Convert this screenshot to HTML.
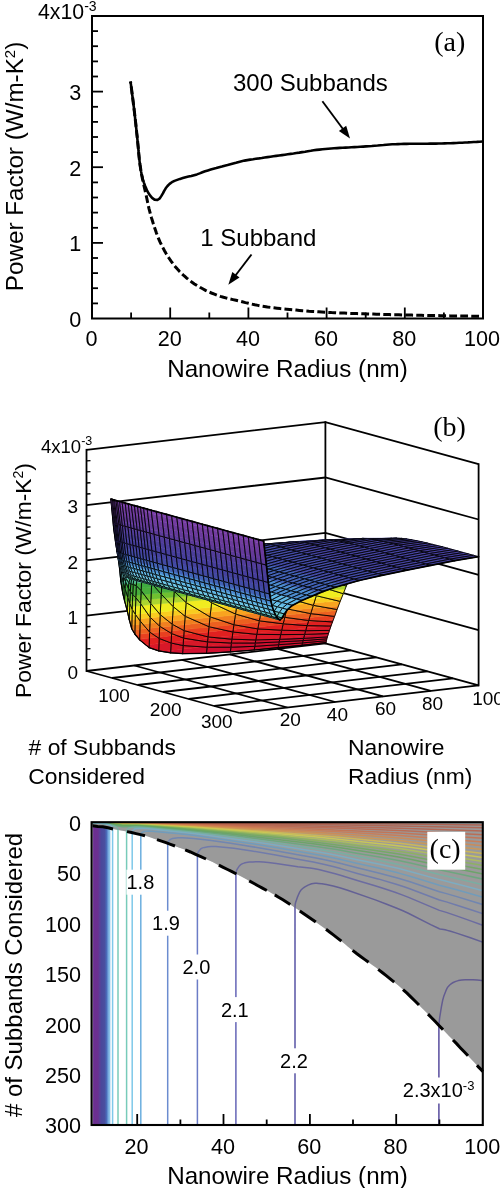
<!DOCTYPE html>
<html lang="en"><head><meta charset="utf-8"><title>Power factor vs nanowire radius</title>
<style>html,body{margin:0;padding:0;background:#fff}svg{display:block}text{fill:#000}</style></head>
<body>
<svg width="500" height="1188" viewBox="0 0 500 1188">
<polyline fill="none" stroke="#000" stroke-width="3" stroke-dasharray="7.8 3.2" stroke-dashoffset="-60" points="130.5,81.5 130.9,84.7 131.4,87.9 131.8,91.1 132.2,94.2 132.6,97.4 133,100.6 133.4,103.8 133.8,107 134.2,110.2 134.6,113.4 134.9,116.6 135.3,119.8 135.7,123 136,126.2 136.4,129.4 136.7,132.6 137.1,135.8 137.4,138.9 137.7,142.1 138,145.3 138.3,148.5 138.6,151.8 138.9,155 139.2,158.2 139.6,161.3 140,164.5 140.5,167.7 141,170.9 141.5,174 142.1,177.2 142.8,180.3 143.5,183.5 144.2,186.6 144.9,189.8 145.6,192.9 146.3,196 147,199.2 147.6,202.3 148.3,205.5 149,208.6 149.8,211.7 150.6,214.8 151.5,217.9 152.5,221 153.4,224.1 154.4,227.1 155.5,230.2 156.5,233.2 157.6,236.2 158.8,239.2 160.1,242.1 161.5,245 163,247.9 164.5,250.7 166.1,253.5 167.8,256.3 169.6,259 171.4,261.6 173.3,264.2 175.3,266.7 177.4,269.1 179.6,271.5 181.9,273.8 184.3,276 186.7,278.1 189.2,280.1 191.7,282 194.4,283.9 197.1,285.6 199.9,287.3 202.7,288.8 205.5,290.3 208.4,291.7 211.4,293 214.4,294.2 217.4,295.4 220.4,296.4 223.5,297.3 226.6,298.1 229.7,298.9 232.9,299.6 236,300.3 239.1,301 242.3,301.8 245.4,302.6 248.5,303.3 251.7,304.1 254.8,304.8 257.9,305.4 261.1,306 264.3,306.5 267.4,307 270.6,307.4 273.8,307.8 277,308.2 280.2,308.6 283.4,308.9 286.6,309.2 289.8,309.5 293,309.8 296.2,310.1 299.4,310.4 302.6,310.7 305.8,310.9 309,311.2 312.2,311.4 315.4,311.6 318.6,311.8 321.8,312 325.1,312.2 328.3,312.4 331.5,312.6 334.7,312.7 337.9,312.9 341.1,313 344.3,313.1 347.5,313.3 350.7,313.4 354,313.5 357.2,313.6 360.4,313.7 363.6,313.8 366.8,313.9 370,314 373.2,314.1 376.4,314.2 379.7,314.3 382.9,314.4 386.1,314.5 389.3,314.6 392.5,314.7 395.7,314.7 398.9,314.8 402.2,314.9 405.4,315 408.6,315.1 411.8,315.1 415,315.2 418.2,315.3 421.4,315.3 424.6,315.4 427.9,315.5 431.1,315.5 434.3,315.6 437.5,315.6 440.7,315.7 443.9,315.8 447.1,315.8 450.4,315.9 453.6,315.9 456.8,316 460,316 463.2,316.1 466.4,316.1 469.6,316.1 472.9,316.2 476.1,316.2 479.3,316.3 482.5,316.3"/>
<polyline fill="none" stroke="#000" stroke-width="2.6" stroke-linejoin="round" points="130.5,81.5 130.9,84.4 131.3,87.3 131.7,90.2 132,93.1 132.4,96 132.8,98.8 133.2,101.7 133.5,104.6 133.9,107.5 134.2,110.4 134.6,113.3 134.9,116.2 135.2,119.1 135.6,122 135.9,124.9 136.2,127.8 136.5,130.7 136.8,133.6 137.1,136.5 137.4,139.4 137.7,142.3 138,145.2 138.3,148.1 138.5,151 138.8,153.9 139.1,156.8 139.4,159.7 139.7,162.6 140.1,165.5 140.5,168.4 141,171.3 141.6,174.1 142.3,177 143,179.8 143.9,182.6 144.9,185.4 146,188.1 147.1,190.7 148.6,193.3 150.2,195.7 152.1,197.9 154.5,199.6 157.4,200 159.8,198.4 161.4,195.9 162.9,193.4 164.2,190.8 165.7,188.3 167.5,186 169.6,183.9 171.9,182.2 174.5,180.9 177.2,179.9 180,178.9 182.8,178.1 185.6,177.3 188.5,176.6 191.3,176 194.1,175.2 196.9,174.4 199.7,173.4 202.4,172.3 205.1,171.3 207.9,170.4 210.7,169.5 213.5,168.7 216.3,168 219.1,167.2 221.9,166.5 224.7,165.7 227.6,165 230.4,164.2 233.2,163.4 236,162.7 238.8,161.9 241.6,161.2 244.5,160.6 247.3,160.1 250.2,159.6 253.1,159.2 256,158.7 258.9,158.4 261.8,158 264.7,157.5 267.5,157.1 270.4,156.7 273.3,156.3 276.2,155.9 279.1,155.5 282,155.1 284.9,154.7 287.8,154.3 290.6,153.9 293.5,153.5 296.4,153 299.3,152.6 302.2,152.1 305.1,151.7 307.9,151.2 310.8,150.8 313.7,150.3 316.6,149.9 319.5,149.6 322.4,149.3 325.3,149 328.2,148.7 331.1,148.5 334,148.3 336.9,148.1 339.8,147.9 342.7,147.8 345.6,147.6 348.5,147.5 351.5,147.3 354.4,147.1 357.3,147 360.2,146.8 363.1,146.6 366,146.4 368.9,146.2 371.8,146 374.7,145.7 377.6,145.5 380.6,145.2 383.5,145 386.4,144.7 389.3,144.5 392.2,144.3 395.1,144.2 398,144.1 400.9,144 403.8,143.9 406.7,143.9 409.7,143.8 412.6,143.8 415.5,143.8 418.4,143.8 421.3,143.7 424.2,143.7 427.2,143.7 430.1,143.6 433,143.6 435.9,143.6 438.8,143.5 441.7,143.5 444.6,143.4 447.6,143.3 450.5,143.2 453.4,143.1 456.3,143 459.2,142.8 462.1,142.7 465,142.5 467.9,142.4 470.9,142.2 473.8,142 476.7,141.9 479.6,141.7 482.5,141.5"/>
<rect x="92" y="16" width="391" height="302.5" fill="none" stroke="#000" stroke-width="2"/>
<line x1="92" y1="31.1" x2="98" y2="31.1" stroke="#000" stroke-width="1.8"/>
<line x1="92" y1="46.2" x2="98" y2="46.2" stroke="#000" stroke-width="1.8"/>
<line x1="92" y1="61.4" x2="98" y2="61.4" stroke="#000" stroke-width="1.8"/>
<line x1="92" y1="76.5" x2="98" y2="76.5" stroke="#000" stroke-width="1.8"/>
<line x1="92" y1="91.6" x2="103" y2="91.6" stroke="#000" stroke-width="1.8"/>
<line x1="92" y1="106.8" x2="98" y2="106.8" stroke="#000" stroke-width="1.8"/>
<line x1="92" y1="121.9" x2="98" y2="121.9" stroke="#000" stroke-width="1.8"/>
<line x1="92" y1="137" x2="98" y2="137" stroke="#000" stroke-width="1.8"/>
<line x1="92" y1="152.1" x2="98" y2="152.1" stroke="#000" stroke-width="1.8"/>
<line x1="92" y1="167.2" x2="103" y2="167.2" stroke="#000" stroke-width="1.8"/>
<line x1="92" y1="182.4" x2="98" y2="182.4" stroke="#000" stroke-width="1.8"/>
<line x1="92" y1="197.5" x2="98" y2="197.5" stroke="#000" stroke-width="1.8"/>
<line x1="92" y1="212.6" x2="98" y2="212.6" stroke="#000" stroke-width="1.8"/>
<line x1="92" y1="227.8" x2="98" y2="227.8" stroke="#000" stroke-width="1.8"/>
<line x1="92" y1="242.9" x2="103" y2="242.9" stroke="#000" stroke-width="1.8"/>
<line x1="92" y1="258" x2="98" y2="258" stroke="#000" stroke-width="1.8"/>
<line x1="92" y1="273.1" x2="98" y2="273.1" stroke="#000" stroke-width="1.8"/>
<line x1="92" y1="288.2" x2="98" y2="288.2" stroke="#000" stroke-width="1.8"/>
<line x1="92" y1="303.4" x2="98" y2="303.4" stroke="#000" stroke-width="1.8"/>
<line x1="131.1" y1="318.5" x2="131.1" y2="312.5" stroke="#000" stroke-width="1.8"/>
<line x1="170.2" y1="318.5" x2="170.2" y2="307.5" stroke="#000" stroke-width="1.8"/>
<line x1="209.3" y1="318.5" x2="209.3" y2="312.5" stroke="#000" stroke-width="1.8"/>
<line x1="248.4" y1="318.5" x2="248.4" y2="307.5" stroke="#000" stroke-width="1.8"/>
<line x1="287.5" y1="318.5" x2="287.5" y2="312.5" stroke="#000" stroke-width="1.8"/>
<line x1="326.6" y1="318.5" x2="326.6" y2="307.5" stroke="#000" stroke-width="1.8"/>
<line x1="365.7" y1="318.5" x2="365.7" y2="312.5" stroke="#000" stroke-width="1.8"/>
<line x1="404.8" y1="318.5" x2="404.8" y2="307.5" stroke="#000" stroke-width="1.8"/>
<line x1="443.9" y1="318.5" x2="443.9" y2="312.5" stroke="#000" stroke-width="1.8"/>
<text x="81.2" y="326.8" font-size="21.6" text-anchor="end" font-family='"Liberation Sans", sans-serif'>0</text>
<text x="81.2" y="251.2" font-size="21.6" text-anchor="end" font-family='"Liberation Sans", sans-serif'>1</text>
<text x="81.2" y="175.6" font-size="21.6" text-anchor="end" font-family='"Liberation Sans", sans-serif'>2</text>
<text x="81.2" y="99.9" font-size="21.6" text-anchor="end" font-family='"Liberation Sans", sans-serif'>3</text>
<text x="38" y="19.3" font-size="21.3" text-anchor="start" font-family='"Liberation Sans", sans-serif'>4x10<tspan dy="-8.5" font-size="14">-3</tspan></text>
<text x="91.5" y="346.4" font-size="21.6" text-anchor="middle" font-family='"Liberation Sans", sans-serif'>0</text>
<text x="169.7" y="346.4" font-size="21.6" text-anchor="middle" font-family='"Liberation Sans", sans-serif'>20</text>
<text x="247.9" y="346.4" font-size="21.6" text-anchor="middle" font-family='"Liberation Sans", sans-serif'>40</text>
<text x="326.1" y="346.4" font-size="21.6" text-anchor="middle" font-family='"Liberation Sans", sans-serif'>60</text>
<text x="404.3" y="346.4" font-size="21.6" text-anchor="middle" font-family='"Liberation Sans", sans-serif'>80</text>
<text x="482" y="346.4" font-size="21.6" text-anchor="middle" font-family='"Liberation Sans", sans-serif'>100</text>
<text x="287.5" y="377.4" font-size="24.2" text-anchor="middle" font-family='"Liberation Sans", sans-serif'>Nanowire Radius (nm)</text>
<text transform="translate(22.7 166.5) rotate(-90)" font-size="24.25" text-anchor="middle" font-family='"Liberation Sans", sans-serif'>Power Factor (W/m-K<tspan dy="-8" font-size="15">2</tspan><tspan dy="8">)</tspan></text>
<text x="233" y="91" font-size="24" text-anchor="start" font-family='"Liberation Sans", sans-serif'>300 Subbands</text>
<text x="200.3" y="246.4" font-size="24" text-anchor="start" font-family='"Liberation Sans", sans-serif'>1 Subband</text>
<text x="434.3" y="50.6" font-size="28" text-anchor="start" font-family='"Liberation Serif", serif'>(a)</text>
<line x1="322.4" y1="101.2" x2="343.7" y2="130" stroke="#000" stroke-width="1.9"/>
<polygon points="350,138.4 338.9,131 346.2,125.7" fill="#000"/>
<line x1="251.5" y1="254.5" x2="234.7" y2="276.5" stroke="#000" stroke-width="1.9"/>
<polygon points="228.3,284.8 232.3,272.1 239.5,277.6" fill="#000"/>
<line x1="86.5" y1="671" x2="325.4" y2="643.4" stroke="#000" stroke-width="1.8"/>
<line x1="112" y1="678" x2="350.9" y2="650.4" stroke="#000" stroke-width="1.8"/>
<line x1="137.6" y1="685" x2="376.5" y2="657.4" stroke="#000" stroke-width="1.8"/>
<line x1="163.1" y1="692" x2="402" y2="664.4" stroke="#000" stroke-width="1.8"/>
<line x1="188.6" y1="699" x2="427.5" y2="671.4" stroke="#000" stroke-width="1.8"/>
<line x1="214.2" y1="706" x2="453.1" y2="678.4" stroke="#000" stroke-width="1.8"/>
<line x1="239.7" y1="713" x2="478.6" y2="685.4" stroke="#000" stroke-width="1.8"/>
<line x1="239.7" y1="713" x2="86.5" y2="671" stroke="#000" stroke-width="1.8"/>
<line x1="287.5" y1="707.5" x2="134.3" y2="665.5" stroke="#000" stroke-width="1.8"/>
<line x1="335.3" y1="702" x2="182.1" y2="660" stroke="#000" stroke-width="1.8"/>
<line x1="383" y1="696.4" x2="229.8" y2="654.4" stroke="#000" stroke-width="1.8"/>
<line x1="430.8" y1="690.9" x2="277.6" y2="648.9" stroke="#000" stroke-width="1.8"/>
<line x1="478.6" y1="685.4" x2="325.4" y2="643.4" stroke="#000" stroke-width="1.8"/>
<polyline fill="none" stroke="#000" stroke-width="1.8" stroke-linejoin="miter" points="86.5,615.7 325.4,588.1 478.6,630.1"/>
<polyline fill="none" stroke="#000" stroke-width="1.8" stroke-linejoin="miter" points="86.5,560.4 325.4,532.8 478.6,574.8"/>
<polyline fill="none" stroke="#000" stroke-width="1.8" stroke-linejoin="miter" points="86.5,505.1 325.4,477.5 478.6,519.5"/>
<polyline fill="none" stroke="#000" stroke-width="1.8" stroke-linejoin="miter" points="86.5,449.8 325.4,422.2 478.6,464.2"/>
<line x1="86.5" y1="671.9" x2="86.5" y2="448.9" stroke="#000" stroke-width="1.8"/>
<line x1="325.4" y1="644.3" x2="325.4" y2="421.3" stroke="#000" stroke-width="1.8"/>
<line x1="478.6" y1="686.3" x2="478.6" y2="463.3" stroke="#000" stroke-width="1.8"/>
<line x1="86.5" y1="659.9" x2="90.5" y2="659.6" stroke="#000" stroke-width="1.4"/>
<line x1="86.5" y1="648.9" x2="90.5" y2="648.6" stroke="#000" stroke-width="1.4"/>
<line x1="86.5" y1="637.8" x2="90.5" y2="637.5" stroke="#000" stroke-width="1.4"/>
<line x1="86.5" y1="626.8" x2="90.5" y2="626.5" stroke="#000" stroke-width="1.4"/>
<line x1="86.5" y1="604.6" x2="90.5" y2="604.3" stroke="#000" stroke-width="1.4"/>
<line x1="86.5" y1="593.6" x2="90.5" y2="593.3" stroke="#000" stroke-width="1.4"/>
<line x1="86.5" y1="582.5" x2="90.5" y2="582.2" stroke="#000" stroke-width="1.4"/>
<line x1="86.5" y1="571.5" x2="90.5" y2="571.2" stroke="#000" stroke-width="1.4"/>
<line x1="86.5" y1="549.3" x2="90.5" y2="549" stroke="#000" stroke-width="1.4"/>
<line x1="86.5" y1="538.3" x2="90.5" y2="538" stroke="#000" stroke-width="1.4"/>
<line x1="86.5" y1="527.2" x2="90.5" y2="526.9" stroke="#000" stroke-width="1.4"/>
<line x1="86.5" y1="516.2" x2="90.5" y2="515.9" stroke="#000" stroke-width="1.4"/>
<line x1="86.5" y1="494" x2="90.5" y2="493.7" stroke="#000" stroke-width="1.4"/>
<line x1="86.5" y1="483" x2="90.5" y2="482.7" stroke="#000" stroke-width="1.4"/>
<line x1="86.5" y1="471.9" x2="90.5" y2="471.6" stroke="#000" stroke-width="1.4"/>
<line x1="86.5" y1="460.9" x2="90.5" y2="460.6" stroke="#000" stroke-width="1.4"/>
<style>.k0{fill:#d01030;stroke:#d01030}.k1{fill:#d81828;stroke:#d81828}.k2{fill:#e02020;stroke:#e02020}.k3{fill:#e84020;stroke:#e84020}.k4{fill:#ec6020;stroke:#ec6020}.k5{fill:#f08020;stroke:#f08020}.k6{fill:#f8a420;stroke:#f8a420}.k7{fill:#f8cc20;stroke:#f8cc20}.k8{fill:#f0ec20;stroke:#f0ec20}.k9{fill:#acd430;stroke:#acd430}.k10{fill:#6fc030;stroke:#6fc030}.k11{fill:#48ae3c;stroke:#48ae3c}.k12{fill:#3faa3f;stroke:#3faa3f}.k13{fill:#4cb88c;stroke:#4cb88c}.k14{fill:#68c8c8;stroke:#68c8c8}.k15{fill:#70c8e8;stroke:#70c8e8}.k16{fill:#62b8e6;stroke:#62b8e6}.k17{fill:#4c8cd0;stroke:#4c8cd0}.k18{fill:#4262b6;stroke:#4262b6}.k19{fill:#424aa4;stroke:#424aa4}.k20{fill:#44429e;stroke:#44429e}.k21{fill:#463e9c;stroke:#463e9c}.k22{fill:#4a3e9a;stroke:#4a3e9a}.k23{fill:#513d9a;stroke:#513d9a}.k24{fill:#5c3b9a;stroke:#5c3b9a}.k25{fill:#643a9a;stroke:#643a9a}.k26{fill:#6b3a9c;stroke:#6b3a9c}.k27{fill:#733ca0;stroke:#733ca0}.k28{fill:#7a3fa8;stroke:#7a3fa8}.k0{}[class^=k]{stroke-width:.5}.m{fill:none;stroke:#000;stroke-width:.9;stroke-linejoin:round}.f{fill:none;stroke:#000;stroke-width:1.2;stroke-linecap:round}.e{fill:none;stroke:#000;stroke-width:1.7;stroke-linecap:round}</style>
<g><path class="k0" d="M302,645.3 325.9,642.7 326.4,640.7 302.5,642.9z"/>
<path class="m" d="M302,645.3 325.9,642.7 326.4,640.7 302.5,642.9z"/>
<path class="f" d="M302,645.3 325.9,642.7"/>
<path class="k0" d="M278.1,647.7 302,645.3 302.5,642.9 278.6,644.7z"/>
<path class="m" d="M278.1,647.7 302,645.3 302.5,642.9 278.6,644.7z"/>
<path class="f" d="M278.1,647.7 302,645.3"/>
<path class="k0" d="M254.2,650 278.1,647.7 278.6,644.7 254.8,646.3z"/>
<path class="m" d="M254.2,650 278.1,647.7 278.6,644.7 254.8,646.3z"/>
<path class="f" d="M254.2,650 278.1,647.7"/>
<path class="k0" d="M230.4,651.9 254.2,650 254.8,646.3 230.9,647.2z"/>
<path class="m" d="M230.4,651.9 254.2,650 254.8,646.3 230.9,647.2z"/>
<path class="f" d="M230.4,651.9 254.2,650"/>
<path class="k0" d="M206.5,653.3 230.4,651.9 230.9,647.2 207,647.2z"/>
<path class="m" d="M206.5,653.3 230.4,651.9 230.9,647.2 207,647.2z"/>
<path class="f" d="M206.5,653.3 230.4,651.9"/>
<path class="k0" d="M182.6,653.6 206.5,653.3 207,647.2zM182.6,653.6 207,647.2 202.7,646.9 182.9,649.1z"/>
<path class="k1" d="M202.7,646.9 183.1,645.5 182.9,649.1z"/>
<path class="m" d="M182.6,653.6 206.5,653.3 207,647.2 183.1,645.5z"/>
<path class="f" d="M182.6,653.6 206.5,653.3"/>
<path class="k0" d="M170.6,652.8 182.6,653.6 182.9,649.1 175.6,649.9zM170.6,652.8 175.6,649.9 170.7,650.5z"/>
<path class="k1" d="M182.9,649.1 183.1,645.5 175.6,649.9zM175.6,649.9 183.1,645.5 171.1,643 170.7,650.5z"/>
<path class="m" d="M170.6,652.8 182.6,653.6 183.1,645.5 171.1,643z"/>
<path class="f" d="M170.6,652.8 182.6,653.6"/>
<path class="k0" d="M161.8,651.4 170.6,652.8 170.7,650.5z"/>
<path class="k1" d="M158.7,650.9 161.8,651.4 170.7,650.5 171.1,643zM158.7,650.9 171.1,643 169.6,642.4 159,643.6z"/>
<path class="k2" d="M169.6,642.4 159.2,638.4 159,643.6z"/>
<path class="m" d="M158.7,650.9 170.6,652.8 171.1,643 159.2,638.4z"/>
<path class="f" d="M158.7,650.9 170.6,652.8"/>
<path class="k1" d="M149.1,647.6 158.7,650.9 159,643.6 152.8,644.3zM149.1,647.6 152.8,644.3 149.2,644.6z"/>
<path class="k2" d="M159,643.6 159.2,638.4 152.8,644.3zM152.8,644.3 159.2,638.4 157.4,637.2 149.4,638.1 149.2,644.6z"/>
<path class="k3" d="M157.4,637.2 151.1,633 149.6,633.1 149.4,638.1z"/>
<path class="k4" d="M151.1,633 149.6,632 149.6,633.1z"/>
<path class="m" d="M149.1,647.6 158.7,650.9 159.2,638.4 149.6,632z"/>
<path class="f" d="M149.1,647.6 158.7,650.9"/>
<path class="k1" d="M145.8,645 149.1,647.6 149.2,644.6z"/>
<path class="k2" d="M139.6,639.9 145.8,645 149.2,644.6 149.4,638.1 140.8,639zM139.6,639.9 140.8,639 139.6,639.1z"/>
<path class="k3" d="M149.4,638.1 149.6,633.1 148,633.3 140.8,639zM140.8,639 148,633.3 139.7,634.1 139.6,639.1z"/>
<path class="k4" d="M149.6,633.1 149.6,632 148,633.3zM148,633.3 149.6,632 146.6,628.5 139.9,629.2 139.7,634.1z"/>
<path class="k5" d="M146.6,628.5 142.7,624 140,624.3 139.9,629.2z"/>
<path class="k6" d="M142.7,624 140.1,620.9 140,624.3z"/>
<path class="m" d="M139.6,639.9 149.1,647.6 149.6,632 140.1,620.9z"/>
<path class="f" d="M139.6,639.9 149.1,647.6"/>
<path class="k2" d="M138.9,639.2 139.6,639.9 139.6,639.1z"/>
<path class="k3" d="M135.3,634.6 138.9,639.2 139.6,639.1 139.7,634.1z"/>
<path class="k4" d="M134.8,634 135.3,634.6 139.7,634.1 139.9,629.2 136.6,629.5zM134.8,634 136.6,629.5 134.9,629.7z"/>
<path class="k5" d="M139.9,629.2 140,624.3 138.7,624.4 136.6,629.5zM136.6,629.5 138.7,624.4 135,624.8 134.9,629.7z"/>
<path class="k6" d="M140,624.3 140.1,620.9 138.7,624.4zM138.7,624.4 140.1,620.9 138.7,618.9 135.2,619.3 135,624.8z"/>
<path class="k7" d="M138.7,618.9 135.4,614.3 135.3,614.3 135.2,619.3z"/>
<path class="k8" d="M135.4,614.3 135.3,614.2 135.3,614.3z"/>
<path class="m" d="M134.8,634 139.6,639.9 140.1,620.9 135.3,614.2z"/>
<path class="f" d="M134.8,634 139.6,639.9"/>
<path class="k4" d="M132.4,629.9 134.8,634 134.9,629.7z"/>
<path class="k5" d="M131.7,628.7 132.4,629.9 134.9,629.7 135,624.8 132.6,625zM131.7,628.7 132.6,625 131.8,625.1z"/>
<path class="k6" d="M135,624.8 135.2,619.3 134,619.4 132.6,625zM132.6,625 134,619.4 131.9,619.6 131.8,625.1z"/>
<path class="k7" d="M135.2,619.3 135.3,614.3 135.3,614.3 134,619.4zM134,619.4 135.3,614.3 132.1,614.7 131.9,619.6z"/>
<path class="k8" d="M135.3,614.3 135.3,614.2 135.3,614.3zM135.3,614.3 135.3,614.2 132.2,609.3 132.1,614.7z"/>
<path class="m" d="M131.7,628.7 134.8,634 135.3,614.2 132.2,609.3z"/>
<path class="f" d="M131.7,628.7 134.8,634"/>
<path class="k5" d="M130.7,625.2 131.7,628.7 131.8,625.1z"/>
<path class="k6" d="M129.3,619.8 130.7,625.2 131.8,625.1 131.9,619.6 129.3,619.8zM129.3,619.8 129.3,619.8 129.3,619.8z"/>
<path class="k7" d="M131.9,619.6 132.1,614.7 130.7,614.8 129.3,619.8zM129.3,619.8 130.7,614.8 129.4,614.9 129.3,619.8z"/>
<path class="k8" d="M132.1,614.7 132.2,609.3 130.7,614.8zM130.7,614.8 132.2,609.3 131.1,606.5 129.7,606.6 129.4,614.9z"/>
<path class="k9" d="M131.1,606.5 129.8,603.1 129.7,606.6z"/>
<path class="m" d="M129.3,619.8 131.7,628.7 132.2,609.3 129.8,603.1z"/>
<path class="f" d="M129.3,619.8 131.7,628.7"/>
<path class="k6" d="M129.3,619.8 129.3,619.8 129.3,619.8z"/>
<path class="k7" d="M128.2,615 129.3,619.8 129.3,619.8 129.4,614.9z"/>
<path class="k8" d="M127.3,611.1 128.2,615 129.4,614.9 129.7,606.6 128.7,606.7zM127.3,611.1 128.7,606.7 127.5,606.8z"/>
<path class="k9" d="M129.7,606.6 129.8,603.1 128.7,606.7zM128.7,606.7 129.8,603.1 129.2,601.2 127.7,601.3 127.5,606.8z"/>
<path class="k10" d="M129.2,601.2 127.8,597.1 127.7,601.3z"/>
<path class="m" d="M127.3,611.1 129.3,619.8 129.8,603.1 127.8,597.1z"/>
<path class="f" d="M127.3,611.1 129.3,619.8"/>
<path class="k8" d="M126.2,606.9 127.3,611.1 127.5,606.8z"/>
<path class="k9" d="M124.8,601.5 126.2,606.9 127.5,606.8 127.7,601.3z"/>
<path class="k10" d="M124.5,600.6 124.8,601.5 127.7,601.3 127.8,597.1zM124.5,600.6 127.8,597.1 127.4,595.9 124.7,596.1z"/>
<path class="k11" d="M127.4,595.9 125.3,589.5 125,589.5 124.7,596.1z"/>
<path class="k12" d="M125.3,589.5 125,588.5 125,589.5z"/>
<path class="m" d="M124.5,600.6 127.3,611.1 127.8,597.1 125,588.5z"/>
<path class="f" d="M124.5,600.6 127.3,611.1"/>
<path class="k10" d="M123.5,596.1 124.5,600.6 124.7,596.1z"/>
<path class="k11" d="M122.7,593 123.5,596.1 124.7,596.1 125,589.5 124.5,589.5zM122.7,593 124.5,589.5 122.9,589.6z"/>
<path class="k12" d="M125,589.5 125,588.5 124.5,589.5zM124.5,589.5 125,588.5 123.8,584.1 123.1,584.2 122.9,589.6z"/>
<path class="k13" d="M123.8,584.1 123.2,582 123.1,584.2z"/>
<path class="m" d="M122.7,593 124.5,600.6 125,588.5 123.2,582z"/>
<path class="f" d="M122.7,593 124.5,600.6"/>
<path class="k11" d="M122.2,589.7 122.7,593 122.9,589.6z"/>
<path class="k12" d="M121.3,584.2 122.2,589.7 122.9,589.6 123.1,584.2z"/>
<path class="k13" d="M120.9,581.7 121.3,584.2 123.1,584.2 123.2,582zM120.9,581.7 123.2,582 122.5,578.8 121.1,578.8z"/>
<path class="k14" d="M122.5,578.8 121.4,573.8 121.1,578.8z"/>
<path class="m" d="M120.9,581.7 122.7,593 123.2,582 121.4,573.8z"/>
<path class="f" d="M120.9,581.7 122.7,593"/>
<path class="k13" d="M120.6,578.8 120.9,581.7 121.1,578.8z"/>
<path class="k14" d="M120,573.3 120.6,578.8 121.1,578.8 121.4,573.8 121.3,573.4zM121.3,573.4 121.4,573.8 121.3,573.4z"/>
<path class="k15" d="M119.5,568 120,573.3 121.3,573.4zM119.5,568 121.3,573.4 121.3,573.4 120.4,567.9 119.5,567.9z"/>
<path class="k16" d="M120.4,567.9 120,565.8 119.5,567.9z"/>
<path class="m" d="M119.5,568 120.9,581.7 121.4,573.8 120,565.8z"/>
<path class="f" d="M119.5,568 120.9,581.7"/>
<path class="k15" d="M119.5,567.8 119.5,568 119.5,567.9z"/>
<path class="k16" d="M118.7,562.4 119.5,567.8 119.5,567.9 120,565.8 119.2,562.5zM119.2,562.5 120,565.8 119.4,562.5z"/>
<path class="k17" d="M118.2,558.6 118.7,562.4 119.2,562.5zM118.2,558.6 119.2,562.5 119.4,562.5 118.7,559.1z"/>
<path class="m" d="M118.2,558.6 119.5,568 120,565.8 118.7,559.1z"/>
<path class="f" d="M118.2,558.6 119.5,568"/>
<path class="k17" d="M117.9,557 118.2,558.6 118.7,559.1 118.3,557.1zM118.3,557.1 118.7,559.1 118.4,557.1z"/>
<path class="k18" d="M117,551.5 117.9,557 118.3,557.1 117,551.5zM117,551.5 118.3,557.1 118.4,557.1 117.5,552.1 117.1,551.6z"/>
<path class="k19" d="M117,551.5 117,551.5 117,551.5zM117,551.5 117,551.5 117.1,551.6z"/>
<path class="m" d="M117,551.5 118.2,558.6 118.7,559.1 117.5,552.1z"/>
<path class="f" d="M117,551.5 118.2,558.6"/>
<path class="k18" d="M117.1,551.6 117.5,552.1 117.4,551.7zM117.4,551.7 117.5,552.1 117.5,551.7z"/>
<path class="k19" d="M116.1,546.1 117,551.5 117.1,551.6 117.4,551.7 116.3,546.2zM116.3,546.2 117.4,551.7 117.5,551.7 116.8,546.2z"/>
<path class="k20" d="M115.7,543.2 116.1,546.1 116.3,546.2zM115.7,543.2 116.3,546.2 116.8,546.2 116.2,541.3z"/>
<path class="m" d="M115.7,543.2 117,551.5 117.5,552.1 116.2,541.3z"/>
<path class="f" d="M115.7,543.2 117,551.5"/>
<path class="k20" d="M115.3,540.7 115.7,543.2 116.2,541.3 116.1,540.8zM116.1,540.8 116.2,541.3 116.1,540.8z"/>
<path class="k21" d="M114.6,535.2 115.3,540.7 116.1,540.8 115,535.3zM115,535.3 116.1,540.8 116.1,540.8 115.5,535.3z"/>
<path class="k22" d="M113.9,529.8 114.6,535.2 115,535.3 114,529.8zM114,529.8 115,535.3 115.5,535.3 114.9,529.9z"/>
<path class="k23" d="M113.7,528.6 113.9,529.8 114,529.8zM113.7,528.6 114,529.8 114.9,529.9 114.3,524.4 114.2,524.4z"/>
<path class="k24" d="M114.3,524.4 114.3,524.2 114.2,524.4z"/>
<path class="m" d="M113.7,528.6 115.7,543.2 116.2,541.3 114.3,524.2z"/>
<path class="f" d="M113.7,528.6 115.7,543.2"/>
<path class="k23" d="M113.3,524.3 113.7,528.6 114.2,524.4z"/>
<path class="k24" d="M112.8,518.9 113.3,524.3 114.2,524.4 114.3,524.2 113.6,518.9zM113.6,518.9 114.3,524.2 113.7,519z"/>
<path class="k25" d="M112.3,513.4 112.8,518.9 113.6,518.9 112.8,513.4zM112.8,513.4 113.6,518.9 113.7,519 113,513.5z"/>
<path class="k26" d="M111.7,507.9 112.3,513.4 112.8,513.4 112.1,507.9zM112.1,507.9 112.8,513.4 113,513.5 112.4,508z"/>
<path class="k27" d="M111.2,502.4 111.7,507.9 112.1,507.9 111.3,502.5zM111.3,502.5 112.1,507.9 112.4,508 111.8,502.6z"/>
<path class="k28" d="M110.9,499.2 111.2,502.4 111.3,502.5zM110.9,499.2 111.3,502.5 111.8,502.6 111.4,499.3z"/>
<path class="m" d="M110.9,499.2 113.7,528.6 114.3,524.2 111.4,499.3z"/>
<path class="e" d="M110.9,499.2 111.4,499.3"/>
<path class="f" d="M110.9,499.2 113.7,528.6"/>
<path class="k0" d="M302.5,642.9 326.4,640.7 326.9,638.8 303,640.6z"/>
<path class="m" d="M302.5,642.9 326.4,640.7 326.9,638.8 303,640.6z"/>
<path class="k0" d="M278.6,644.7 302.5,642.9 303,640.6 279.2,641.9z"/>
<path class="m" d="M278.6,644.7 302.5,642.9 303,640.6 279.2,641.9z"/>
<path class="k0" d="M254.8,646.3 278.6,644.7 279.2,641.9 255.3,643z"/>
<path class="m" d="M254.8,646.3 278.6,644.7 279.2,641.9 255.3,643z"/>
<path class="k0" d="M230.9,647.2 254.8,646.3 255.3,643zM230.9,647.2 255.3,643 238.1,643 231.3,643.8z"/>
<path class="k1" d="M238.1,643 231.4,643 231.3,643.8z"/>
<path class="m" d="M230.9,647.2 254.8,646.3 255.3,643 231.4,643z"/>
<path class="k0" d="M207,647.2 230.9,647.2 231.3,643.8 219.4,645.1zM207,647.2 219.4,645.1 207,646.4z"/>
<path class="k1" d="M231.3,643.8 231.4,643 219.4,645.1zM219.4,645.1 231.4,643 207.5,641.9 207,646.4z"/>
<path class="m" d="M207,647.2 230.9,647.2 231.4,643 207.5,641.9z"/>
<path class="k0" d="M202.7,646.9 207,647.2 207,646.4z"/>
<path class="k1" d="M183.1,645.5 202.7,646.9 207,646.4 207.5,641.9zM183.1,645.5 207.5,641.9 194.3,639.8 183.4,641z"/>
<path class="k2" d="M194.3,639.8 183.6,638.1 183.4,641z"/>
<path class="m" d="M183.1,645.5 207,647.2 207.5,641.9 183.6,638.1z"/>
<path class="k1" d="M171.1,643 183.1,645.5 183.4,641 173.8,642zM171.1,643 173.8,642 171.2,642.3z"/>
<path class="k2" d="M183.4,641 183.6,638.1 173.8,642zM173.8,642 183.6,638.1 176.2,635.2 171.5,635.7 171.2,642.3z"/>
<path class="k3" d="M176.2,635.2 171.6,633.5 171.5,635.7z"/>
<path class="m" d="M171.1,643 183.1,645.5 183.6,638.1 171.6,633.5z"/>
<path class="k1" d="M169.6,642.4 171.1,643 171.2,642.3z"/>
<path class="k2" d="M159.2,638.4 169.6,642.4 171.2,642.3 171.5,635.7 164,636.5zM159.2,638.4 164,636.5 159.3,637z"/>
<path class="k3" d="M171.5,635.7 171.6,633.5 164,636.5zM164,636.5 171.6,633.5 167.9,631.2 159.5,632.1 159.3,637z"/>
<path class="k4" d="M167.9,631.2 161.1,627 159.7,627.2 159.5,632.1z"/>
<path class="k5" d="M161.1,627 159.7,626.2 159.7,627.2z"/>
<path class="m" d="M159.2,638.4 171.1,643 171.6,633.5 159.7,626.2z"/>
<path class="k2" d="M157.4,637.2 159.2,638.4 159.3,637z"/>
<path class="k3" d="M151.1,633 157.4,637.2 159.3,637 159.5,632.1z"/>
<path class="k4" d="M149.6,632 151.1,633 159.5,632.1 159.7,627.2 157.6,627.4zM149.6,632 157.6,627.4 149.8,628.2z"/>
<path class="k5" d="M159.7,627.2 159.7,626.2 157.6,627.4zM157.6,627.4 159.7,626.2 155.9,622.7 149.9,623.3 149.8,628.2z"/>
<path class="k6" d="M155.9,622.7 150.7,617.7 150.1,617.8 149.9,623.3z"/>
<path class="k7" d="M150.7,617.7 150.1,617.2 150.1,617.8z"/>
<path class="m" d="M149.6,632 159.2,638.4 159.7,626.2 150.1,617.2z"/>
<path class="k4" d="M146.6,628.5 149.6,632 149.8,628.2z"/>
<path class="k5" d="M142.7,624 146.6,628.5 149.8,628.2 149.9,623.3z"/>
<path class="k6" d="M140.1,620.9 142.7,624 149.9,623.3 150.1,617.8 148,618zM140.1,620.9 148,618 140.1,618.8z"/>
<path class="k7" d="M150.1,617.8 150.1,617.2 148,618zM148,618 150.1,617.2 147.3,613.1 140.3,613.8 140.1,618.8z"/>
<path class="k8" d="M147.3,613.1 142,605.5 140.5,605.6 140.3,613.8z"/>
<path class="k9" d="M142,605.5 140.6,603.5 140.5,605.6z"/>
<path class="m" d="M140.1,620.9 149.6,632 150.1,617.2 140.6,603.5z"/>
<path class="k6" d="M138.7,618.9 140.1,620.9 140.1,618.8z"/>
<path class="k7" d="M135.4,614.3 138.7,618.9 140.1,618.8 140.3,613.8z"/>
<path class="k8" d="M135.3,614.2 135.4,614.3 140.3,613.8 140.5,605.6 139.5,605.7zM135.3,614.2 139.5,605.7 135.5,606.1z"/>
<path class="k9" d="M140.5,605.6 140.6,603.5 139.5,605.7zM139.5,605.7 140.6,603.5 138.1,600.4 135.7,600.6 135.5,606.1z"/>
<path class="k10" d="M138.1,600.4 135.8,597.6 135.7,600.6z"/>
<path class="m" d="M135.3,614.2 140.1,620.9 140.6,603.5 135.8,597.6z"/>
<path class="k8" d="M132.2,609.3 135.3,614.2 135.5,606.1 133.1,606.3zM132.2,609.3 133.1,606.3 132.3,606.4z"/>
<path class="k9" d="M135.5,606.1 135.7,600.6 134.8,600.7 133.1,606.3zM133.1,606.3 134.8,600.7 132.5,600.9 132.3,606.4z"/>
<path class="k10" d="M135.7,600.6 135.8,597.6 134.8,600.7zM134.8,600.7 135.8,597.6 133.6,595.4 132.7,595.5 132.5,600.9z"/>
<path class="k11" d="M133.6,595.4 132.7,594.5 132.7,595.5z"/>
<path class="m" d="M132.2,609.3 135.3,614.2 135.8,597.6 132.7,594.5z"/>
<path class="k8" d="M131.1,606.5 132.2,609.3 132.3,606.4z"/>
<path class="k9" d="M129.8,603.1 131.1,606.5 132.3,606.4 132.5,600.9 130.5,601.1zM129.8,603.1 130.5,601.1 129.9,601.2z"/>
<path class="k10" d="M132.5,600.9 132.7,595.5 132.4,595.5 130.5,601.1zM130.5,601.1 132.4,595.5 130.1,595.7 129.9,601.2z"/>
<path class="k11" d="M132.7,595.5 132.7,594.5 132.4,595.5zM132.4,595.5 132.7,594.5 130.3,591.3 130.1,595.7z"/>
<path class="m" d="M129.8,603.1 132.2,609.3 132.7,594.5 130.3,591.3z"/>
<path class="k9" d="M129.2,601.2 129.8,603.1 129.9,601.2z"/>
<path class="k10" d="M127.8,597.1 129.2,601.2 129.9,601.2 130.1,595.7 128.4,595.8zM127.8,597.1 128.4,595.8 127.9,595.9z"/>
<path class="k11" d="M130.1,595.7 130.3,591.3 128.4,595.8zM128.4,595.8 130.3,591.3 129.1,589.3 128.3,589.3 127.9,595.9z"/>
<path class="k12" d="M129.1,589.3 128.3,587.9 128.3,589.3z"/>
<path class="m" d="M127.8,597.1 129.8,603.1 130.3,591.3 128.3,587.9z"/>
<path class="k10" d="M127.4,595.9 127.8,597.1 127.9,595.9z"/>
<path class="k11" d="M125.3,589.5 127.4,595.9 127.9,595.9 128.3,589.3z"/>
<path class="k12" d="M125,588.5 125.3,589.5 128.3,589.3 128.3,587.9zM125,588.5 128.3,587.9 126.6,584 125.4,584.1z"/>
<path class="k13" d="M126.6,584 125.5,581.5 125.4,584.1z"/>
<path class="m" d="M125,588.5 127.8,597.1 128.3,587.9 125.5,581.5z"/>
<path class="k12" d="M123.8,584.1 125,588.5 125.4,584.1z"/>
<path class="k13" d="M123.2,582 123.8,584.1 125.4,584.1 125.5,581.5zM123.2,582 125.5,581.5 124.6,578.7 123.5,578.8z"/>
<path class="k14" d="M124.6,578.7 123.7,576.4 123.5,578.8z"/>
<path class="m" d="M123.2,582 125,588.5 125.5,581.5 123.7,576.4z"/>
<path class="k13" d="M122.5,578.8 123.2,582 123.5,578.8z"/>
<path class="k14" d="M121.4,573.8 122.5,578.8 123.5,578.8 123.7,576.4zM121.4,573.8 123.7,576.4 122.8,573.4 121.5,573.4z"/>
<path class="k15" d="M122.8,573.4 121.9,570.5 121.5,573.4z"/>
<path class="m" d="M121.4,573.8 123.2,582 123.7,576.4 121.9,570.5z"/>
<path class="k14" d="M121.3,573.4 121.4,573.8 121.5,573.4z"/>
<path class="k15" d="M120.4,567.9 121.3,573.4 121.5,573.4 121.9,570.5 120.9,568zM120.9,568 121.9,570.5 121.3,568z"/>
<path class="k16" d="M120,565.8 120.4,567.9 120.9,568zM120,565.8 120.9,568 121.3,568 120.5,565.1z"/>
<path class="m" d="M120,565.8 121.4,573.8 121.9,570.5 120.5,565.1z"/>
<path class="k16" d="M119.4,562.5 120,565.8 120.5,565.1 119.8,562.6zM119.8,562.6 120.5,565.1 120,562.7z"/>
<path class="k17" d="M118.7,559.1 119.4,562.5 119.8,562.6zM118.7,559.1 119.8,562.6 120,562.7 119.2,559.4z"/>
<path class="m" d="M118.7,559.1 120,565.8 120.5,565.1 119.2,559.4z"/>
<path class="k17" d="M118.4,557.1 118.7,559.1 119.2,559.4 118.7,557.2zM118.7,557.2 119.2,559.4 118.9,557.3z"/>
<path class="k18" d="M117.5,552.1 118.4,557.1 118.7,557.2zM117.5,552.1 118.7,557.2 118.9,557.3 118,552.4z"/>
<path class="m" d="M117.5,552.1 118.7,559.1 119.2,559.4 118,552.4z"/>
<path class="k18" d="M117.5,551.7 117.5,552.1 118,552.4 117.9,551.8zM117.9,551.8 118,552.4 118,551.8z"/>
<path class="k19" d="M116.8,546.2 117.5,551.7 117.9,551.8 117,546.3zM117,546.3 117.9,551.8 118,551.8 117.3,546.4z"/>
<path class="k20" d="M116.2,541.3 116.8,546.2 117,546.3zM116.2,541.3 117,546.3 117.3,546.4 116.7,541z"/>
<path class="m" d="M116.2,541.3 117.5,552.1 118,552.4 116.7,541z"/>
<path class="k20" d="M116.1,540.8 116.2,541.3 116.7,541 116.7,540.9zM116.7,540.9 116.7,541 116.7,540.9z"/>
<path class="k21" d="M115.5,535.3 116.1,540.8 116.7,540.9 115.9,535.4zM115.9,535.4 116.7,540.9 116.7,540.9 116.1,535.5z"/>
<path class="k22" d="M114.9,529.9 115.5,535.3 115.9,535.4 115.1,529.9zM115.1,529.9 115.9,535.4 116.1,535.5 115.5,530z"/>
<path class="k23" d="M114.3,524.4 114.9,529.9 115.1,529.9 114.3,524.4zM114.3,524.4 115.1,529.9 115.5,530 114.9,524.5z"/>
<path class="k24" d="M114.3,524.2 114.3,524.4 114.3,524.4zM114.3,524.2 114.3,524.4 114.9,524.5 114.8,523.6z"/>
<path class="m" d="M114.3,524.2 116.2,541.3 116.7,541 114.8,523.6z"/>
<path class="k24" d="M113.7,519 114.3,524.2 114.8,523.6 114.1,519.1zM114.1,519.1 114.8,523.6 114.2,519.1z"/>
<path class="k25" d="M113,513.5 113.7,519 114.1,519.1 113.4,513.6zM113.4,513.6 114.1,519.1 114.2,519.1 113.6,513.6z"/>
<path class="k26" d="M112.4,508 113,513.5 113.4,513.6 112.6,508.1zM112.6,508.1 113.4,513.6 113.6,513.6 113,508.2z"/>
<path class="k27" d="M111.8,502.6 112.4,508 112.6,508.1 111.9,502.6zM111.9,502.6 112.6,508.1 113,508.2 112.3,502.7z"/>
<path class="k28" d="M111.4,499.3 111.8,502.6 111.9,502.6zM111.4,499.3 111.9,502.6 112.3,502.7 111.9,499.4z"/>
<path class="m" d="M111.4,499.3 114.3,524.2 114.8,523.6 111.9,499.4z"/>
<path class="e" d="M111.4,499.3 111.9,499.4"/>
<path class="k0" d="M303,640.6 326.9,638.8 327.4,636.9 303.6,638.4z"/>
<path class="m" d="M303,640.6 326.9,638.8 327.4,636.9 303.6,638.4z"/>
<path class="k0" d="M279.2,641.9 303,640.6 303.6,638.4 279.7,639.3z"/>
<path class="m" d="M279.2,641.9 303,640.6 303.6,638.4 279.7,639.3z"/>
<path class="k0" d="M255.3,643 279.2,641.9 279.7,639.3zM255.3,643 279.7,639.3 269.8,639.6 255.6,641.1z"/>
<path class="k1" d="M269.8,639.6 255.8,639.9 255.6,641.1z"/>
<path class="m" d="M255.3,643 279.2,641.9 279.7,639.3 255.8,639.9z"/>
<path class="k0" d="M238.1,643 255.3,643 255.6,641.1z"/>
<path class="k1" d="M231.4,643 238.1,643 255.6,641.1 255.8,639.9zM231.4,643 255.8,639.9 231.9,639.2z"/>
<path class="m" d="M231.4,643 255.3,643 255.8,639.9 231.9,639.2z"/>
<path class="k1" d="M207.5,641.9 231.4,643 231.9,639.2zM207.5,641.9 231.9,639.2 215.2,637.6 207.8,638.4z"/>
<path class="k2" d="M215.2,637.6 208,636.9 207.8,638.4z"/>
<path class="m" d="M207.5,641.9 231.4,643 231.9,639.2 208,636.9z"/>
<path class="k1" d="M194.3,639.8 207.5,641.9 207.8,638.4z"/>
<path class="k2" d="M183.6,638.1 194.3,639.8 207.8,638.4 208,636.9zM183.6,638.1 208,636.9 194.5,633.3 183.8,634.5z"/>
<path class="k3" d="M194.5,633.3 184.1,630.6 183.8,634.5z"/>
<path class="m" d="M183.6,638.1 207.5,641.9 208,636.9 184.1,630.6z"/>
<path class="k2" d="M176.2,635.2 183.6,638.1 183.8,634.5z"/>
<path class="k3" d="M171.6,633.5 176.2,635.2 183.8,634.5 184.1,630.6zM171.6,633.5 184.1,630.6 182.5,629.7 171.8,630.8z"/>
<path class="k4" d="M182.5,629.7 174.9,625.6 172.1,625.9 171.8,630.8z"/>
<path class="k5" d="M174.9,625.6 172.2,624.2 172.1,625.9z"/>
<path class="m" d="M171.6,633.5 183.6,638.1 184.1,630.6 172.2,624.2z"/>
<path class="k3" d="M167.9,631.2 171.6,633.5 171.8,630.8z"/>
<path class="k4" d="M161.1,627 167.9,631.2 171.8,630.8 172.1,625.9z"/>
<path class="k5" d="M159.7,626.2 161.1,627 172.1,625.9 172.2,624.2zM159.7,626.2 172.2,624.2 168.7,621.4 159.9,622.3z"/>
<path class="k6" d="M168.7,621.4 162.6,616.5 160.1,616.8 159.9,622.3z"/>
<path class="k7" d="M162.6,616.5 160.2,614.6 160.1,616.8z"/>
<path class="m" d="M159.7,626.2 171.6,633.5 172.2,624.2 160.2,614.6z"/>
<path class="k5" d="M155.9,622.7 159.7,626.2 159.9,622.3z"/>
<path class="k6" d="M150.7,617.7 155.9,622.7 159.9,622.3 160.1,616.8z"/>
<path class="k7" d="M150.1,617.2 150.7,617.7 160.1,616.8 160.2,614.6zM150.1,617.2 160.2,614.6 158.1,612.1 150.3,612.9z"/>
<path class="k8" d="M158.1,612.1 151.7,604.5 150.6,604.6 150.3,612.9z"/>
<path class="k9" d="M151.7,604.5 150.7,603.3 150.6,604.6z"/>
<path class="m" d="M150.1,617.2 159.7,626.2 160.2,614.6 150.7,603.3z"/>
<path class="k7" d="M147.3,613.1 150.1,617.2 150.3,612.9z"/>
<path class="k8" d="M142,605.5 147.3,613.1 150.3,612.9 150.6,604.6z"/>
<path class="k9" d="M140.6,603.5 142,605.5 150.6,604.6 150.7,603.3zM140.6,603.5 150.7,603.3 147.8,599.5 140.7,600.1z"/>
<path class="k10" d="M147.8,599.5 144,594.4 140.9,594.7 140.7,600.1z"/>
<path class="k11" d="M144,594.4 141.1,590.5 140.9,594.7z"/>
<path class="m" d="M140.6,603.5 150.1,617.2 150.7,603.3 141.1,590.5z"/>
<path class="k9" d="M138.1,600.4 140.6,603.5 140.7,600.1z"/>
<path class="k10" d="M135.8,597.6 138.1,600.4 140.7,600.1 140.9,594.7 137.8,595zM135.8,597.6 137.8,595 135.9,595.1z"/>
<path class="k11" d="M140.9,594.7 141.1,590.5 137.8,595zM137.8,595 141.1,590.5 138.9,588.3 136.2,588.6 135.9,595.1z"/>
<path class="k12" d="M138.9,588.3 136.3,585.7 136.2,588.6z"/>
<path class="m" d="M135.8,597.6 140.6,603.5 141.1,590.5 136.3,585.7z"/>
<path class="k10" d="M133.6,595.4 135.8,597.6 135.9,595.1z"/>
<path class="k11" d="M132.7,594.5 133.6,595.4 135.9,595.1 136.2,588.6 135.1,588.7zM132.7,594.5 135.1,588.7 133,588.9z"/>
<path class="k12" d="M136.2,588.6 136.3,585.7 135.1,588.7zM135.1,588.7 136.3,585.7 133.2,584.4 133,588.9z"/>
<path class="m" d="M132.7,594.5 135.8,597.6 136.3,585.7 133.2,584.4z"/>
<path class="k11" d="M130.3,591.3 132.7,594.5 133,588.9 131.2,589.1zM130.3,591.3 131.2,589.1 130.5,589.2z"/>
<path class="k12" d="M133,588.9 133.2,584.4 131.2,589.1zM131.2,589.1 133.2,584.4 130.8,583.9 130.5,589.2z"/>
<path class="m" d="M130.3,591.3 132.7,594.5 133.2,584.4 130.8,583.9z"/>
<path class="k11" d="M129.1,589.3 130.3,591.3 130.5,589.2z"/>
<path class="k12" d="M128.3,587.9 129.1,589.3 130.5,589.2 130.8,583.9zM128.3,587.9 130.8,583.9 130.6,583.7 128.7,583.9z"/>
<path class="k13" d="M130.6,583.7 128.8,582.7 128.7,583.9z"/>
<path class="m" d="M128.3,587.9 130.3,591.3 130.8,583.9 128.8,582.7z"/>
<path class="k12" d="M126.6,584 128.3,587.9 128.7,583.9z"/>
<path class="k13" d="M125.5,581.5 126.6,584 128.7,583.9 128.8,582.7zM125.5,581.5 128.8,582.7 126.3,578.7 126,578.7z"/>
<path class="k14" d="M126.3,578.7 126,578.4 126,578.7z"/>
<path class="m" d="M125.5,581.5 128.3,587.9 128.8,582.7 126,578.4z"/>
<path class="k13" d="M124.6,578.7 125.5,581.5 126,578.7z"/>
<path class="k14" d="M123.7,576.4 124.6,578.7 126,578.7 126,578.4zM123.7,576.4 126,578.4 124.3,574.4z"/>
<path class="m" d="M123.7,576.4 125.5,581.5 126,578.4 124.3,574.4z"/>
<path class="k14" d="M122.8,573.4 123.7,576.4 124.3,574.4 123.7,573.4zM123.7,573.4 124.3,574.4 123.9,573.5z"/>
<path class="k15" d="M121.9,570.5 122.8,573.4 123.7,573.4zM121.9,570.5 123.7,573.4 123.9,573.5 122.4,569.6z"/>
<path class="m" d="M121.9,570.5 123.7,576.4 124.3,574.4 122.4,569.6z"/>
<path class="k15" d="M121.3,568 121.9,570.5 122.4,569.6 121.8,568.1zM121.8,568.1 122.4,569.6 122,568.2z"/>
<path class="k16" d="M120.5,565.1 121.3,568 121.8,568.1zM120.5,565.1 121.8,568.1 122,568.2 121,565z"/>
<path class="m" d="M120.5,565.1 121.9,570.5 122.4,569.6 121,565z"/>
<path class="k16" d="M120,562.7 120.5,565.1 121,565 120.3,562.7zM120.3,562.7 121,565 120.5,562.8z"/>
<path class="k17" d="M119.2,559.4 120,562.7 120.3,562.7zM119.2,559.4 120.3,562.7 120.5,562.8 119.7,559.5z"/>
<path class="m" d="M119.2,559.4 120.5,565.1 121,565 119.7,559.5z"/>
<path class="k17" d="M118.9,557.3 119.2,559.4 119.7,559.5 119.2,557.4zM119.2,557.4 119.7,559.5 119.4,557.4z"/>
<path class="k18" d="M118,552.4 118.9,557.3 119.2,557.4zM118,552.4 119.2,557.4 119.4,557.4 118.5,552.5z"/>
<path class="m" d="M118,552.4 119.2,559.4 119.7,559.5 118.5,552.5z"/>
<path class="k18" d="M118,551.8 118,552.4 118.5,552.5 118.4,552zM118.4,552 118.5,552.5 118.5,552z"/>
<path class="k19" d="M117.3,546.4 118,551.8 118.4,552 117.5,546.4zM117.5,546.4 118.4,552 118.5,552 117.8,546.5z"/>
<path class="k20" d="M116.7,541 117.3,546.4 117.5,546.4zM116.7,541 117.5,546.4 117.8,546.5 117.2,541.1z"/>
<path class="m" d="M116.7,541 118,552.4 118.5,552.5 117.2,541.1z"/>
<path class="k20" d="M116.7,540.9 116.7,541 117.2,541.1 117.2,541.1zM117.2,541.1 117.2,541.1 117.2,541.1z"/>
<path class="k21" d="M116.1,535.5 116.7,540.9 117.2,541.1 116.4,535.6zM116.4,535.6 117.2,541.1 117.2,541.1 116.6,535.6z"/>
<path class="k22" d="M115.5,530 116.1,535.5 116.4,535.6 115.7,530.1zM115.7,530.1 116.4,535.6 116.6,535.6 116,530.1z"/>
<path class="k23" d="M114.9,524.5 115.5,530 115.7,530.1 114.9,524.5zM114.9,524.5 115.7,530.1 116,530.1 115.4,524.7z"/>
<path class="k24" d="M114.8,523.6 114.9,524.5 114.9,524.5zM114.8,523.6 114.9,524.5 115.4,524.7 115.3,523.6z"/>
<path class="m" d="M114.8,523.6 116.7,541 117.2,541.1 115.3,523.6z"/>
<path class="k24" d="M114.2,519.1 114.8,523.6 115.3,523.6 114.7,519.2zM114.7,519.2 115.3,523.6 114.8,519.2z"/>
<path class="k25" d="M113.6,513.6 114.2,519.1 114.7,519.2 113.9,513.7zM113.9,513.7 114.7,519.2 114.8,519.2 114.1,513.8z"/>
<path class="k26" d="M113,508.2 113.6,513.6 113.9,513.7 113.1,508.2zM113.1,508.2 113.9,513.7 114.1,513.8 113.5,508.3z"/>
<path class="k27" d="M112.3,502.7 113,508.2 113.1,508.2 112.4,502.7zM112.4,502.7 113.1,508.2 113.5,508.3 112.8,502.9z"/>
<path class="k28" d="M111.9,499.4 112.3,502.7 112.4,502.7zM111.9,499.4 112.4,502.7 112.8,502.9 112.4,499.6z"/>
<path class="m" d="M111.9,499.4 114.8,523.6 115.3,523.6 112.4,499.6z"/>
<path class="e" d="M111.9,499.4 112.4,499.6"/>
<path class="k0" d="M303.6,638.4 327.4,636.9 328.5,633.5zM303.6,638.4 328.5,633.5 324.5,633.6 304.2,635.8z"/>
<path class="k1" d="M324.5,633.6 304.6,634.4 304.2,635.8z"/>
<path class="m" d="M303.6,638.4 327.4,636.9 328.5,633.5 304.6,634.4z"/>
<path class="k0" d="M279.7,639.3 303.6,638.4 304.2,635.8 288.7,637.5zM279.7,639.3 288.7,637.5 279.8,638.5z"/>
<path class="k1" d="M304.2,635.8 304.6,634.4 288.7,637.5zM288.7,637.5 304.6,634.4 280.7,634.6 279.8,638.5z"/>
<path class="m" d="M279.7,639.3 303.6,638.4 304.6,634.4 280.7,634.6z"/>
<path class="k0" d="M269.8,639.6 279.7,639.3 279.8,638.5z"/>
<path class="k1" d="M255.8,639.9 269.8,639.6 279.8,638.5 280.7,634.6zM255.8,639.9 280.7,634.6 256.8,634.3z"/>
<path class="m" d="M255.8,639.9 279.7,639.3 280.7,634.6 256.8,634.3z"/>
<path class="k1" d="M231.9,639.2 255.8,639.9 256.8,634.3zM231.9,639.2 256.8,634.3 251.5,633.8 232.4,635.8z"/>
<path class="k2" d="M251.5,633.8 232.9,632 232.4,635.8z"/>
<path class="m" d="M231.9,639.2 255.8,639.9 256.8,634.3 232.9,632z"/>
<path class="k1" d="M215.2,637.6 231.9,639.2 232.4,635.8z"/>
<path class="k2" d="M208,636.9 215.2,637.6 232.4,635.8 232.9,632zM208,636.9 232.9,632 224.9,630.2 208.5,631.9z"/>
<path class="k3" d="M224.9,630.2 210.1,626.9 209,627.1 208.5,631.9z"/>
<path class="k4" d="M210.1,626.9 209,626.7 209,627.1z"/>
<path class="m" d="M208,636.9 231.9,639.2 232.9,632 209,626.7z"/>
<path class="k2" d="M194.5,633.3 208,636.9 208.5,631.9z"/>
<path class="k3" d="M184.1,630.6 194.5,633.3 208.5,631.9 209,627.1 202.7,627.7zM184.1,630.6 202.7,627.7 184.2,629.6z"/>
<path class="k4" d="M209,627.1 209,626.7 202.7,627.7zM202.7,627.7 209,626.7 200.7,623.1 184.5,624.7 184.2,629.6z"/>
<path class="k5" d="M200.7,623.1 191.8,619.1 184.9,619.8 184.5,624.7z"/>
<path class="k6" d="M191.8,619.1 185.1,616.2 184.9,619.8z"/>
<path class="m" d="M184.1,630.6 208,636.9 209,626.7 185.1,616.2z"/>
<path class="k3" d="M182.5,629.7 184.1,630.6 184.2,629.6z"/>
<path class="k4" d="M174.9,625.6 182.5,629.7 184.2,629.6 184.5,624.7z"/>
<path class="k5" d="M172.2,624.2 174.9,625.6 184.5,624.7 184.9,619.8 178.2,620.5zM172.2,624.2 178.2,620.5 172.3,621z"/>
<path class="k6" d="M184.9,619.8 185.1,616.2 178.2,620.5zM178.2,620.5 185.1,616.2 183.1,614.6 172.7,615.6 172.3,621z"/>
<path class="k7" d="M183.1,614.6 177.7,610.2 172.9,610.7 172.7,615.6z"/>
<path class="k8" d="M177.7,610.2 173.2,606.6 172.9,610.7z"/>
<path class="m" d="M172.2,624.2 184.1,630.6 185.1,616.2 173.2,606.6z"/>
<path class="k5" d="M168.7,621.4 172.2,624.2 172.3,621z"/>
<path class="k6" d="M162.6,616.5 168.7,621.4 172.3,621 172.7,615.6z"/>
<path class="k7" d="M160.2,614.6 162.6,616.5 172.7,615.6 172.9,610.7 165.4,611.4zM160.2,614.6 165.4,611.4 160.3,611.9z"/>
<path class="k8" d="M172.9,610.7 173.2,606.6 165.4,611.4zM165.4,611.4 173.2,606.6 169.6,602.9 160.8,603.7 160.3,611.9z"/>
<path class="k9" d="M169.6,602.9 164.9,597.9 161,598.2 160.8,603.7z"/>
<path class="k10" d="M164.9,597.9 161.2,594.1 161,598.2z"/>
<path class="m" d="M160.2,614.6 172.2,624.2 173.2,606.6 161.2,594.1z"/>
<path class="k7" d="M158.1,612.1 160.2,614.6 160.3,611.9z"/>
<path class="k8" d="M151.7,604.5 158.1,612.1 160.3,611.9 160.8,603.7z"/>
<path class="k9" d="M150.7,603.3 151.7,604.5 160.8,603.7 161,598.2 155.9,598.7zM150.7,603.3 155.9,598.7 150.9,599.2z"/>
<path class="k10" d="M161,598.2 161.2,594.1 155.9,598.7zM155.9,598.7 161.2,594.1 160.2,592.9 151.1,593.7 150.9,599.2z"/>
<path class="k11" d="M160.2,592.9 154.8,586.9 151.5,587.2 151.1,593.7z"/>
<path class="k12" d="M154.8,586.9 151.7,583.3 151.5,587.2z"/>
<path class="m" d="M150.7,603.3 160.2,614.6 161.2,594.1 151.7,583.3z"/>
<path class="k9" d="M147.8,599.5 150.7,603.3 150.9,599.2z"/>
<path class="k10" d="M144,594.4 147.8,599.5 150.9,599.2 151.1,593.7z"/>
<path class="k11" d="M141.1,590.5 144,594.4 151.1,593.7 151.5,587.2 145.2,587.7zM141.1,590.5 145.2,587.7 141.3,588.1z"/>
<path class="k12" d="M151.5,587.2 151.7,583.3 145.2,587.7zM145.2,587.7 151.7,583.3 150.2,581.9 141.6,582.7 141.3,588.1z"/>
<path class="k13" d="M150.2,581.9 145,577 141.9,577.2 141.6,582.7z"/>
<path class="k14" d="M145,577 142.1,574.2 141.9,577.2z"/>
<path class="m" d="M141.1,590.5 150.7,603.3 151.7,583.3 142.1,574.2z"/>
<path class="k11" d="M138.9,588.3 141.1,590.5 141.3,588.1z"/>
<path class="k12" d="M136.3,585.7 138.9,588.3 141.3,588.1 141.6,582.7 137.7,583zM136.3,585.7 137.7,583 136.5,583.1z"/>
<path class="k13" d="M141.6,582.7 141.9,577.2 140.5,577.4 137.7,583zM137.7,583 140.5,577.4 137,577.7 136.5,583.1z"/>
<path class="k14" d="M141.9,577.2 142.1,574.2 140.5,577.4zM140.5,577.4 142.1,574.2 137.3,573.5 137,577.7z"/>
<path class="m" d="M136.3,585.7 141.1,590.5 142.1,574.2 137.3,573.5z"/>
<path class="k12" d="M133.2,584.4 136.3,585.7 136.5,583.1 133.6,583.4zM133.2,584.4 133.6,583.4 133.3,583.5z"/>
<path class="k13" d="M136.5,583.1 137,577.7 135.7,577.9 133.6,583.4zM133.6,583.4 135.7,577.9 134,578.1 133.3,583.5z"/>
<path class="k14" d="M137,577.7 137.3,573.5 135.7,577.9zM135.7,577.9 137.3,573.5 134.2,575.8 134,578.1z"/>
<path class="m" d="M133.2,584.4 136.3,585.7 137.3,573.5 134.2,575.8z"/>
<path class="k12" d="M130.8,583.9 133.2,584.4 133.3,583.5 130.9,583.7zM130.8,583.9 130.9,583.7 130.9,583.7z"/>
<path class="k13" d="M133.3,583.5 134,578.1 133.2,578.2 130.9,583.7zM130.9,583.7 133.2,578.2 131.8,578.5 130.9,583.7z"/>
<path class="k14" d="M134,578.1 134.2,575.8 133.2,578.2zM133.2,578.2 134.2,575.8 131.8,578.3 131.8,578.5z"/>
<path class="m" d="M130.8,583.9 133.2,584.4 134.2,575.8 131.8,578.3z"/>
<path class="k12" d="M130.6,583.7 130.8,583.9 130.9,583.7z"/>
<path class="k13" d="M128.8,582.7 130.6,583.7 130.9,583.7 131.8,578.5 131.7,578.5zM128.8,582.7 131.7,578.5 131.5,578.5 129.9,579.5z"/>
<path class="k14" d="M131.8,578.5 131.8,578.3 131.7,578.5zM131.7,578.5 131.8,578.3 131.5,578.5z"/>
<path class="m" d="M128.8,582.7 130.8,583.9 131.8,578.3 129.9,579.5z"/>
<path class="k13" d="M126.3,578.7 128.8,582.7 129.9,579.5 127.2,578.7zM127.2,578.7 129.9,579.5 129.1,578.8z"/>
<path class="k14" d="M126,578.4 126.3,578.7 127.2,578.7zM126,578.4 127.2,578.7 129.1,578.8 127.1,577z"/>
<path class="m" d="M126,578.4 128.8,582.7 129.9,579.5 127.1,577z"/>
<path class="k14" d="M124.3,574.4 126,578.4 127.1,577 125.3,573.8z"/>
<path class="m" d="M124.3,574.4 126,578.4 127.1,577 125.3,573.8z"/>
<path class="k14" d="M123.9,573.5 124.3,574.4 125.3,573.8 125.2,573.7zM125.2,573.7 125.3,573.8 125.2,573.7z"/>
<path class="k15" d="M122.4,569.6 123.9,573.5 125.2,573.7zM122.4,569.6 125.2,573.7 125.2,573.7 123.4,569.5z"/>
<path class="m" d="M122.4,569.6 124.3,574.4 125.3,573.8 123.4,569.5z"/>
<path class="k15" d="M122,568.2 122.4,569.6 123.4,569.5 122.8,568.4zM122.8,568.4 123.4,569.5 123.1,568.4z"/>
<path class="k16" d="M121,565 122,568.2 122.8,568.4zM121,565 122.8,568.4 123.1,568.4 122.1,565.2z"/>
<path class="m" d="M121,565 122.4,569.6 123.4,569.5 122.1,565.2z"/>
<path class="k16" d="M120.5,562.8 121,565 122.1,565.2 121.1,563zM121.1,563 122.1,565.2 121.5,563.1z"/>
<path class="k17" d="M119.7,559.5 120.5,562.8 121.1,563zM119.7,559.5 121.1,563 121.5,563.1 120.8,559.8z"/>
<path class="m" d="M119.7,559.5 121,565 122.1,565.2 120.8,559.8z"/>
<path class="k17" d="M119.4,557.4 119.7,559.5 120.8,559.8 120.1,557.6zM120.1,557.6 120.8,559.8 120.4,557.7z"/>
<path class="k18" d="M118.5,552.5 119.4,557.4 120.1,557.6zM118.5,552.5 120.1,557.6 120.4,557.7 119.5,552.8z"/>
<path class="m" d="M118.5,552.5 119.7,559.5 120.8,559.8 119.5,552.8z"/>
<path class="k18" d="M118.5,552 118.5,552.5 119.5,552.8 119.4,552.2zM119.4,552.2 119.5,552.8 119.5,552.3z"/>
<path class="k19" d="M117.8,546.5 118.5,552 119.4,552.2 118.3,546.7zM118.3,546.7 119.4,552.2 119.5,552.3 118.8,546.8z"/>
<path class="k20" d="M117.2,541.1 117.8,546.5 118.3,546.7zM117.2,541.1 118.3,546.7 118.8,546.8 118.2,541.3z"/>
<path class="m" d="M117.2,541.1 118.5,552.5 119.5,552.8 118.2,541.3z"/>
<path class="k20" d="M117.2,541.1 117.2,541.1 118.2,541.3 118.2,541.3zM118.2,541.3 118.2,541.3 118.2,541.3z"/>
<path class="k21" d="M116.6,535.6 117.2,541.1 118.2,541.3 117.3,535.8zM117.3,535.8 118.2,541.3 118.2,541.3 117.6,535.9z"/>
<path class="k22" d="M116,530.1 116.6,535.6 117.3,535.8 116.4,530.2zM116.4,530.2 117.3,535.8 117.6,535.9 117,530.4z"/>
<path class="k23" d="M115.4,524.7 116,530.1 116.4,530.2 115.5,524.7zM115.5,524.7 116.4,530.2 117,530.4 116.4,525z"/>
<path class="k24" d="M115.3,523.6 115.4,524.7 115.5,524.7zM115.3,523.6 115.5,524.7 116.4,525 116.3,523.9z"/>
<path class="m" d="M115.3,523.6 117.2,541.1 118.2,541.3 116.3,523.9z"/>
<path class="k24" d="M114.8,519.2 115.3,523.6 116.3,523.9 115.6,519.5zM115.6,519.5 116.3,523.9 115.8,519.5z"/>
<path class="k25" d="M114.1,513.8 114.8,519.2 115.6,519.5 114.7,513.9zM114.7,513.9 115.6,519.5 115.8,519.5 115.1,514z"/>
<path class="k26" d="M113.5,508.3 114.1,513.8 114.7,513.9 113.8,508.4zM113.8,508.4 114.7,513.9 115.1,514 114.5,508.6z"/>
<path class="k27" d="M112.8,502.9 113.5,508.3 113.8,508.4 113,502.9zM113,502.9 113.8,508.4 114.5,508.6 113.8,503.1z"/>
<path class="k28" d="M112.4,499.6 112.8,502.9 113,502.9zM112.4,499.6 113,502.9 113.8,503.1 113.5,499.9z"/>
<path class="m" d="M112.4,499.6 115.3,523.6 116.3,523.9 113.5,499.9z"/>
<path class="e" d="M112.4,499.6 113.5,499.9"/>
<path class="k0" d="M324.5,633.6 328.5,633.5 328.6,633.2z"/>
<path class="k1" d="M304.6,634.4 324.5,633.6 328.6,633.2 329.5,630.4zM304.6,634.4 329.5,630.4 305.6,630.7z"/>
<path class="m" d="M304.6,634.4 328.5,633.5 329.5,630.4 305.6,630.7z"/>
<path class="k1" d="M280.7,634.6 304.6,634.4 305.6,630.7zM280.7,634.6 305.6,630.7 285.3,630.3 281.6,630.7z"/>
<path class="k2" d="M285.3,630.3 281.7,630.2 281.6,630.7z"/>
<path class="m" d="M280.7,634.6 304.6,634.4 305.6,630.7 281.7,630.2z"/>
<path class="k1" d="M256.8,634.3 280.7,634.6 281.6,630.7 274.1,631.4zM256.8,634.3 274.1,631.4 257,633.2z"/>
<path class="k2" d="M281.6,630.7 281.7,630.2 274.1,631.4zM274.1,631.4 281.7,630.2 257.8,628.9 257,633.2z"/>
<path class="m" d="M256.8,634.3 280.7,634.6 281.7,630.2 257.8,628.9z"/>
<path class="k1" d="M251.5,633.8 256.8,634.3 257,633.2z"/>
<path class="k2" d="M232.9,632 251.5,633.8 257,633.2 257.8,628.9zM232.9,632 257.8,628.9 250.7,627.6 233.3,629.4z"/>
<path class="k3" d="M250.7,627.6 233.9,624.7 233.3,629.4z"/>
<path class="m" d="M232.9,632 256.8,634.3 257.8,628.9 233.9,624.7z"/>
<path class="k2" d="M224.9,630.2 232.9,632 233.3,629.4z"/>
<path class="k3" d="M210.1,626.9 224.9,630.2 233.3,629.4 233.9,624.7 229.3,625.1zM229.3,625.1 233.9,624.7 233.7,624.6z"/>
<path class="k4" d="M209,626.7 210.1,626.9 229.3,625.1zM209,626.7 229.3,625.1 233.7,624.6 222.5,620.9 209.5,622.2z"/>
<path class="k5" d="M222.5,620.9 211.3,617.3 210,617.4 209.5,622.2z"/>
<path class="k6" d="M211.3,617.3 210,616.8 210,617.4z"/>
<path class="m" d="M209,626.7 232.9,632 233.9,624.7 210,616.8z"/>
<path class="k4" d="M200.7,623.1 209,626.7 209.5,622.2z"/>
<path class="k5" d="M191.8,619.1 200.7,623.1 209.5,622.2 210,617.4z"/>
<path class="k6" d="M185.1,616.2 191.8,619.1 210,617.4 210,616.8zM185.1,616.2 210,616.8 203.1,612.7 185.3,614.4z"/>
<path class="k7" d="M203.1,612.7 196.2,608.5 185.6,609.5 185.3,614.4z"/>
<path class="k8" d="M196.2,608.5 186.1,602.5 185.6,609.5z"/>
<path class="m" d="M185.1,616.2 209,626.7 210,616.8 186.1,602.5z"/>
<path class="k6" d="M183.1,614.6 185.1,616.2 185.3,614.4z"/>
<path class="k7" d="M177.7,610.2 183.1,614.6 185.3,614.4 185.6,609.5z"/>
<path class="k8" d="M173.2,606.6 177.7,610.2 185.6,609.5 186.1,602.5zM173.2,606.6 186.1,602.5 185.1,601.5 173.4,602.5z"/>
<path class="k9" d="M185.1,601.5 179.8,596.6 173.8,597.1 173.4,602.5z"/>
<path class="k10" d="M179.8,596.6 174.6,591.6 174.2,591.7 173.8,597.1z"/>
<path class="k11" d="M174.6,591.6 174.2,591.3 174.2,591.7z"/>
<path class="m" d="M173.2,606.6 185.1,616.2 186.1,602.5 174.2,591.3z"/>
<path class="k8" d="M169.6,602.9 173.2,606.6 173.4,602.5z"/>
<path class="k9" d="M164.9,597.9 169.6,602.9 173.4,602.5 173.8,597.1z"/>
<path class="k10" d="M161.2,594.1 164.9,597.9 173.8,597.1 174.2,591.7 171.2,591.9zM161.2,594.1 171.2,591.9 161.3,592.8z"/>
<path class="k11" d="M174.2,591.7 174.2,591.3 171.2,591.9zM171.2,591.9 174.2,591.3 168.6,585.7 161.8,586.3 161.3,592.8z"/>
<path class="k12" d="M168.6,585.7 163.6,580.7 162.2,580.9 161.8,586.3z"/>
<path class="k13" d="M163.6,580.7 162.3,579.4 162.2,580.9z"/>
<path class="m" d="M161.2,594.1 173.2,606.6 174.2,591.3 162.3,579.4z"/>
<path class="k10" d="M160.2,592.9 161.2,594.1 161.3,592.8z"/>
<path class="k11" d="M154.8,586.9 160.2,592.9 161.3,592.8 161.8,586.3z"/>
<path class="k12" d="M151.7,583.3 154.8,586.9 161.8,586.3 162.2,580.9 157.1,581.3zM151.7,583.3 157.1,581.3 151.8,581.7z"/>
<path class="k13" d="M162.2,580.9 162.3,579.4 157.1,581.3zM157.1,581.3 162.3,579.4 158.1,575.8 152.3,576.3 151.8,581.7z"/>
<path class="k14" d="M158.1,575.8 152.7,571.1 152.3,576.3z"/>
<path class="m" d="M151.7,583.3 161.2,594.1 162.3,579.4 152.7,571.1z"/>
<path class="k13" d="M129.9,579.5 131.5,578.5 131,578.7zM129.9,579.5 131,578.7 131.1,579 130.9,579.2z"/>
<path class="k14" d="M131.5,578.5 131.8,578.3 132.9,577.4 131,578.7zM131,578.7 132.9,577.4 131.1,579z"/>
<path class="m" d="M129.9,579.5 131.8,578.3 132.9,577.4 130.9,579.2z"/>
<path class="k13" d="M129.1,578.8 129.9,579.5 130.9,579.2 130.5,579zM130.5,579 130.9,579.2 130.7,579z"/>
<path class="k14" d="M127.1,577 129.1,578.8 130.5,579zM127.1,577 130.5,579 130.7,579 128.1,577.1z"/>
<path class="m" d="M127.1,577 129.9,579.5 130.9,579.2 128.1,577.1z"/>
<path class="k14" d="M125.3,573.8 127.1,577 128.1,577.1 126.3,574z"/>
<path class="m" d="M125.3,573.8 127.1,577 128.1,577.1 126.3,574z"/>
<path class="k14" d="M125.2,573.7 125.3,573.8 126.3,574 126.3,574zM126.3,574 126.3,574 126.3,574z"/>
<path class="k15" d="M123.4,569.5 125.2,573.7 126.3,574zM123.4,569.5 126.3,574 126.3,574 124.5,569.8z"/>
<path class="m" d="M123.4,569.5 125.3,573.8 126.3,574 124.5,569.8z"/>
<path class="k15" d="M123.1,568.4 123.4,569.5 124.5,569.8 123.9,568.6zM123.9,568.6 124.5,569.8 124.1,568.7z"/>
<path class="k16" d="M122.1,565.2 123.1,568.4 123.9,568.6zM122.1,565.2 123.9,568.6 124.1,568.7 123.1,565.5z"/>
<path class="m" d="M122.1,565.2 123.4,569.5 124.5,569.8 123.1,565.5z"/>
<path class="k16" d="M121.5,563.1 122.1,565.2 123.1,565.5 122.2,563.2zM122.2,563.2 123.1,565.5 122.6,563.4z"/>
<path class="k17" d="M120.8,559.8 121.5,563.1 122.2,563.2zM120.8,559.8 122.2,563.2 122.6,563.4 121.8,560.1z"/>
<path class="m" d="M120.8,559.8 122.1,565.2 123.1,565.5 121.8,560.1z"/>
<path class="k17" d="M120.4,557.7 120.8,559.8 121.8,560.1 121.1,557.9zM121.1,557.9 121.8,560.1 121.4,558z"/>
<path class="k18" d="M119.5,552.8 120.4,557.7 121.1,557.9zM119.5,552.8 121.1,557.9 121.4,558 120.6,553.1z"/>
<path class="m" d="M119.5,552.8 120.8,559.8 121.8,560.1 120.6,553.1z"/>
<path class="k18" d="M119.5,552.3 119.5,552.8 120.6,553.1 120.5,552.5zM120.5,552.5 120.6,553.1 120.5,552.5z"/>
<path class="k19" d="M118.8,546.8 119.5,552.3 120.5,552.5 119.3,546.9zM119.3,546.9 120.5,552.5 120.5,552.5 119.9,547.1z"/>
<path class="k20" d="M118.2,541.3 118.8,546.8 119.3,546.9zM118.2,541.3 119.3,546.9 119.9,547.1 119.2,541.6z"/>
<path class="m" d="M118.2,541.3 119.5,552.8 120.6,553.1 119.2,541.6z"/>
<path class="k20" d="M118.2,541.3 118.2,541.3 119.2,541.6 119.2,541.6zM119.2,541.6 119.2,541.6 119.2,541.6z"/>
<path class="k21" d="M117.6,535.9 118.2,541.3 119.2,541.6 118.3,536.1zM118.3,536.1 119.2,541.6 119.2,541.6 118.6,536.2z"/>
<path class="k22" d="M117,530.4 117.6,535.9 118.3,536.1 117.4,530.5zM117.4,530.5 118.3,536.1 118.6,536.2 118,530.7z"/>
<path class="k23" d="M116.4,525 117,530.4 117.4,530.5 116.5,525zM116.5,525 117.4,530.5 118,530.7 117.4,525.2z"/>
<path class="k24" d="M116.3,523.9 116.4,525 116.5,525zM116.3,523.9 116.5,525 117.4,525.2 117.3,524.2z"/>
<path class="m" d="M116.3,523.9 118.2,541.3 119.2,541.6 117.3,524.2z"/>
<path class="k24" d="M115.8,519.5 116.3,523.9 117.3,524.2 116.6,519.7zM116.6,519.7 117.3,524.2 116.8,519.8z"/>
<path class="k25" d="M115.1,514 115.8,519.5 116.6,519.7 115.7,514.2zM115.7,514.2 116.6,519.7 116.8,519.8 116.2,514.3z"/>
<path class="k26" d="M114.5,508.6 115.1,514 115.7,514.2 114.9,508.7zM114.9,508.7 115.7,514.2 116.2,514.3 115.5,508.9z"/>
<path class="k27" d="M113.8,503.1 114.5,508.6 114.9,508.7 114,503.2zM114,503.2 114.9,508.7 115.5,508.9 114.9,503.4z"/>
<path class="k28" d="M113.5,499.9 113.8,503.1 114,503.2zM113.5,499.9 114,503.2 114.9,503.4 114.5,500.1z"/>
<path class="m" d="M113.5,499.9 116.3,523.9 117.3,524.2 114.5,500.1z"/>
<path class="e" d="M113.5,499.9 114.5,500.1"/>
<path class="k1" d="M305.6,630.7 329.5,630.4 331,626zM305.6,630.7 331,626 327.7,626 306.4,628.1z"/>
<path class="k2" d="M327.7,626 307.1,625.6 306.4,628.1z"/>
<path class="m" d="M305.6,630.7 329.5,630.4 331,626 307.1,625.6z"/>
<path class="k1" d="M285.3,630.3 305.6,630.7 306.4,628.1z"/>
<path class="k2" d="M281.7,630.2 285.3,630.3 306.4,628.1 307.1,625.6zM281.7,630.2 307.1,625.6 287,624 283.1,624.4z"/>
<path class="k3" d="M287,624 283.2,623.8 283.1,624.4z"/>
<path class="m" d="M281.7,630.2 305.6,630.7 307.1,625.6 283.2,623.8z"/>
<path class="k2" d="M257.8,628.9 281.7,630.2 283.1,624.4 276.8,625.1zM257.8,628.9 276.8,625.1 258.2,626.9z"/>
<path class="k3" d="M283.1,624.4 283.2,623.8 276.8,625.1zM276.8,625.1 283.2,623.8 265.6,621.5 259.1,622.2 258.2,626.9z"/>
<path class="k4" d="M265.6,621.5 259.3,620.8 259.1,622.2z"/>
<path class="m" d="M257.8,628.9 281.7,630.2 283.2,623.8 259.3,620.8z"/>
<path class="k2" d="M250.7,627.6 257.8,628.9 258.2,626.9z"/>
<path class="k3" d="M233.9,624.7 250.7,627.6 258.2,626.9 259.1,622.2 235.2,624.5zM233.9,624.7 235.2,624.5 233.9,624.6z"/>
<path class="k4" d="M259.1,622.2 259.3,620.8 235.2,624.5zM235.2,624.5 259.3,620.8 250.6,618.3 234.6,619.8 233.9,624.6z"/>
<path class="k5" d="M250.6,618.3 238.2,614.7 235.3,615 234.6,619.8z"/>
<path class="k6" d="M238.2,614.7 235.5,614 235.3,615z"/>
<path class="m" d="M233.9,624.7 257.8,628.9 259.3,620.8 235.5,614z"/>
<path class="k3" d="M233.7,624.6 233.9,624.7 233.9,624.6z"/>
<path class="k4" d="M222.5,620.9 233.7,624.6 233.9,624.6 234.6,619.8z"/>
<path class="k5" d="M211.3,617.3 222.5,620.9 234.6,619.8 235.3,615z"/>
<path class="k6" d="M210,616.8 211.3,617.3 235.3,615 235.5,614zM210,616.8 235.5,614 227.8,610.4 210.6,612z"/>
<path class="k7" d="M227.8,610.4 219.3,606.4 211.1,607.2 210.6,612z"/>
<path class="k8" d="M219.3,606.4 211.6,602.8 211.1,607.2z"/>
<path class="m" d="M210,616.8 233.9,624.7 235.5,614 211.6,602.8z"/>
<path class="k6" d="M203.1,612.7 210,616.8 210.6,612z"/>
<path class="k7" d="M196.2,608.5 203.1,612.7 210.6,612 211.1,607.2z"/>
<path class="k8" d="M186.1,602.5 196.2,608.5 211.1,607.2 211.6,602.8zM186.1,602.5 211.6,602.8 207.1,599.5 186.2,601.4z"/>
<path class="k9" d="M207.1,599.5 200.5,594.8 186.7,596 186.2,601.4z"/>
<path class="k10" d="M200.5,594.8 194,590 187.2,590.6 186.7,596z"/>
<path class="k11" d="M194,590 187.7,585.4 187.2,590.6z"/>
<path class="m" d="M186.1,602.5 210,616.8 211.6,602.8 187.7,585.4z"/>
<path class="k8" d="M185.1,601.5 186.1,602.5 186.2,601.4z"/>
<path class="k9" d="M179.8,596.6 185.1,601.5 186.2,601.4 186.7,596z"/>
<path class="k10" d="M174.6,591.6 179.8,596.6 186.7,596 187.2,590.6z"/>
<path class="k11" d="M174.2,591.3 174.6,591.6 187.2,590.6 187.7,585.4zM174.2,591.3 187.7,585.4 186.4,584.2 174.8,585.2z"/>
<path class="k12" d="M186.4,584.2 181,579.3 175.3,579.8 174.8,585.2z"/>
<path class="k13" d="M181,579.3 175.7,574.6 175.3,579.8z"/>
<path class="m" d="M174.2,591.3 186.1,602.5 187.7,585.4 175.7,574.6z"/>
<path class="k11" d="M168.6,585.7 174.2,591.3 174.8,585.2z"/>
<path class="k12" d="M163.6,580.7 168.6,585.7 174.8,585.2 175.3,579.8z"/>
<path class="k13" d="M162.3,579.4 163.6,580.7 175.3,579.8 175.7,574.6zM162.3,579.4 175.7,574.6 175.5,574.4 162.7,575.5z"/>
<path class="k14" d="M175.5,574.4 168.9,569.7 163.3,570.1 162.7,575.5z"/>
<path class="k15" d="M168.9,569.7 163.8,566 163.3,570.1z"/>
<path class="m" d="M162.3,579.4 174.2,591.3 175.7,574.6 163.8,566z"/>
<path class="k13" d="M130.7,579 130.9,579.2 132.4,579.5 132.2,579.4zM132.2,579.4 132.4,579.5 132.3,579.4z"/>
<path class="k14" d="M128.1,577.1 130.7,579 132.2,579.4zM128.1,577.1 132.2,579.4 132.3,579.4 129.6,577.5z"/>
<path class="m" d="M128.1,577.1 130.9,579.2 132.4,579.5 129.6,577.5z"/>
<path class="k14" d="M126.3,574 128.1,577.1 129.6,577.5 127.8,574.4z"/>
<path class="m" d="M126.3,574 128.1,577.1 129.6,577.5 127.8,574.4z"/>
<path class="k14" d="M126.3,574 126.3,574 127.8,574.4 127.8,574.4zM127.8,574.4 127.8,574.4 127.8,574.4z"/>
<path class="k15" d="M124.5,569.8 126.3,574 127.8,574.4zM124.5,569.8 127.8,574.4 127.8,574.4 126,570.2z"/>
<path class="m" d="M124.5,569.8 126.3,574 127.8,574.4 126,570.2z"/>
<path class="k15" d="M124.1,568.7 124.5,569.8 126,570.2 125.3,569zM125.3,569 126,570.2 125.7,569.1z"/>
<path class="k16" d="M123.1,565.5 124.1,568.7 125.3,569zM123.1,565.5 125.3,569 125.7,569.1 124.6,565.9z"/>
<path class="m" d="M123.1,565.5 124.5,569.8 126,570.2 124.6,565.9z"/>
<path class="k16" d="M122.6,563.4 123.1,565.5 124.6,565.9 123.5,563.6zM123.5,563.6 124.6,565.9 124.1,563.8z"/>
<path class="k17" d="M121.8,560.1 122.6,563.4 123.5,563.6zM121.8,560.1 123.5,563.6 124.1,563.8 123.3,560.5z"/>
<path class="m" d="M121.8,560.1 123.1,565.5 124.6,565.9 123.3,560.5z"/>
<path class="k17" d="M121.4,558 121.8,560.1 123.3,560.5 122.5,558.2zM122.5,558.2 123.3,560.5 122.9,558.4z"/>
<path class="k18" d="M120.6,553.1 121.4,558 122.5,558.2zM120.6,553.1 122.5,558.2 122.9,558.4 122.1,553.5z"/>
<path class="m" d="M120.6,553.1 121.8,560.1 123.3,560.5 122.1,553.5z"/>
<path class="k18" d="M120.5,552.5 120.6,553.1 122.1,553.5 122,552.9zM122,552.9 122.1,553.5 122,553z"/>
<path class="k19" d="M119.9,547.1 120.5,552.5 122,552.9 120.6,547.3zM120.6,547.3 122,552.9 122,553 121.4,547.5z"/>
<path class="k20" d="M119.2,541.6 119.9,547.1 120.6,547.3zM119.2,541.6 120.6,547.3 121.4,547.5 120.8,542z"/>
<path class="m" d="M119.2,541.6 120.6,553.1 122.1,553.5 120.8,542z"/>
<path class="k20" d="M119.2,541.6 119.2,541.6 120.8,542 120.8,542zM120.8,542 120.8,542 120.8,542z"/>
<path class="k21" d="M118.6,536.2 119.2,541.6 120.8,542 119.7,536.4zM119.7,536.4 120.8,542 120.8,542 120.2,536.6z"/>
<path class="k22" d="M118,530.7 118.6,536.2 119.7,536.4 118.6,530.9zM118.6,530.9 119.7,536.4 120.2,536.6 119.6,531.1z"/>
<path class="k23" d="M117.4,525.2 118,530.7 118.6,530.9 117.5,525.3zM117.5,525.3 118.6,530.9 119.6,531.1 119,525.7z"/>
<path class="k24" d="M117.3,524.2 117.4,525.2 117.5,525.3zM117.3,524.2 117.5,525.3 119,525.7 118.9,524.6z"/>
<path class="m" d="M117.3,524.2 119.2,541.6 120.8,542 118.9,524.6z"/>
<path class="k24" d="M116.8,519.8 117.3,524.2 118.9,524.6 118.1,520.1zM118.1,520.1 118.9,524.6 118.3,520.2z"/>
<path class="k25" d="M116.2,514.3 116.8,519.8 118.1,520.1 117.1,514.6zM117.1,514.6 118.1,520.1 118.3,520.2 117.7,514.7z"/>
<path class="k26" d="M115.5,508.9 116.2,514.3 117.1,514.6 116.1,509zM116.1,509 117.1,514.6 117.7,514.7 117,509.3z"/>
<path class="k27" d="M114.9,503.4 115.5,508.9 116.1,509 115.1,503.5zM115.1,503.5 116.1,509 117,509.3 116.4,503.8z"/>
<path class="k28" d="M114.5,500.1 114.9,503.4 115.1,503.5zM114.5,500.1 115.1,503.5 116.4,503.8 116,500.6z"/>
<path class="m" d="M114.5,500.1 117.3,524.2 118.9,524.6 116,500.6z"/>
<path class="e" d="M114.5,500.1 116,500.6"/>
<path class="k1" d="M327.7,626 331,626 331.2,625.6z"/>
<path class="k2" d="M307.1,625.6 327.7,626 331.2,625.6 332.5,621.9zM307.1,625.6 332.5,621.9 318.1,621 308.2,622z"/>
<path class="k3" d="M318.1,621 308.7,620.5 308.2,622z"/>
<path class="m" d="M307.1,625.6 331,626 332.5,621.9 308.7,620.5z"/>
<path class="k2" d="M287,624 307.1,625.6 308.2,622z"/>
<path class="k3" d="M283.2,623.8 287,624 308.2,622 308.7,620.5zM283.2,623.8 308.7,620.5 295.4,618.7 284.2,619.8z"/>
<path class="k4" d="M295.4,618.7 284.8,617.3 284.2,619.8z"/>
<path class="m" d="M283.2,623.8 307.1,625.6 308.7,620.5 284.8,617.3z"/>
<path class="k3" d="M265.6,621.5 283.2,623.8 284.2,619.8z"/>
<path class="k4" d="M259.3,620.8 265.6,621.5 284.2,619.8 284.8,617.3zM259.3,620.8 284.8,617.3 277.1,615.8 260,617.4z"/>
<path class="k5" d="M277.1,615.8 260.9,612.8 260,617.4z"/>
<path class="m" d="M259.3,620.8 283.2,623.8 284.8,617.3 260.9,612.8z"/>
<path class="k4" d="M250.6,618.3 259.3,620.8 260,617.4z"/>
<path class="k5" d="M238.2,614.7 250.6,618.3 260,617.4 260.9,612.8 259.8,612.8zM259.8,612.8 260.9,612.8 260.8,612.7z"/>
<path class="k6" d="M235.5,614 238.2,614.7 259.8,612.8zM235.5,614 259.8,612.8 260.8,612.7 249.5,608.5 236.1,609.7z"/>
<path class="k7" d="M249.5,608.5 239.3,604.7 236.8,604.9 236.1,609.7z"/>
<path class="k8" d="M239.3,604.7 237,603.9 236.8,604.9z"/>
<path class="m" d="M235.5,614 259.3,620.8 260.9,612.8 237,603.9z"/>
<path class="k6" d="M227.8,610.4 235.5,614 236.1,609.7z"/>
<path class="k7" d="M219.3,606.4 227.8,610.4 236.1,609.7 236.8,604.9z"/>
<path class="k8" d="M211.6,602.8 219.3,606.4 236.8,604.9 237,603.9zM211.6,602.8 237,603.9 226.9,597.8 212,599.1z"/>
<path class="k9" d="M226.9,597.8 219.2,593.2 212.6,593.8 212,599.1z"/>
<path class="k10" d="M219.2,593.2 213.1,589.6 212.6,593.8z"/>
<path class="m" d="M211.6,602.8 235.5,614 237,603.9 213.1,589.6z"/>
<path class="k8" d="M207.1,599.5 211.6,602.8 212,599.1z"/>
<path class="k9" d="M200.5,594.8 207.1,599.5 212,599.1 212.6,593.8z"/>
<path class="k10" d="M194,590 200.5,594.8 212.6,593.8 213.1,589.6 208.5,588.8zM208.5,588.8 213.1,589.6 211.7,588.5z"/>
<path class="k11" d="M187.7,585.4 194,590 208.5,588.8zM187.7,585.4 208.5,588.8 211.7,588.5 203.7,582.8 187.8,584.1z"/>
<path class="k12" d="M203.7,582.8 197.1,578.1 188.5,578.8 187.8,584.1z"/>
<path class="k13" d="M197.1,578.1 190.4,573.3 189.1,573.4 188.5,578.8z"/>
<path class="k14" d="M190.4,573.3 189.2,572.4 189.1,573.4z"/>
<path class="m" d="M187.7,585.4 211.6,602.8 213.1,589.6 189.2,572.4z"/>
<path class="k13" d="M132.3,579.4 132.4,579.5 134,579.9 133.7,579.8zM133.7,579.8 134,579.9 133.8,579.8z"/>
<path class="k14" d="M129.6,577.5 132.3,579.4 133.7,579.8zM129.6,577.5 133.7,579.8 133.8,579.8 131.2,577.9z"/>
<path class="m" d="M129.6,577.5 132.4,579.5 134,579.9 131.2,577.9z"/>
<path class="k14" d="M127.8,574.4 129.6,577.5 131.2,577.9 129.4,574.8z"/>
<path class="m" d="M127.8,574.4 129.6,577.5 131.2,577.9 129.4,574.8z"/>
<path class="k14" d="M127.8,574.4 127.8,574.4 129.4,574.8 129.4,574.8zM129.4,574.8 129.4,574.8 129.4,574.8z"/>
<path class="k15" d="M126,570.2 127.8,574.4 129.4,574.8zM126,570.2 129.4,574.8 129.4,574.8 127.5,570.6z"/>
<path class="m" d="M126,570.2 127.8,574.4 129.4,574.8 127.5,570.6z"/>
<path class="k15" d="M125.7,569.1 126,570.2 127.5,570.6 126.8,569.4zM126.8,569.4 127.5,570.6 127.2,569.5z"/>
<path class="k16" d="M124.6,565.9 125.7,569.1 126.8,569.4zM124.6,565.9 126.8,569.4 127.2,569.5 126.1,566.3z"/>
<path class="m" d="M124.6,565.9 126,570.2 127.5,570.6 126.1,566.3z"/>
<path class="k16" d="M124.1,563.8 124.6,565.9 126.1,566.3 125,564zM125,564 126.1,566.3 125.6,564.2z"/>
<path class="k17" d="M123.3,560.5 124.1,563.8 125,564zM123.3,560.5 125,564 125.6,564.2 124.8,560.9z"/>
<path class="m" d="M123.3,560.5 124.6,565.9 126.1,566.3 124.8,560.9z"/>
<path class="k17" d="M122.9,558.4 123.3,560.5 124.8,560.9 124,558.7zM124,558.7 124.8,560.9 124.5,558.8z"/>
<path class="k18" d="M122.1,553.5 122.9,558.4 124,558.7zM122.1,553.5 124,558.7 124.5,558.8 123.6,553.9z"/>
<path class="m" d="M122.1,553.5 123.3,560.5 124.8,560.9 123.6,553.9z"/>
<path class="k18" d="M122,553 122.1,553.5 123.6,553.9 123.5,553.4zM123.5,553.4 123.6,553.9 123.6,553.4z"/>
<path class="k19" d="M121.4,547.5 122,553 123.5,553.4 122.1,547.7zM122.1,547.7 123.5,553.4 123.6,553.4 122.9,547.9z"/>
<path class="k20" d="M120.8,542 121.4,547.5 122.1,547.7zM120.8,542 122.1,547.7 122.9,547.9 122.3,542.5z"/>
<path class="m" d="M120.8,542 122.1,553.5 123.6,553.9 122.3,542.5z"/>
<path class="k20" d="M120.8,542 120.8,542 122.3,542.5 122.3,542.5zM122.3,542.5 122.3,542.5 122.3,542.5z"/>
<path class="k21" d="M120.2,536.6 120.8,542 122.3,542.5 121.2,536.9zM121.2,536.9 122.3,542.5 122.3,542.5 121.7,537z"/>
<path class="k22" d="M119.6,531.1 120.2,536.6 121.2,536.9 120.1,531.3zM120.1,531.3 121.2,536.9 121.7,537 121.1,531.5z"/>
<path class="k23" d="M119,525.7 119.6,531.1 120.1,531.3 119.1,525.7zM119.1,525.7 120.1,531.3 121.1,531.5 120.5,526.1z"/>
<path class="k24" d="M118.9,524.6 119,525.7 119.1,525.7zM118.9,524.6 119.1,525.7 120.5,526.1 120.4,525z"/>
<path class="m" d="M118.9,524.6 120.8,542 122.3,542.5 120.4,525z"/>
<path class="k24" d="M118.3,520.2 118.9,524.6 120.4,525 119.6,520.5zM119.6,520.5 120.4,525 119.9,520.6z"/>
<path class="k25" d="M117.7,514.7 118.3,520.2 119.6,520.5 118.6,515zM118.6,515 119.6,520.5 119.9,520.6 119.2,515.2z"/>
<path class="k26" d="M117,509.3 117.7,514.7 118.6,515 117.6,509.4zM117.6,509.4 118.6,515 119.2,515.2 118.6,509.7z"/>
<path class="k27" d="M116.4,503.8 117,509.3 117.6,509.4 116.6,503.9zM116.6,503.9 117.6,509.4 118.6,509.7 117.9,504.3z"/>
<path class="k28" d="M116,500.6 116.4,503.8 116.6,503.9zM116,500.6 116.6,503.9 117.9,504.3 117.5,501z"/>
<path class="m" d="M116,500.6 118.9,524.6 120.4,525 117.5,501z"/>
<path class="e" d="M116,500.6 117.5,501"/>
<path class="k2" d="M318.1,621 332.5,621.9 333.4,619.6z"/>
<path class="k3" d="M308.7,620.5 318.1,621 333.4,619.6 334.6,616.4zM308.7,620.5 334.6,616.4 328.5,615.7 309.6,617.4z"/>
<path class="k4" d="M328.5,615.7 310.7,613.6 309.6,617.4z"/>
<path class="m" d="M308.7,620.5 332.5,621.9 334.6,616.4 310.7,613.6z"/>
<path class="k3" d="M295.4,618.7 308.7,620.5 309.6,617.4z"/>
<path class="k4" d="M284.8,617.3 295.4,618.7 309.6,617.4 310.7,613.6zM284.8,617.3 310.7,613.6 307.9,613.1 285.3,615.1z"/>
<path class="k5" d="M307.9,613.1 292.2,609.9 286.4,610.4 285.3,615.1z"/>
<path class="k6" d="M292.2,609.9 286.8,608.8 286.4,610.4z"/>
<path class="m" d="M284.8,617.3 308.7,620.5 310.7,613.6 286.8,608.8z"/>
<path class="k4" d="M277.1,615.8 284.8,617.3 285.3,615.1z"/>
<path class="k5" d="M260.9,612.8 277.1,615.8 285.3,615.1 286.4,610.4 261.6,612.7zM260.9,612.8 261.6,612.7 260.9,612.7z"/>
<path class="k6" d="M286.4,610.4 286.8,608.8 261.6,612.7zM261.6,612.7 286.8,608.8 276.6,606.2 261.9,607.5 260.9,612.7z"/>
<path class="k7" d="M276.6,606.2 263.4,602.7 262.9,602.8 261.9,607.5z"/>
<path class="k8" d="M263.4,602.7 262.9,602.6 262.9,602.8z"/>
<path class="m" d="M260.9,612.8 284.8,617.3 286.8,608.8 262.9,602.6z"/>
<path class="k13" d="M133.8,579.8 134,579.9 136,580.5 135.8,580.4zM135.8,580.4 136,580.5 135.9,580.4z"/>
<path class="k14" d="M131.2,577.9 133.8,579.8 135.8,580.4zM131.2,577.9 135.8,580.4 135.9,580.4 133.2,578.5z"/>
<path class="m" d="M131.2,577.9 134,579.9 136,580.5 133.2,578.5z"/>
<path class="k14" d="M129.4,574.8 131.2,577.9 133.2,578.5 131.4,575.4z"/>
<path class="m" d="M129.4,574.8 131.2,577.9 133.2,578.5 131.4,575.4z"/>
<path class="k14" d="M129.4,574.8 129.4,574.8 131.4,575.4 131.4,575.4zM131.4,575.4 131.4,575.4 131.4,575.4z"/>
<path class="k15" d="M127.5,570.6 129.4,574.8 131.4,575.4zM127.5,570.6 131.4,575.4 131.4,575.4 129.6,571.2z"/>
<path class="m" d="M127.5,570.6 129.4,574.8 131.4,575.4 129.6,571.2z"/>
<path class="k15" d="M127.2,569.5 127.5,570.6 129.6,571.2 128.7,570zM128.7,570 129.6,571.2 129.2,570.1z"/>
<path class="k16" d="M126.1,566.3 127.2,569.5 128.7,570zM126.1,566.3 128.7,570 129.2,570.1 128.2,566.9z"/>
<path class="m" d="M126.1,566.3 127.5,570.6 129.6,571.2 128.2,566.9z"/>
<path class="k16" d="M125.6,564.2 126.1,566.3 128.2,566.9 126.9,564.5zM126.9,564.5 128.2,566.9 127.7,564.8z"/>
<path class="k17" d="M124.8,560.9 125.6,564.2 126.9,564.5zM124.8,560.9 126.9,564.5 127.7,564.8 126.9,561.5z"/>
<path class="m" d="M124.8,560.9 126.1,566.3 128.2,566.9 126.9,561.5z"/>
<path class="k17" d="M124.5,558.8 124.8,560.9 126.9,561.5 125.9,559.2zM125.9,559.2 126.9,561.5 126.5,559.4z"/>
<path class="k18" d="M123.6,553.9 124.5,558.8 125.9,559.2zM123.6,553.9 125.9,559.2 126.5,559.4 125.7,554.5z"/>
<path class="m" d="M123.6,553.9 124.8,560.9 126.9,561.5 125.7,554.5z"/>
<path class="k18" d="M123.6,553.4 123.6,553.9 125.7,554.5 125.5,553.9zM125.5,553.9 125.7,554.5 125.6,553.9z"/>
<path class="k19" d="M122.9,547.9 123.6,553.4 125.5,553.9 123.9,548.2zM123.9,548.2 125.5,553.9 125.6,553.9 125,548.5z"/>
<path class="k20" d="M122.3,542.5 122.9,547.9 123.9,548.2zM122.3,542.5 123.9,548.2 125,548.5 124.3,543z"/>
<path class="m" d="M122.3,542.5 123.6,553.9 125.7,554.5 124.3,543z"/>
<path class="k20" d="M122.3,542.5 122.3,542.5 124.3,543 124.3,543zM124.3,543 124.3,543 124.3,543z"/>
<path class="k21" d="M121.7,537 122.3,542.5 124.3,543 123.1,537.4zM123.1,537.4 124.3,543 124.3,543 123.7,537.6z"/>
<path class="k22" d="M121.1,531.5 121.7,537 123.1,537.4 121.9,531.7zM121.9,531.7 123.1,537.4 123.7,537.6 123.1,532.1z"/>
<path class="k23" d="M120.5,526.1 121.1,531.5 121.9,531.7 120.6,526.1zM120.6,526.1 121.9,531.7 123.1,532.1 122.5,526.6z"/>
<path class="k24" d="M120.4,525 120.5,526.1 120.6,526.1zM120.4,525 120.6,526.1 122.5,526.6 122.4,525.6z"/>
<path class="m" d="M120.4,525 122.3,542.5 124.3,543 122.4,525.6z"/>
<path class="k24" d="M119.9,520.6 120.4,525 122.4,525.6 121.5,521.1zM121.5,521.1 122.4,525.6 121.9,521.2z"/>
<path class="k25" d="M119.2,515.2 119.9,520.6 121.5,521.1 120.4,515.5zM120.4,515.5 121.5,521.1 121.9,521.2 121.3,515.7z"/>
<path class="k26" d="M118.6,509.7 119.2,515.2 120.4,515.5 119.3,509.9zM119.3,509.9 120.4,515.5 121.3,515.7 120.6,510.3z"/>
<path class="k27" d="M117.9,504.3 118.6,509.7 119.3,509.9 118.2,504.3zM118.2,504.3 119.3,509.9 120.6,510.3 120,504.8z"/>
<path class="k28" d="M117.5,501 117.9,504.3 118.2,504.3zM117.5,501 118.2,504.3 120,504.8 119.6,501.5z"/>
<path class="m" d="M117.5,501 120.4,525 122.4,525.6 119.6,501.5z"/>
<path class="e" d="M117.5,501 119.6,501.5"/>
<path class="k3" d="M328.5,615.7 334.6,616.4 335.1,615.1z"/>
<path class="k4" d="M310.7,613.6 328.5,615.7 335.1,615.1 336.7,610.6 321.8,611.9zM310.7,613.6 321.8,611.9 311,612.8z"/>
<path class="k5" d="M336.7,610.6 337.1,609.5 321.8,611.9zM321.8,611.9 337.1,609.5 324.2,607.2 312.4,608.2 311,612.8z"/>
<path class="k6" d="M324.2,607.2 313.3,605.3 312.4,608.2z"/>
<path class="m" d="M310.7,613.6 334.6,616.4 337.1,609.5 313.3,605.3z"/>
<path class="k4" d="M307.9,613.1 310.7,613.6 311,612.8z"/>
<path class="k5" d="M292.2,609.9 307.9,613.1 311,612.8 312.4,608.2z"/>
<path class="k6" d="M286.8,608.8 292.2,609.9 312.4,608.2 313.3,605.3zM286.8,608.8 313.3,605.3 307.2,603.6 287.7,605.2z"/>
<path class="k7" d="M307.2,603.6 294.4,600.1 288.9,600.6 287.7,605.2z"/>
<path class="k8" d="M294.4,600.1 289.4,598.8 288.9,600.6z"/>
<path class="m" d="M286.8,608.8 310.7,613.6 313.3,605.3 289.4,598.8z"/>
<path class="k13" d="M135.9,580.4 136,580.5 138.5,581.2 138.3,581.1zM138.3,581.1 138.5,581.2 138.4,581.1z"/>
<path class="k14" d="M133.2,578.5 135.9,580.4 138.3,581.1zM133.2,578.5 138.3,581.1 138.4,581.1 135.8,579.2z"/>
<path class="m" d="M133.2,578.5 136,580.5 138.5,581.2 135.8,579.2z"/>
<path class="k14" d="M131.4,575.4 133.2,578.5 135.8,579.2 134,576.1z"/>
<path class="m" d="M131.4,575.4 133.2,578.5 135.8,579.2 134,576.1z"/>
<path class="k14" d="M131.4,575.4 131.4,575.4 134,576.1 134,576.1zM134,576.1 134,576.1 134,576.1z"/>
<path class="k15" d="M129.6,571.2 131.4,575.4 134,576.1zM129.6,571.2 134,576.1 134,576.1 132.1,571.9z"/>
<path class="m" d="M129.6,571.2 131.4,575.4 134,576.1 132.1,571.9z"/>
<path class="k15" d="M129.2,570.1 129.6,571.2 132.1,571.9 131.1,570.6zM131.1,570.6 132.1,571.9 131.8,570.8z"/>
<path class="k16" d="M128.2,566.9 129.2,570.1 131.1,570.6zM128.2,566.9 131.1,570.6 131.8,570.8 130.7,567.6z"/>
<path class="m" d="M128.2,566.9 129.6,571.2 132.1,571.9 130.7,567.6z"/>
<path class="k16" d="M127.7,564.8 128.2,566.9 130.7,567.6 129.2,565.2zM129.2,565.2 130.7,567.6 130.2,565.5z"/>
<path class="k17" d="M126.9,561.5 127.7,564.8 129.2,565.2zM126.9,561.5 129.2,565.2 130.2,565.5 129.4,562.2z"/>
<path class="m" d="M126.9,561.5 128.2,566.9 130.7,567.6 129.4,562.2z"/>
<path class="k17" d="M126.5,559.4 126.9,561.5 129.4,562.2 128.3,559.8zM128.3,559.8 129.4,562.2 129.1,560.1z"/>
<path class="k18" d="M125.7,554.5 126.5,559.4 128.3,559.8zM125.7,554.5 128.3,559.8 129.1,560.1 128.2,555.2z"/>
<path class="m" d="M125.7,554.5 126.9,561.5 129.4,562.2 128.2,555.2z"/>
<path class="k18" d="M125.6,553.9 125.7,554.5 128.2,555.2 128,554.6zM128,554.6 128.2,555.2 128.2,554.6z"/>
<path class="k19" d="M125,548.5 125.6,553.9 128,554.6 126.2,548.8zM126.2,548.8 128,554.6 128.2,554.6 127.5,549.2z"/>
<path class="k20" d="M124.3,543 125,548.5 126.2,548.8zM124.3,543 126.2,548.8 127.5,549.2 126.9,543.7z"/>
<path class="m" d="M124.3,543 125.7,554.5 128.2,555.2 126.9,543.7z"/>
<path class="k20" d="M124.3,543 124.3,543 126.9,543.7 126.9,543.7zM126.9,543.7 126.9,543.7 126.9,543.7z"/>
<path class="k21" d="M123.7,537.6 124.3,543 126.9,543.7 125.5,538zM125.5,538 126.9,543.7 126.9,543.7 126.3,538.3z"/>
<path class="k22" d="M123.1,532.1 123.7,537.6 125.5,538 124.1,532.4zM124.1,532.4 125.5,538 126.3,538.3 125.7,532.8z"/>
<path class="k23" d="M122.5,526.6 123.1,532.1 124.1,532.4 122.7,526.7zM122.7,526.7 124.1,532.4 125.7,532.8 125.1,527.3z"/>
<path class="k24" d="M122.4,525.6 122.5,526.6 122.7,526.7zM122.4,525.6 122.7,526.7 125.1,527.3 125,526.3z"/>
<path class="m" d="M122.4,525.6 124.3,543 126.9,543.7 125,526.3z"/>
<path class="k24" d="M121.9,521.2 122.4,525.6 125,526.3 124,521.8zM124,521.8 125,526.3 124.5,521.9z"/>
<path class="k25" d="M121.3,515.7 121.9,521.2 124,521.8 122.8,516.1zM122.8,516.1 124,521.8 124.5,521.9 123.8,516.4z"/>
<path class="k26" d="M120.6,510.3 121.3,515.7 122.8,516.1 121.5,510.5zM121.5,510.5 122.8,516.1 123.8,516.4 123.2,511z"/>
<path class="k27" d="M120,504.8 120.6,510.3 121.5,510.5 120.3,504.9zM120.3,504.9 121.5,510.5 123.2,511 122.5,505.5z"/>
<path class="k28" d="M119.6,501.5 120,504.8 120.3,504.9zM119.6,501.5 120.3,504.9 122.5,505.5 122.1,502.2z"/>
<path class="m" d="M119.6,501.5 122.4,525.6 125,526.3 122.1,502.2z"/>
<path class="e" d="M119.6,501.5 122.1,502.2"/>
<path class="k5" d="M324.2,607.2 337.1,609.5 338.4,606.1z"/>
<path class="k6" d="M313.3,605.3 324.2,607.2 338.4,606.1 340.2,601.4zM313.3,605.3 340.2,601.4 339.1,601.1 313.9,603.1z"/>
<path class="k7" d="M339.1,601.1 325,597.8 315.4,598.5 313.9,603.1z"/>
<path class="k8" d="M325,597.8 316.3,595.7 315.4,598.5z"/>
<path class="m" d="M313.3,605.3 337.1,609.5 340.2,601.4 316.3,595.7z"/>
<path class="k6" d="M307.2,603.6 313.3,605.3 313.9,603.1z"/>
<path class="k7" d="M294.4,600.1 307.2,603.6 313.9,603.1 315.4,598.5z"/>
<path class="k8" d="M289.4,598.8 294.4,600.1 315.4,598.5 316.3,595.7zM289.4,598.8 316.3,595.7 305.4,591.8 290.9,592.8z"/>
<path class="k9" d="M305.4,591.8 293.9,587.6 292.3,587.7 290.9,592.8z"/>
<path class="k10" d="M293.9,587.6 292.4,587 292.3,587.7z"/>
<path class="m" d="M289.4,598.8 313.3,605.3 316.3,595.7 292.4,587z"/>
<path class="k13" d="M138.4,581.1 138.5,581.2 141.6,582 141.3,581.9zM141.3,581.9 141.6,582 141.5,581.9z"/>
<path class="k14" d="M135.8,579.2 138.4,581.1 141.3,581.9zM135.8,579.2 141.3,581.9 141.5,581.9 138.8,580z"/>
<path class="m" d="M135.8,579.2 138.5,581.2 141.6,582 138.8,580z"/>
<path class="k14" d="M134,576.1 135.8,579.2 138.8,580 137,576.9z"/>
<path class="m" d="M134,576.1 135.8,579.2 138.8,580 137,576.9z"/>
<path class="k14" d="M134,576.1 134,576.1 137,576.9 137,576.9zM137,576.9 137,576.9 137,576.9z"/>
<path class="k15" d="M132.1,571.9 134,576.1 137,576.9zM132.1,571.9 137,576.9 137,576.9 135.2,572.7z"/>
<path class="m" d="M132.1,571.9 134,576.1 137,576.9 135.2,572.7z"/>
<path class="k15" d="M131.8,570.8 132.1,571.9 135.2,572.7 134.1,571.4zM134.1,571.4 135.2,572.7 134.8,571.6z"/>
<path class="k16" d="M130.7,567.6 131.8,570.8 134.1,571.4zM130.7,567.6 134.1,571.4 134.8,571.6 133.8,568.4z"/>
<path class="m" d="M130.7,567.6 132.1,571.9 135.2,572.7 133.8,568.4z"/>
<path class="k16" d="M130.2,565.5 130.7,567.6 133.8,568.4 132.1,566zM132.1,566 133.8,568.4 133.3,566.3z"/>
<path class="k17" d="M129.4,562.2 130.2,565.5 132.1,566zM129.4,562.2 132.1,566 133.3,566.3 132.5,563z"/>
<path class="m" d="M129.4,562.2 130.7,567.6 133.8,568.4 132.5,563z"/>
<path class="k17" d="M129.1,560.1 129.4,562.2 132.5,563 131.2,560.6zM131.2,560.6 132.5,563 132.1,560.9z"/>
<path class="k18" d="M128.2,555.2 129.1,560.1 131.2,560.6zM128.2,555.2 131.2,560.6 132.1,560.9 131.3,556z"/>
<path class="m" d="M128.2,555.2 129.4,562.2 132.5,563 131.3,556z"/>
<path class="k18" d="M128.2,554.6 128.2,555.2 131.3,556 131.1,555.4zM131.1,555.4 131.3,556 131.2,555.5z"/>
<path class="k19" d="M127.5,549.2 128.2,554.6 131.1,555.4 129,549.6zM129,549.6 131.1,555.4 131.2,555.5 130.6,550z"/>
<path class="k20" d="M126.9,543.7 127.5,549.2 129,549.6zM126.9,543.7 129,549.6 130.6,550 130,544.6z"/>
<path class="m" d="M126.9,543.7 128.2,555.2 131.3,556 130,544.6z"/>
<path class="k20" d="M126.9,543.7 126.9,543.7 130,544.6 130,544.6zM130,544.6 130,544.6 130,544.6z"/>
<path class="k21" d="M126.3,538.3 126.9,543.7 130,544.6 128.4,538.8zM128.4,538.8 130,544.6 130,544.6 129.4,539.1z"/>
<path class="k22" d="M125.7,532.8 126.3,538.3 128.4,538.8 126.8,533.1zM126.8,533.1 128.4,538.8 129.4,539.1 128.8,533.6z"/>
<path class="k23" d="M125.1,527.3 125.7,532.8 126.8,533.1 125.3,527.4zM125.3,527.4 126.8,533.1 128.8,533.6 128.2,528.2z"/>
<path class="k24" d="M125,526.3 125.1,527.3 125.3,527.4zM125,526.3 125.3,527.4 128.2,528.2 128,527.1z"/>
<path class="m" d="M125,526.3 126.9,543.7 130,544.6 128,527.1z"/>
<path class="k24" d="M124.5,521.9 125,526.3 128,527.1 127,522.6zM127,522.6 128,527.1 127.5,522.7z"/>
<path class="k25" d="M123.8,516.4 124.5,521.9 127,522.6 125.6,516.9zM125.6,516.9 127,522.6 127.5,522.7 126.9,517.3z"/>
<path class="k26" d="M123.2,511 123.8,516.4 125.6,516.9 124.3,511.3zM124.3,511.3 125.6,516.9 126.9,517.3 126.2,511.8z"/>
<path class="k27" d="M122.5,505.5 123.2,511 124.3,511.3 122.9,505.6zM122.9,505.6 124.3,511.3 126.2,511.8 125.6,506.4z"/>
<path class="k28" d="M122.1,502.2 122.5,505.5 122.9,505.6zM122.1,502.2 122.9,505.6 125.6,506.4 125.2,503.1z"/>
<path class="m" d="M122.1,502.2 125,526.3 128,527.1 125.2,503.1z"/>
<path class="e" d="M122.1,502.2 125.2,503.1"/>
<path class="k6" d="M339.1,601.1 340.2,601.4 340.3,601z"/>
<path class="k7" d="M325,597.8 339.1,601.1 340.3,601 342.1,596.6z"/>
<path class="k8" d="M316.3,595.7 325,597.8 342.1,596.6 343.3,593.7zM316.3,595.7 343.3,593.7 331.1,590 317.9,590.9z"/>
<path class="k9" d="M331.1,590 319.4,586.4 317.9,590.9z"/>
<path class="m" d="M316.3,595.7 340.2,601.4 343.3,593.7 319.4,586.4z"/>
<path class="k8" d="M305.4,591.8 316.3,595.7 317.9,590.9z"/>
<path class="k9" d="M293.9,587.6 305.4,591.8 317.9,590.9 319.4,586.4 307.6,586.6zM307.6,586.6 319.4,586.4 318.3,585.9z"/>
<path class="k10" d="M292.4,587 293.9,587.6 307.6,586.6zM292.4,587 307.6,586.6 318.3,585.9 307.9,581.6 293.7,582.6z"/>
<path class="k11" d="M307.9,581.6 295.5,576.5 293.7,582.6z"/>
<path class="m" d="M292.4,587 316.3,595.7 319.4,586.4 295.5,576.5z"/>
<path class="k13" d="M141.5,581.9 141.6,582 144.7,582.9 144.4,582.7zM144.4,582.7 144.7,582.9 144.5,582.8z"/>
<path class="k14" d="M138.8,580 141.5,581.9 144.4,582.7zM138.8,580 144.4,582.7 144.5,582.8 141.9,580.9z"/>
<path class="m" d="M138.8,580 141.6,582 144.7,582.9 141.9,580.9z"/>
<path class="k14" d="M137,576.9 138.8,580 141.9,580.9 140.1,577.8z"/>
<path class="m" d="M137,576.9 138.8,580 141.9,580.9 140.1,577.8z"/>
<path class="k14" d="M137,576.9 137,576.9 140.1,577.8 140.1,577.8zM140.1,577.8 140.1,577.8 140.1,577.8z"/>
<path class="k15" d="M135.2,572.7 137,576.9 140.1,577.8zM135.2,572.7 140.1,577.8 140.1,577.8 138.2,573.5z"/>
<path class="m" d="M135.2,572.7 137,576.9 140.1,577.8 138.2,573.5z"/>
<path class="k15" d="M134.8,571.6 135.2,572.7 138.2,573.5 137.2,572.3zM137.2,572.3 138.2,573.5 137.9,572.5z"/>
<path class="k16" d="M133.8,568.4 134.8,571.6 137.2,572.3zM133.8,568.4 137.2,572.3 137.9,572.5 136.9,569.3z"/>
<path class="m" d="M133.8,568.4 135.2,572.7 138.2,573.5 136.9,569.3z"/>
<path class="k16" d="M133.3,566.3 133.8,568.4 136.9,569.3 135.1,566.8zM135.1,566.8 136.9,569.3 136.3,567.1z"/>
<path class="k17" d="M132.5,563 133.3,566.3 135.1,566.8zM132.5,563 135.1,566.8 136.3,567.1 135.6,563.9z"/>
<path class="m" d="M132.5,563 133.8,568.4 136.9,569.3 135.6,563.9z"/>
<path class="k17" d="M132.1,560.9 132.5,563 135.6,563.9 134.3,561.5zM134.3,561.5 135.6,563.9 135.2,561.7z"/>
<path class="k18" d="M131.3,556 132.1,560.9 134.3,561.5zM131.3,556 134.3,561.5 135.2,561.7 134.4,556.9z"/>
<path class="m" d="M131.3,556 132.5,563 135.6,563.9 134.4,556.9z"/>
<path class="k18" d="M131.2,555.5 131.3,556 134.4,556.9 134.1,556.3zM134.1,556.3 134.4,556.9 134.3,556.3z"/>
<path class="k19" d="M130.6,550 131.2,555.5 134.1,556.3 132,550.4zM132,550.4 134.1,556.3 134.3,556.3 133.7,550.9z"/>
<path class="k20" d="M130,544.6 130.6,550 132,550.4zM130,544.6 132,550.4 133.7,550.9 133,545.4z"/>
<path class="m" d="M130,544.6 131.3,556 134.4,556.9 133,545.4z"/>
<path class="k20" d="M130,544.6 130,544.6 133,545.4 133,545.4zM133,545.4 133,545.4 133,545.4z"/>
<path class="k21" d="M129.4,539.1 130,544.6 133,545.4 131.5,539.7zM131.5,539.7 133,545.4 133,545.4 132.4,539.9z"/>
<path class="k22" d="M128.8,533.6 129.4,539.1 131.5,539.7 129.9,534zM129.9,534 131.5,539.7 132.4,539.9 131.8,534.5z"/>
<path class="k23" d="M128.2,528.2 128.8,533.6 129.9,534 128.3,528.2zM128.3,528.2 129.9,534 131.8,534.5 131.2,529z"/>
<path class="k24" d="M128,527.1 128.2,528.2 128.3,528.2zM128,527.1 128.3,528.2 131.2,529 131.1,528z"/>
<path class="m" d="M128,527.1 130,544.6 133,545.4 131.1,528z"/>
<path class="k24" d="M127.5,522.7 128,527.1 131.1,528 130,523.4zM130,523.4 131.1,528 130.6,523.6z"/>
<path class="k25" d="M126.9,517.3 127.5,522.7 130,523.4 128.7,517.8zM128.7,517.8 130,523.4 130.6,523.6 129.9,518.1z"/>
<path class="k26" d="M126.2,511.8 126.9,517.3 128.7,517.8 127.3,512.1zM127.3,512.1 128.7,517.8 129.9,518.1 129.3,512.7z"/>
<path class="k27" d="M125.6,506.4 126.2,511.8 127.3,512.1 126,506.5zM126,506.5 127.3,512.1 129.3,512.7 128.7,507.2z"/>
<path class="k28" d="M125.2,503.1 125.6,506.4 126,506.5zM125.2,503.1 126,506.5 128.7,507.2 128.3,503.9z"/>
<path class="m" d="M125.2,503.1 128,527.1 131.1,528 128.3,503.9z"/>
<path class="e" d="M125.2,503.1 128.3,503.9"/>
<path class="k8" d="M331.1,590 343.3,593.7 345.1,589.1z"/>
<path class="k9" d="M319.4,586.4 331.1,590 345.1,589.1 346.3,586.1zM319.4,586.4 346.3,586.1 341.6,584.4 319.6,585.9z"/>
<path class="k10" d="M341.6,584.4 329.9,580.3 321.3,580.8 319.6,585.9z"/>
<path class="k11" d="M329.9,580.3 322.4,577.6 321.3,580.8z"/>
<path class="m" d="M319.4,586.4 343.3,593.7 346.3,586.1 322.4,577.6z"/>
<path class="k13" d="M144.5,582.8 144.7,582.9 147.7,583.7 147.5,583.6zM147.5,583.6 147.7,583.7 147.6,583.6z"/>
<path class="k14" d="M141.9,580.9 144.5,582.8 147.5,583.6zM141.9,580.9 147.5,583.6 147.6,583.6 144.9,581.7z"/>
<path class="m" d="M141.9,580.9 144.7,582.9 147.7,583.7 144.9,581.7z"/>
<path class="k14" d="M140.1,577.8 141.9,580.9 144.9,581.7 143.2,578.6z"/>
<path class="m" d="M140.1,577.8 141.9,580.9 144.9,581.7 143.2,578.6z"/>
<path class="k14" d="M140.1,577.8 140.1,577.8 143.2,578.6 143.1,578.6zM143.1,578.6 143.2,578.6 143.1,578.6z"/>
<path class="k15" d="M138.2,573.5 140.1,577.8 143.1,578.6zM138.2,573.5 143.1,578.6 143.1,578.6 141.3,574.4z"/>
<path class="m" d="M138.2,573.5 140.1,577.8 143.2,578.6 141.3,574.4z"/>
<path class="k15" d="M137.9,572.5 138.2,573.5 141.3,574.4 140.2,573.1zM140.2,573.1 141.3,574.4 141,573.3z"/>
<path class="k16" d="M136.9,569.3 137.9,572.5 140.2,573.1zM136.9,569.3 140.2,573.1 141,573.3 139.9,570.1z"/>
<path class="m" d="M136.9,569.3 138.2,573.5 141.3,574.4 139.9,570.1z"/>
<path class="k16" d="M136.3,567.1 136.9,569.3 139.9,570.1 138.2,567.6zM138.2,567.6 139.9,570.1 139.4,568z"/>
<path class="k17" d="M135.6,563.9 136.3,567.1 138.2,567.6zM135.6,563.9 138.2,567.6 139.4,568 138.6,564.7z"/>
<path class="m" d="M135.6,563.9 136.9,569.3 139.9,570.1 138.6,564.7z"/>
<path class="k17" d="M135.2,561.7 135.6,563.9 138.6,564.7 137.3,562.3zM137.3,562.3 138.6,564.7 138.3,562.6z"/>
<path class="k18" d="M134.4,556.9 135.2,561.7 137.3,562.3zM134.4,556.9 137.3,562.3 138.3,562.6 137.4,557.7z"/>
<path class="m" d="M134.4,556.9 135.6,563.9 138.6,564.7 137.4,557.7z"/>
<path class="k18" d="M134.3,556.3 134.4,556.9 137.4,557.7 137.2,557.1zM137.2,557.1 137.4,557.7 137.4,557.2z"/>
<path class="k19" d="M133.7,550.9 134.3,556.3 137.2,557.1 135.1,551.3zM135.1,551.3 137.2,557.1 137.4,557.2 136.7,551.7z"/>
<path class="k20" d="M133,545.4 133.7,550.9 135.1,551.3zM133,545.4 135.1,551.3 136.7,551.7 136.1,546.2z"/>
<path class="m" d="M133,545.4 134.4,556.9 137.4,557.7 136.1,546.2z"/>
<path class="k20" d="M133,545.4 133,545.4 136.1,546.2 136.1,546.2zM136.1,546.2 136.1,546.2 136.1,546.2z"/>
<path class="k21" d="M132.4,539.9 133,545.4 136.1,546.2 134.5,540.5zM134.5,540.5 136.1,546.2 136.1,546.2 135.5,540.8z"/>
<path class="k22" d="M131.8,534.5 132.4,539.9 134.5,540.5 133,534.8zM133,534.8 134.5,540.5 135.5,540.8 134.9,535.3z"/>
<path class="k23" d="M131.2,529 131.8,534.5 133,534.8 131.4,529.1zM131.4,529.1 133,534.8 134.9,535.3 134.3,529.9z"/>
<path class="k24" d="M131.1,528 131.2,529 131.4,529.1zM131.1,528 131.4,529.1 134.3,529.9 134.2,528.8z"/>
<path class="m" d="M131.1,528 133,545.4 136.1,546.2 134.2,528.8z"/>
<path class="k24" d="M130.6,523.6 131.1,528 134.2,528.8 133.1,524.2zM133.1,524.2 134.2,528.8 133.7,524.4z"/>
<path class="k25" d="M129.9,518.1 130.6,523.6 133.1,524.2 131.8,518.6zM131.8,518.6 133.1,524.2 133.7,524.4 133,518.9z"/>
<path class="k26" d="M129.3,512.7 129.9,518.1 131.8,518.6 130.4,513zM130.4,513 131.8,518.6 133,518.9 132.4,513.5z"/>
<path class="k27" d="M128.7,507.2 129.3,512.7 130.4,513 129.1,507.3zM129.1,507.3 130.4,513 132.4,513.5 131.7,508z"/>
<path class="k28" d="M128.3,503.9 128.7,507.2 129.1,507.3zM128.3,503.9 129.1,507.3 131.7,508 131.3,504.8z"/>
<path class="m" d="M128.3,503.9 131.1,528 134.2,528.8 131.3,504.8z"/>
<path class="e" d="M128.3,503.9 131.3,504.8"/>
<path class="k9" d="M341.6,584.4 346.3,586.1 347.2,584.1z"/>
<path class="k10" d="M329.9,580.3 341.6,584.4 347.2,584.1 349.2,579.2z"/>
<path class="k11" d="M322.4,577.6 329.9,580.3 349.2,579.2 349.4,578.8zM322.4,577.6 349.4,578.8 336.2,574.1 323.6,574.8z"/>
<path class="k12" d="M336.2,574.1 325.5,570.3 323.6,574.8z"/>
<path class="m" d="M322.4,577.6 346.3,586.1 349.4,578.8 325.5,570.3z"/>
<path class="k13" d="M147.6,583.6 147.7,583.7 150.8,584.6 150.5,584.4zM150.5,584.4 150.8,584.6 150.7,584.5z"/>
<path class="k14" d="M144.9,581.7 147.6,583.6 150.5,584.4zM144.9,581.7 150.5,584.4 150.7,584.5 148,582.5z"/>
<path class="m" d="M144.9,581.7 147.7,583.7 150.8,584.6 148,582.5z"/>
<path class="k14" d="M143.2,578.6 144.9,581.7 148,582.5 146.2,579.5z"/>
<path class="m" d="M143.2,578.6 144.9,581.7 148,582.5 146.2,579.5z"/>
<path class="k14" d="M143.1,578.6 143.2,578.6 146.2,579.5 146.2,579.4zM146.2,579.4 146.2,579.5 146.2,579.4z"/>
<path class="k15" d="M141.3,574.4 143.1,578.6 146.2,579.4zM141.3,574.4 146.2,579.4 146.2,579.4 144.4,575.2z"/>
<path class="m" d="M141.3,574.4 143.2,578.6 146.2,579.5 144.4,575.2z"/>
<path class="k15" d="M141,573.3 141.3,574.4 144.4,575.2 143.3,574zM143.3,574 144.4,575.2 144,574.2z"/>
<path class="k16" d="M139.9,570.1 141,573.3 143.3,574zM139.9,570.1 143.3,574 144,574.2 143,571z"/>
<path class="m" d="M139.9,570.1 141.3,574.4 144.4,575.2 143,571z"/>
<path class="k16" d="M139.4,568 139.9,570.1 143,571 141.3,568.5zM141.3,568.5 143,571 142.5,568.8z"/>
<path class="k17" d="M138.6,564.7 139.4,568 141.3,568.5zM138.6,564.7 141.3,568.5 142.5,568.8 141.7,565.6z"/>
<path class="m" d="M138.6,564.7 139.9,570.1 143,571 141.7,565.6z"/>
<path class="k17" d="M138.3,562.6 138.6,564.7 141.7,565.6 140.4,563.2zM140.4,563.2 141.7,565.6 141.3,563.4z"/>
<path class="k18" d="M137.4,557.7 138.3,562.6 140.4,563.2zM137.4,557.7 140.4,563.2 141.3,563.4 140.5,558.6z"/>
<path class="m" d="M137.4,557.7 138.6,564.7 141.7,565.6 140.5,558.6z"/>
<path class="k18" d="M137.4,557.2 137.4,557.7 140.5,558.6 140.3,558zM140.3,558 140.5,558.6 140.4,558z"/>
<path class="k19" d="M136.7,551.7 137.4,557.2 140.3,558 138.2,552.1zM138.2,552.1 140.3,558 140.4,558 139.8,552.5z"/>
<path class="k20" d="M136.1,546.2 136.7,551.7 138.2,552.1zM136.1,546.2 138.2,552.1 139.8,552.5 139.1,547.1z"/>
<path class="m" d="M136.1,546.2 137.4,557.7 140.5,558.6 139.1,547.1z"/>
<path class="k20" d="M136.1,546.2 136.1,546.2 139.1,547.1 139.1,547.1zM139.1,547.1 139.1,547.1 139.1,547.1z"/>
<path class="k21" d="M135.5,540.8 136.1,546.2 139.1,547.1 137.6,541.4zM137.6,541.4 139.1,547.1 139.1,547.1 138.5,541.6z"/>
<path class="k22" d="M134.9,535.3 135.5,540.8 137.6,541.4 136,535.6zM136,535.6 137.6,541.4 138.5,541.6 137.9,536.2z"/>
<path class="k23" d="M134.3,529.9 134.9,535.3 136,535.6 134.5,529.9zM134.5,529.9 136,535.6 137.9,536.2 137.4,530.7z"/>
<path class="k24" d="M134.2,528.8 134.3,529.9 134.5,529.9zM134.2,528.8 134.5,529.9 137.4,530.7 137.2,529.6z"/>
<path class="m" d="M134.2,528.8 136.1,546.2 139.1,547.1 137.2,529.6z"/>
<path class="k24" d="M133.7,524.4 134.2,528.8 137.2,529.6 136.2,525.1zM136.2,525.1 137.2,529.6 136.7,525.2z"/>
<path class="k25" d="M133,518.9 133.7,524.4 136.2,525.1 134.8,519.4zM134.8,519.4 136.2,525.1 136.7,525.2 136.1,519.8z"/>
<path class="k26" d="M132.4,513.5 133,518.9 134.8,519.4 133.5,513.8zM133.5,513.8 134.8,519.4 136.1,519.8 135.4,514.3z"/>
<path class="k27" d="M131.7,508 132.4,513.5 133.5,513.8 132.1,508.1zM132.1,508.1 133.5,513.8 135.4,514.3 134.8,508.9z"/>
<path class="k28" d="M131.3,504.8 131.7,508 132.1,508.1zM131.3,504.8 132.1,508.1 134.8,508.9 134.4,505.6z"/>
<path class="m" d="M131.3,504.8 134.2,528.8 137.2,529.6 134.4,505.6z"/>
<path class="e" d="M131.3,504.8 134.4,505.6"/>
<path class="k13" d="M150.7,584.5 150.8,584.6 153.9,585.4 153.6,585.3zM153.6,585.3 153.9,585.4 153.7,585.3z"/>
<path class="k14" d="M148,582.5 150.7,584.5 153.6,585.3zM148,582.5 153.6,585.3 153.7,585.3 151.1,583.4z"/>
<path class="m" d="M148,582.5 150.8,584.6 153.9,585.4 151.1,583.4z"/>
<path class="k14" d="M146.2,579.5 148,582.5 151.1,583.4 149.3,580.3z"/>
<path class="m" d="M146.2,579.5 148,582.5 151.1,583.4 149.3,580.3z"/>
<path class="k14" d="M146.2,579.4 146.2,579.5 149.3,580.3 149.3,580.3zM149.3,580.3 149.3,580.3 149.3,580.3z"/>
<path class="k15" d="M144.4,575.2 146.2,579.4 149.3,580.3zM144.4,575.2 149.3,580.3 149.3,580.3 147.4,576.1z"/>
<path class="m" d="M144.4,575.2 146.2,579.5 149.3,580.3 147.4,576.1z"/>
<path class="k15" d="M144,574.2 144.4,575.2 147.4,576.1 146.3,574.8zM146.3,574.8 147.4,576.1 147.1,575z"/>
<path class="k16" d="M143,571 144,574.2 146.3,574.8zM143,571 146.3,574.8 147.1,575 146.1,571.8z"/>
<path class="m" d="M143,571 144.4,575.2 147.4,576.1 146.1,571.8z"/>
<path class="k16" d="M142.5,568.8 143,571 146.1,571.8 144.3,569.3zM144.3,569.3 146.1,571.8 145.5,569.7z"/>
<path class="k17" d="M141.7,565.6 142.5,568.8 144.3,569.3zM141.7,565.6 144.3,569.3 145.5,569.7 144.8,566.4z"/>
<path class="m" d="M141.7,565.6 143,571 146.1,571.8 144.8,566.4z"/>
<path class="k17" d="M141.3,563.4 141.7,565.6 144.8,566.4 143.5,564zM143.5,564 144.8,566.4 144.4,564.3z"/>
<path class="k18" d="M140.5,558.6 141.3,563.4 143.5,564zM140.5,558.6 143.5,564 144.4,564.3 143.5,559.4z"/>
<path class="m" d="M140.5,558.6 141.7,565.6 144.8,566.4 143.5,559.4z"/>
<path class="k18" d="M140.4,558 140.5,558.6 143.5,559.4 143.3,558.8zM143.3,558.8 143.5,559.4 143.5,558.8z"/>
<path class="k19" d="M139.8,552.5 140.4,558 143.3,558.8 141.2,552.9zM141.2,552.9 143.3,558.8 143.5,558.8 142.8,553.4z"/>
<path class="k20" d="M139.1,547.1 139.8,552.5 141.2,552.9zM139.1,547.1 141.2,552.9 142.8,553.4 142.2,547.9z"/>
<path class="m" d="M139.1,547.1 140.5,558.6 143.5,559.4 142.2,547.9z"/>
<path class="k20" d="M139.1,547.1 139.1,547.1 142.2,547.9 142.2,547.9zM142.2,547.9 142.2,547.9 142.2,547.9z"/>
<path class="k21" d="M138.5,541.6 139.1,547.1 142.2,547.9 140.7,542.2zM140.7,542.2 142.2,547.9 142.2,547.9 141.6,542.5z"/>
<path class="k22" d="M137.9,536.2 138.5,541.6 140.7,542.2 139.1,536.5zM139.1,536.5 140.7,542.2 141.6,542.5 141,537z"/>
<path class="k23" d="M137.4,530.7 137.9,536.2 139.1,536.5 137.5,530.7zM137.5,530.7 139.1,536.5 141,537 140.4,531.5z"/>
<path class="k24" d="M137.2,529.6 137.4,530.7 137.5,530.7zM137.2,529.6 137.5,530.7 140.4,531.5 140.3,530.5z"/>
<path class="m" d="M137.2,529.6 139.1,547.1 142.2,547.9 140.3,530.5z"/>
<path class="k24" d="M136.7,525.2 137.2,529.6 140.3,530.5 139.2,525.9zM139.2,525.9 140.3,530.5 139.8,526.1z"/>
<path class="k25" d="M136.1,519.8 136.7,525.2 139.2,525.9 137.9,520.3zM137.9,520.3 139.2,525.9 139.8,526.1 139.1,520.6z"/>
<path class="k26" d="M135.4,514.3 136.1,519.8 137.9,520.3 136.5,514.6zM136.5,514.6 137.9,520.3 139.1,520.6 138.5,515.2z"/>
<path class="k27" d="M134.8,508.9 135.4,514.3 136.5,514.6 135.2,509zM135.2,509 136.5,514.6 138.5,515.2 137.8,509.7z"/>
<path class="k28" d="M134.4,505.6 134.8,508.9 135.2,509zM134.4,505.6 135.2,509 137.8,509.7 137.5,506.4z"/>
<path class="m" d="M134.4,505.6 137.2,529.6 140.3,530.5 137.5,506.4z"/>
<path class="e" d="M134.4,505.6 137.5,506.4"/>
<path class="k13" d="M153.7,585.3 153.9,585.4 156.9,586.2 156.7,586.1zM156.7,586.1 156.9,586.2 156.8,586.1z"/>
<path class="k14" d="M151.1,583.4 153.7,585.3 156.7,586.1zM151.1,583.4 156.7,586.1 156.8,586.1 154.1,584.2z"/>
<path class="m" d="M151.1,583.4 153.9,585.4 156.9,586.2 154.1,584.2z"/>
<path class="k14" d="M149.3,580.3 151.1,583.4 154.1,584.2 152.3,581.1z"/>
<path class="m" d="M149.3,580.3 151.1,583.4 154.1,584.2 152.3,581.1z"/>
<path class="k14" d="M149.3,580.3 149.3,580.3 152.3,581.1 152.3,581.1zM152.3,581.1 152.3,581.1 152.3,581.1z"/>
<path class="k15" d="M147.4,576.1 149.3,580.3 152.3,581.1zM147.4,576.1 152.3,581.1 152.3,581.1 150.5,576.9z"/>
<path class="m" d="M147.4,576.1 149.3,580.3 152.3,581.1 150.5,576.9z"/>
<path class="k15" d="M147.1,575 147.4,576.1 150.5,576.9 149.4,575.6zM149.4,575.6 150.5,576.9 150.2,575.8z"/>
<path class="k16" d="M146.1,571.8 147.1,575 149.4,575.6zM146.1,571.8 149.4,575.6 150.2,575.8 149.1,572.6z"/>
<path class="m" d="M146.1,571.8 147.4,576.1 150.5,576.9 149.1,572.6z"/>
<path class="k16" d="M145.5,569.7 146.1,571.8 149.1,572.6 147.4,570.2zM147.4,570.2 149.1,572.6 148.6,570.5z"/>
<path class="k17" d="M144.8,566.4 145.5,569.7 147.4,570.2zM144.8,566.4 147.4,570.2 148.6,570.5 147.8,567.2z"/>
<path class="m" d="M144.8,566.4 146.1,571.8 149.1,572.6 147.8,567.2z"/>
<path class="k17" d="M144.4,564.3 144.8,566.4 147.8,567.2 146.5,564.8zM146.5,564.8 147.8,567.2 147.5,565.1z"/>
<path class="k18" d="M143.5,559.4 144.4,564.3 146.5,564.8zM143.5,559.4 146.5,564.8 147.5,565.1 146.6,560.2z"/>
<path class="m" d="M143.5,559.4 144.8,566.4 147.8,567.2 146.6,560.2z"/>
<path class="k18" d="M143.5,558.8 143.5,559.4 146.6,560.2 146.4,559.6zM146.4,559.6 146.6,560.2 146.5,559.7z"/>
<path class="k19" d="M142.8,553.4 143.5,558.8 146.4,559.6 144.3,553.8zM144.3,553.8 146.4,559.6 146.5,559.7 145.9,554.2z"/>
<path class="k20" d="M142.2,547.9 142.8,553.4 144.3,553.8zM142.2,547.9 144.3,553.8 145.9,554.2 145.3,548.8z"/>
<path class="m" d="M142.2,547.9 143.5,559.4 146.6,560.2 145.3,548.8z"/>
<path class="k20" d="M142.2,547.9 142.2,547.9 145.3,548.8 145.3,548.8zM145.3,548.8 145.3,548.8 145.3,548.8z"/>
<path class="k21" d="M141.6,542.5 142.2,547.9 145.3,548.8 143.7,543zM143.7,543 145.3,548.8 145.3,548.8 144.7,543.3z"/>
<path class="k22" d="M141,537 141.6,542.5 143.7,543 142.2,537.3zM142.2,537.3 143.7,543 144.7,543.3 144.1,537.8z"/>
<path class="k23" d="M140.4,531.5 141,537 142.2,537.3 140.6,531.6zM140.6,531.6 142.2,537.3 144.1,537.8 143.5,532.4z"/>
<path class="k24" d="M140.3,530.5 140.4,531.5 140.6,531.6zM140.3,530.5 140.6,531.6 143.5,532.4 143.4,531.3z"/>
<path class="m" d="M140.3,530.5 142.2,547.9 145.3,548.8 143.4,531.3z"/>
<path class="k24" d="M139.8,526.1 140.3,530.5 143.4,531.3 142.3,526.8zM142.3,526.8 143.4,531.3 142.8,526.9z"/>
<path class="k25" d="M139.1,520.6 139.8,526.1 142.3,526.8 140.9,521.1zM140.9,521.1 142.3,526.8 142.8,526.9 142.2,521.5z"/>
<path class="k26" d="M138.5,515.2 139.1,520.6 140.9,521.1 139.6,515.5zM139.6,515.5 140.9,521.1 142.2,521.5 141.6,516z"/>
<path class="k27" d="M137.8,509.7 138.5,515.2 139.6,515.5 138.3,509.8zM138.3,509.8 139.6,515.5 141.6,516 140.9,510.6z"/>
<path class="k28" d="M137.5,506.4 137.8,509.7 138.3,509.8zM137.5,506.4 138.3,509.8 140.9,510.6 140.5,507.3z"/>
<path class="m" d="M137.5,506.4 140.3,530.5 143.4,531.3 140.5,507.3z"/>
<path class="e" d="M137.5,506.4 140.5,507.3"/>
<path class="k13" d="M156.8,586.1 156.9,586.2 160,587.1 159.7,586.9zM159.7,586.9 160,587.1 159.9,587z"/>
<path class="k14" d="M154.1,584.2 156.8,586.1 159.7,586.9zM154.1,584.2 159.7,586.9 159.9,587 157.2,585.1z"/>
<path class="m" d="M154.1,584.2 156.9,586.2 160,587.1 157.2,585.1z"/>
<path class="k14" d="M152.3,581.1 154.1,584.2 157.2,585.1 155.4,582z"/>
<path class="m" d="M152.3,581.1 154.1,584.2 157.2,585.1 155.4,582z"/>
<path class="k14" d="M152.3,581.1 152.3,581.1 155.4,582 155.4,582zM155.4,582 155.4,582 155.4,582z"/>
<path class="k15" d="M150.5,576.9 152.3,581.1 155.4,582zM150.5,576.9 155.4,582 155.4,582 153.6,577.7z"/>
<path class="m" d="M150.5,576.9 152.3,581.1 155.4,582 153.6,577.7z"/>
<path class="k15" d="M150.2,575.8 150.5,576.9 153.6,577.7 152.5,576.5zM152.5,576.5 153.6,577.7 153.2,576.7z"/>
<path class="k16" d="M149.1,572.6 150.2,575.8 152.5,576.5zM149.1,572.6 152.5,576.5 153.2,576.7 152.2,573.5z"/>
<path class="m" d="M149.1,572.6 150.5,576.9 153.6,577.7 152.2,573.5z"/>
<path class="k16" d="M148.6,570.5 149.1,572.6 152.2,573.5 150.4,571zM150.4,571 152.2,573.5 151.7,571.3z"/>
<path class="k17" d="M147.8,567.2 148.6,570.5 150.4,571zM147.8,567.2 150.4,571 151.7,571.3 150.9,568.1z"/>
<path class="m" d="M147.8,567.2 149.1,572.6 152.2,573.5 150.9,568.1z"/>
<path class="k17" d="M147.5,565.1 147.8,567.2 150.9,568.1 149.6,565.7zM149.6,565.7 150.9,568.1 150.5,565.9z"/>
<path class="k18" d="M146.6,560.2 147.5,565.1 149.6,565.7zM146.6,560.2 149.6,565.7 150.5,565.9 149.7,561.1z"/>
<path class="m" d="M146.6,560.2 147.8,567.2 150.9,568.1 149.7,561.1z"/>
<path class="k18" d="M146.5,559.7 146.6,560.2 149.7,561.1 149.5,560.5zM149.5,560.5 149.7,561.1 149.6,560.5z"/>
<path class="k19" d="M145.9,554.2 146.5,559.7 149.5,560.5 147.4,554.6zM147.4,554.6 149.5,560.5 149.6,560.5 149,555.1z"/>
<path class="k20" d="M145.3,548.8 145.9,554.2 147.4,554.6zM145.3,548.8 147.4,554.6 149,555.1 148.3,549.6z"/>
<path class="m" d="M145.3,548.8 146.6,560.2 149.7,561.1 148.3,549.6z"/>
<path class="k20" d="M145.3,548.8 145.3,548.8 148.3,549.6 148.3,549.6zM148.3,549.6 148.3,549.6 148.3,549.6z"/>
<path class="k21" d="M144.7,543.3 145.3,548.8 148.3,549.6 146.8,543.9zM146.8,543.9 148.3,549.6 148.3,549.6 147.7,544.1z"/>
<path class="k22" d="M144.1,537.8 144.7,543.3 146.8,543.9 145.2,538.2zM145.2,538.2 146.8,543.9 147.7,544.1 147.1,538.7z"/>
<path class="k23" d="M143.5,532.4 144.1,537.8 145.2,538.2 143.7,532.4zM143.7,532.4 145.2,538.2 147.1,538.7 146.5,533.2z"/>
<path class="k24" d="M143.4,531.3 143.5,532.4 143.7,532.4zM143.4,531.3 143.7,532.4 146.5,533.2 146.4,532.2z"/>
<path class="m" d="M143.4,531.3 145.3,548.8 148.3,549.6 146.4,532.2z"/>
<path class="k24" d="M142.8,526.9 143.4,531.3 146.4,532.2 145.3,527.6zM145.3,527.6 146.4,532.2 145.9,527.8z"/>
<path class="k25" d="M142.2,521.5 142.8,526.9 145.3,527.6 144,522zM144,522 145.3,527.6 145.9,527.8 145.3,522.3z"/>
<path class="k26" d="M141.6,516 142.2,521.5 144,522 142.7,516.3zM142.7,516.3 144,522 145.3,522.3 144.6,516.9z"/>
<path class="k27" d="M140.9,510.6 141.6,516 142.7,516.3 141.3,510.7zM141.3,510.7 142.7,516.3 144.6,516.9 144,511.4z"/>
<path class="k28" d="M140.5,507.3 140.9,510.6 141.3,510.7zM140.5,507.3 141.3,510.7 144,511.4 143.6,508.1z"/>
<path class="m" d="M140.5,507.3 143.4,531.3 146.4,532.2 143.6,508.1z"/>
<path class="e" d="M140.5,507.3 143.6,508.1"/>
<path class="k19" d="M263,543.6 286.9,543.3 290.5,542.1 266.6,543.9z"/>
<path class="m" d="M263,543.6 286.9,543.3 290.5,542.1 266.6,543.9z"/>
<path class="k19" d="M239.1,547.6 263,543.6 266.6,543.9 242.7,548.5z"/>
<path class="m" d="M239.1,547.6 263,543.6 266.6,543.9 242.7,548.5z"/>
<path class="k13" d="M159.9,587 160,587.1 163.6,588.1 163.3,587.9zM163.3,587.9 163.6,588.1 163.4,588z"/>
<path class="k14" d="M157.2,585.1 159.9,587 163.3,587.9zM157.2,585.1 163.3,587.9 163.4,588 160.8,586z"/>
<path class="m" d="M157.2,585.1 160,587.1 163.6,588.1 160.8,586z"/>
<path class="k14" d="M155.4,582 157.2,585.1 160.8,586 159,583z"/>
<path class="m" d="M155.4,582 157.2,585.1 160.8,586 159,583z"/>
<path class="k14" d="M155.4,582 155.4,582 159,583 159,582.9zM159,582.9 159,583 159,582.9z"/>
<path class="k15" d="M153.6,577.7 155.4,582 159,582.9zM153.6,577.7 159,582.9 159,582.9 157.1,578.7z"/>
<path class="m" d="M153.6,577.7 155.4,582 159,583 157.1,578.7z"/>
<path class="k15" d="M153.2,576.7 153.6,577.7 157.1,578.7 155.9,577.4zM155.9,577.4 157.1,578.7 156.8,577.7z"/>
<path class="k16" d="M152.2,573.5 153.2,576.7 155.9,577.4zM152.2,573.5 155.9,577.4 156.8,577.7 155.8,574.5z"/>
<path class="m" d="M152.2,573.5 153.6,577.7 157.1,578.7 155.8,574.5z"/>
<path class="k16" d="M151.7,571.3 152.2,573.5 155.8,574.5 153.8,571.9zM153.8,571.9 155.8,574.5 155.2,572.3z"/>
<path class="k17" d="M150.9,568.1 151.7,571.3 153.8,571.9zM150.9,568.1 153.8,571.9 155.2,572.3 154.5,569.1z"/>
<path class="m" d="M150.9,568.1 152.2,573.5 155.8,574.5 154.5,569.1z"/>
<path class="k17" d="M150.5,565.9 150.9,568.1 154.5,569.1 153,566.6zM153,566.6 154.5,569.1 154.1,566.9z"/>
<path class="k18" d="M149.7,561.1 150.5,565.9 153,566.6zM149.7,561.1 153,566.6 154.1,566.9 153.2,562.1z"/>
<path class="m" d="M149.7,561.1 150.9,568.1 154.5,569.1 153.2,562.1z"/>
<path class="k18" d="M149.6,560.5 149.7,561.1 153.2,562.1 153,561.4zM153,561.4 153.2,562.1 153.2,561.5z"/>
<path class="k19" d="M149,555.1 149.6,560.5 153,561.4 150.7,555.5zM150.7,555.5 153,561.4 153.2,561.5 152.5,556z"/>
<path class="k20" d="M148.3,549.6 149,555.1 150.7,555.5zM148.3,549.6 150.7,555.5 152.5,556 151.9,550.6z"/>
<path class="m" d="M148.3,549.6 149.7,561.1 153.2,562.1 151.9,550.6z"/>
<path class="k20" d="M148.3,549.6 148.3,549.6 151.9,550.6 151.9,550.6zM151.9,550.6 151.9,550.6 151.9,550.6z"/>
<path class="k21" d="M147.7,544.1 148.3,549.6 151.9,550.6 150.2,544.8zM150.2,544.8 151.9,550.6 151.9,550.6 151.3,545.1z"/>
<path class="k22" d="M147.1,538.7 147.7,544.1 150.2,544.8 148.5,539zM148.5,539 150.2,544.8 151.3,545.1 150.7,539.7z"/>
<path class="k23" d="M146.5,533.2 147.1,538.7 148.5,539 146.8,533.3zM146.8,533.3 148.5,539 150.7,539.7 150.1,534.2z"/>
<path class="k24" d="M146.4,532.2 146.5,533.2 146.8,533.3zM146.4,532.2 146.8,533.3 150.1,534.2 150,533.1z"/>
<path class="m" d="M146.4,532.2 148.3,549.6 151.9,550.6 150,533.1z"/>
<path class="k24" d="M145.9,527.8 146.4,532.2 150,533.1 148.8,528.6zM148.8,528.6 150,533.1 149.5,528.7z"/>
<path class="k25" d="M145.3,522.3 145.9,527.8 148.8,528.6 147.4,522.9zM147.4,522.9 148.8,528.6 149.5,528.7 148.8,523.3z"/>
<path class="k26" d="M144.6,516.9 145.3,522.3 147.4,522.9 145.9,517.2zM145.9,517.2 147.4,522.9 148.8,523.3 148.2,517.8z"/>
<path class="k27" d="M144,511.4 144.6,516.9 145.9,517.2 144.5,511.5zM144.5,511.5 145.9,517.2 148.2,517.8 147.5,512.4z"/>
<path class="k28" d="M143.6,508.1 144,511.4 144.5,511.5zM143.6,508.1 144.5,511.5 147.5,512.4 147.2,509.1z"/>
<path class="m" d="M143.6,508.1 146.4,532.2 150,533.1 147.2,509.1z"/>
<path class="e" d="M143.6,508.1 147.2,509.1"/>
<path class="k19" d="M266.6,543.9 290.5,542.1 294.6,541.6 270.7,544.6z"/>
<path class="m" d="M266.6,543.9 290.5,542.1 294.6,541.6 270.7,544.6z"/>
<path class="k19" d="M242.7,548.5 266.6,543.9 270.7,544.6 246.8,549.7z"/>
<path class="m" d="M242.7,548.5 266.6,543.9 270.7,544.6 246.8,549.7z"/>
<path class="k13" d="M163.4,588 163.6,588.1 167.7,589.2 167.3,589zM167.3,589 167.7,589.2 167.5,589.1z"/>
<path class="k14" d="M160.8,586 163.4,588 167.3,589zM160.8,586 167.3,589 167.5,589.1 164.9,587.2z"/>
<path class="m" d="M160.8,586 163.6,588.1 167.7,589.2 164.9,587.2z"/>
<path class="k14" d="M159,583 160.8,586 164.9,587.2 163.1,584.1z"/>
<path class="m" d="M159,583 160.8,586 164.9,587.2 163.1,584.1z"/>
<path class="k14" d="M159,582.9 159,583 163.1,584.1 163.1,584.1zM163.1,584.1 163.1,584.1 163.1,584.1z"/>
<path class="k15" d="M157.1,578.7 159,582.9 163.1,584.1zM157.1,578.7 163.1,584.1 163.1,584.1 161.2,579.8z"/>
<path class="m" d="M157.1,578.7 159,583 163.1,584.1 161.2,579.8z"/>
<path class="k15" d="M156.8,577.7 157.1,578.7 161.2,579.8 159.9,578.5zM159.9,578.5 161.2,579.8 160.9,578.8z"/>
<path class="k16" d="M155.8,574.5 156.8,577.7 159.9,578.5zM155.8,574.5 159.9,578.5 160.9,578.8 159.8,575.6z"/>
<path class="m" d="M155.8,574.5 157.1,578.7 161.2,579.8 159.8,575.6z"/>
<path class="k16" d="M155.2,572.3 155.8,574.5 159.8,575.6 157.7,573zM157.7,573 159.8,575.6 159.3,573.4z"/>
<path class="k17" d="M154.5,569.1 155.2,572.3 157.7,573zM154.5,569.1 157.7,573 159.3,573.4 158.6,570.2z"/>
<path class="m" d="M154.5,569.1 155.8,574.5 159.8,575.6 158.6,570.2z"/>
<path class="k17" d="M154.1,566.9 154.5,569.1 158.6,570.2 156.9,567.7zM156.9,567.7 158.6,570.2 158.2,568z"/>
<path class="k18" d="M153.2,562.1 154.1,566.9 156.9,567.7zM153.2,562.1 156.9,567.7 158.2,568 157.3,563.2z"/>
<path class="m" d="M153.2,562.1 154.5,569.1 158.6,570.2 157.3,563.2z"/>
<path class="k18" d="M153.2,561.5 153.2,562.1 157.3,563.2 157.1,562.6zM157.1,562.6 157.3,563.2 157.3,562.6z"/>
<path class="k19" d="M152.5,556 153.2,561.5 157.1,562.6 154.5,556.6zM154.5,556.6 157.1,562.6 157.3,562.6 156.6,557.2z"/>
<path class="k20" d="M151.9,550.6 152.5,556 154.5,556.6zM151.9,550.6 154.5,556.6 156.6,557.2 156,551.7z"/>
<path class="m" d="M151.9,550.6 153.2,562.1 157.3,563.2 156,551.7z"/>
<path class="k20" d="M151.9,550.6 151.9,550.6 156,551.7 156,551.7zM156,551.7 156,551.7 156,551.7z"/>
<path class="k21" d="M151.3,545.1 151.9,550.6 156,551.7 154.1,545.9zM154.1,545.9 156,551.7 156,551.7 155.4,546.2z"/>
<path class="k22" d="M150.7,539.7 151.3,545.1 154.1,545.9 152.2,540.1zM152.2,540.1 154.1,545.9 155.4,546.2 154.8,540.8z"/>
<path class="k23" d="M150.1,534.2 150.7,539.7 152.2,540.1 150.4,534.3zM150.4,534.3 152.2,540.1 154.8,540.8 154.2,535.3z"/>
<path class="k24" d="M150,533.1 150.1,534.2 150.4,534.3zM150,533.1 150.4,534.3 154.2,535.3 154.1,534.3z"/>
<path class="m" d="M150,533.1 151.9,550.6 156,551.7 154.1,534.3z"/>
<path class="k24" d="M149.5,528.7 150,533.1 154.1,534.3 152.8,529.7zM152.8,529.7 154.1,534.3 153.6,529.9z"/>
<path class="k25" d="M148.8,523.3 149.5,528.7 152.8,529.7 151.2,523.9zM151.2,523.9 152.8,529.7 153.6,529.9 152.9,524.4z"/>
<path class="k26" d="M148.2,517.8 148.8,523.3 151.2,523.9 149.7,518.2zM149.7,518.2 151.2,523.9 152.9,524.4 152.3,519z"/>
<path class="k27" d="M147.5,512.4 148.2,517.8 149.7,518.2 148.1,512.5zM148.1,512.5 149.7,518.2 152.3,519 151.6,513.5z"/>
<path class="k28" d="M147.2,509.1 147.5,512.4 148.1,512.5zM147.2,509.1 148.1,512.5 151.6,513.5 151.2,510.2z"/>
<path class="m" d="M147.2,509.1 150,533.1 154.1,534.3 151.2,510.2z"/>
<path class="e" d="M147.2,509.1 151.2,510.2"/>
<path class="k19" d="M294.6,541.6 318.5,541.2 323.6,540zM294.6,541.6 323.6,540 319.1,540.4 296.4,541.7z"/>
<path class="k20" d="M319.1,540.4 299.7,542 296.4,541.7z"/>
<path class="m" d="M294.6,541.6 318.5,541.2 323.6,540 299.7,542z"/>
<path class="k19" d="M270.7,544.6 294.6,541.6 296.4,541.7 284.6,543.3zM270.7,544.6 284.6,543.3 283.7,544.5 275.8,545.7z"/>
<path class="k20" d="M296.4,541.7 299.7,542 284.6,543.3zM284.6,543.3 299.7,542 283.7,544.5z"/>
<path class="m" d="M270.7,544.6 294.6,541.6 299.7,542 275.8,545.7z"/>
<path class="k19" d="M246.8,549.7 270.7,544.6 275.8,545.7 251.9,551.1z"/>
<path class="m" d="M246.8,549.7 270.7,544.6 275.8,545.7 251.9,551.1z"/>
<path class="k13" d="M167.5,589.1 167.7,589.2 172.8,590.6 172.4,590.4zM172.4,590.4 172.8,590.6 172.6,590.5z"/>
<path class="k14" d="M164.9,587.2 167.5,589.1 172.4,590.4zM164.9,587.2 172.4,590.4 172.6,590.5 170,588.6z"/>
<path class="m" d="M164.9,587.2 167.7,589.2 172.8,590.6 170,588.6z"/>
<path class="k14" d="M163.1,584.1 164.9,587.2 170,588.6 168.2,585.5z"/>
<path class="m" d="M163.1,584.1 164.9,587.2 170,588.6 168.2,585.5z"/>
<path class="k14" d="M163.1,584.1 163.1,584.1 168.2,585.5 168.2,585.5zM168.2,585.5 168.2,585.5 168.2,585.5z"/>
<path class="k15" d="M161.2,579.8 163.1,584.1 168.2,585.5zM161.2,579.8 168.2,585.5 168.2,585.5 166.3,581.2z"/>
<path class="m" d="M161.2,579.8 163.1,584.1 168.2,585.5 166.3,581.2z"/>
<path class="k15" d="M160.9,578.8 161.2,579.8 166.3,581.2 164.7,579.8zM164.7,579.8 166.3,581.2 166,580.2z"/>
<path class="k16" d="M159.8,575.6 160.9,578.8 164.7,579.8zM159.8,575.6 164.7,579.8 166,580.2 165,577z"/>
<path class="m" d="M159.8,575.6 161.2,579.8 166.3,581.2 165,577z"/>
<path class="k16" d="M159.3,573.4 159.8,575.6 165,577 162.4,574.3zM162.4,574.3 165,577 164.4,574.8z"/>
<path class="k17" d="M158.6,570.2 159.3,573.4 162.4,574.3zM158.6,570.2 162.4,574.3 164.4,574.8 163.7,571.6z"/>
<path class="m" d="M158.6,570.2 159.8,575.6 165,577 163.7,571.6z"/>
<path class="k17" d="M158.2,568 158.6,570.2 163.7,571.6 161.7,569zM161.7,569 163.7,571.6 163.3,569.4z"/>
<path class="k18" d="M157.3,563.2 158.2,568 161.7,569zM157.3,563.2 161.7,569 163.3,569.4 162.4,564.6z"/>
<path class="m" d="M157.3,563.2 158.6,570.2 163.7,571.6 162.4,564.6z"/>
<path class="k18" d="M157.3,562.6 157.3,563.2 162.4,564.6 162.1,563.9zM162.1,563.9 162.4,564.6 162.4,564z"/>
<path class="k19" d="M156.6,557.2 157.3,562.6 162.1,563.9 159.1,557.8zM159.1,557.8 162.1,563.9 162.4,564 161.7,558.6z"/>
<path class="k20" d="M156,551.7 156.6,557.2 159.1,557.8zM156,551.7 159.1,557.8 161.7,558.6 161.1,553.1z"/>
<path class="m" d="M156,551.7 157.3,563.2 162.4,564.6 161.1,553.1z"/>
<path class="k20" d="M156,551.7 156,551.7 161.1,553.1 161.1,553.1zM161.1,553.1 161.1,553.1 161.1,553.1z"/>
<path class="k21" d="M155.4,546.2 156,551.7 161.1,553.1 158.9,547.2zM158.9,547.2 161.1,553.1 161.1,553.1 160.5,547.6z"/>
<path class="k22" d="M154.8,540.8 155.4,546.2 158.9,547.2 156.7,541.3zM156.7,541.3 158.9,547.2 160.5,547.6 159.9,542.2z"/>
<path class="k23" d="M154.2,535.3 154.8,540.8 156.7,541.3 154.5,535.4zM154.5,535.4 156.7,541.3 159.9,542.2 159.3,536.7z"/>
<path class="k24" d="M154.1,534.3 154.2,535.3 154.5,535.4zM154.1,534.3 154.5,535.4 159.3,536.7 159.2,535.7z"/>
<path class="m" d="M154.1,534.3 156,551.7 161.1,553.1 159.2,535.7z"/>
<path class="k24" d="M153.6,529.9 154.1,534.3 159.2,535.7 157.7,531zM157.7,531 159.2,535.7 158.7,531.3z"/>
<path class="k25" d="M152.9,524.4 153.6,529.9 157.7,531 155.9,525.2zM155.9,525.2 157.7,531 158.7,531.3 158,525.8z"/>
<path class="k26" d="M152.3,519 152.9,524.4 155.9,525.2 154.1,519.5zM154.1,519.5 155.9,525.2 158,525.8 157.4,520.4z"/>
<path class="k27" d="M151.6,513.5 152.3,519 154.1,519.5 152.3,513.7zM152.3,513.7 154.1,519.5 157.4,520.4 156.7,514.9z"/>
<path class="k28" d="M151.2,510.2 151.6,513.5 152.3,513.7zM151.2,510.2 152.3,513.7 156.7,514.9 156.3,511.6z"/>
<path class="m" d="M151.2,510.2 154.1,534.3 159.2,535.7 156.3,511.6z"/>
<path class="e" d="M151.2,510.2 156.3,511.6"/>
<path class="k19" d="M319.1,540.4 323.6,540 324,540z"/>
<path class="k20" d="M299.7,542 319.1,540.4 324,540 328.7,539.7zM299.7,542 328.7,539.7 304.8,542.7z"/>
<path class="m" d="M299.7,542 323.6,540 328.7,539.7 304.8,542.7z"/>
<path class="k19" d="M275.8,545.7 283.7,544.5 281.8,545.1zM275.8,545.7 281.8,545.1 285.3,546.3 280.9,547.1z"/>
<path class="k20" d="M283.7,544.5 299.7,542 304.8,542.7 281.8,545.1zM281.8,545.1 304.8,542.7 285.3,546.3z"/>
<path class="m" d="M275.8,545.7 299.7,542 304.8,542.7 280.9,547.1z"/>
<path class="k19" d="M251.9,551.1 275.8,545.7 280.9,547.1 257,552.5z"/>
<path class="m" d="M251.9,551.1 275.8,545.7 280.9,547.1 257,552.5z"/>
<path class="k13" d="M172.6,590.5 172.8,590.6 177.9,592 177.5,591.8zM177.5,591.8 177.9,592 177.7,591.9z"/>
<path class="k14" d="M170,588.6 172.6,590.5 177.5,591.8zM170,588.6 177.5,591.8 177.7,591.9 175.1,590z"/>
<path class="m" d="M170,588.6 172.8,590.6 177.9,592 175.1,590z"/>
<path class="k14" d="M168.2,585.5 170,588.6 175.1,590 173.3,586.9z"/>
<path class="m" d="M168.2,585.5 170,588.6 175.1,590 173.3,586.9z"/>
<path class="k14" d="M168.2,585.5 168.2,585.5 173.3,586.9 173.3,586.9zM173.3,586.9 173.3,586.9 173.3,586.9z"/>
<path class="k15" d="M166.3,581.2 168.2,585.5 173.3,586.9zM166.3,581.2 173.3,586.9 173.3,586.9 171.4,582.6z"/>
<path class="m" d="M166.3,581.2 168.2,585.5 173.3,586.9 171.4,582.6z"/>
<path class="k15" d="M166,580.2 166.3,581.2 171.4,582.6 169.8,581.2zM169.8,581.2 171.4,582.6 171.1,581.6z"/>
<path class="k16" d="M165,577 166,580.2 169.8,581.2zM165,577 169.8,581.2 171.1,581.6 170.1,578.4z"/>
<path class="m" d="M165,577 166.3,581.2 171.4,582.6 170.1,578.4z"/>
<path class="k16" d="M164.4,574.8 165,577 170.1,578.4 167.5,575.7zM167.5,575.7 170.1,578.4 169.5,576.2z"/>
<path class="k17" d="M163.7,571.6 164.4,574.8 167.5,575.7zM163.7,571.6 167.5,575.7 169.5,576.2 168.8,573z"/>
<path class="m" d="M163.7,571.6 165,577 170.1,578.4 168.8,573z"/>
<path class="k17" d="M163.3,569.4 163.7,571.6 168.8,573 166.8,570.4zM166.8,570.4 168.8,573 168.4,570.8z"/>
<path class="k18" d="M162.4,564.6 163.3,569.4 166.8,570.4zM162.4,564.6 166.8,570.4 168.4,570.8 167.5,566z"/>
<path class="m" d="M162.4,564.6 163.7,571.6 168.8,573 167.5,566z"/>
<path class="k18" d="M162.4,564 162.4,564.6 167.5,566 167.2,565.3zM167.2,565.3 167.5,566 167.5,565.4z"/>
<path class="k19" d="M161.7,558.6 162.4,564 167.2,565.3 164.2,559.2zM164.2,559.2 167.2,565.3 167.5,565.4 166.8,560z"/>
<path class="k20" d="M161.1,553.1 161.7,558.6 164.2,559.2zM161.1,553.1 164.2,559.2 166.8,560 166.2,554.5z"/>
<path class="m" d="M161.1,553.1 162.4,564.6 167.5,566 166.2,554.5z"/>
<path class="k20" d="M161.1,553.1 161.1,553.1 166.2,554.5 166.2,554.5zM166.2,554.5 166.2,554.5 166.2,554.5z"/>
<path class="k21" d="M160.5,547.6 161.1,553.1 166.2,554.5 164,548.6zM164,548.6 166.2,554.5 166.2,554.5 165.6,549z"/>
<path class="k22" d="M159.9,542.2 160.5,547.6 164,548.6 161.8,542.7zM161.8,542.7 164,548.6 165.6,549 165,543.6z"/>
<path class="k23" d="M159.3,536.7 159.9,542.2 161.8,542.7 159.6,536.8zM159.6,536.8 161.8,542.7 165,543.6 164.4,538.1z"/>
<path class="k24" d="M159.2,535.7 159.3,536.7 159.6,536.8zM159.2,535.7 159.6,536.8 164.4,538.1 164.3,537.1z"/>
<path class="m" d="M159.2,535.7 161.1,553.1 166.2,554.5 164.3,537.1z"/>
<path class="k24" d="M158.7,531.3 159.2,535.7 164.3,537.1 162.8,532.4zM162.8,532.4 164.3,537.1 163.8,532.7z"/>
<path class="k25" d="M158,525.8 158.7,531.3 162.8,532.4 161,526.6zM161,526.6 162.8,532.4 163.8,532.7 163.1,527.2z"/>
<path class="k26" d="M157.4,520.4 158,525.8 161,526.6 159.2,520.9zM159.2,520.9 161,526.6 163.1,527.2 162.5,521.8z"/>
<path class="k27" d="M156.7,514.9 157.4,520.4 159.2,520.9 157.4,515.1zM157.4,515.1 159.2,520.9 162.5,521.8 161.8,516.3z"/>
<path class="k28" d="M156.3,511.6 156.7,514.9 157.4,515.1zM156.3,511.6 157.4,515.1 161.8,516.3 161.5,513z"/>
<path class="m" d="M156.3,511.6 159.2,535.7 164.3,537.1 161.5,513z"/>
<path class="e" d="M156.3,511.6 161.5,513"/>
<path class="k19" d="M343.2,539.6 352.6,539.5 354.8,539.1z"/>
<path class="k20" d="M328.7,539.7 343.2,539.6 354.8,539.1 357.7,538.7zM328.7,539.7 357.7,538.7 333.8,540.2z"/>
<path class="m" d="M328.7,539.7 352.6,539.5 357.7,538.7 333.8,540.2z"/>
<path class="k20" d="M304.8,542.7 328.7,539.7 333.8,540.2 309.9,543.8z"/>
<path class="m" d="M304.8,542.7 328.7,539.7 333.8,540.2 309.9,543.8z"/>
<path class="k19" d="M280.9,547.1 285.3,546.3 285.4,546.6zM280.9,547.1 285.4,546.6 289.7,547.8 286,548.5z"/>
<path class="k20" d="M285.3,546.3 304.8,542.7 309.9,543.8 285.4,546.6zM285.4,546.6 309.9,543.8 289.7,547.8z"/>
<path class="m" d="M280.9,547.1 304.8,542.7 309.9,543.8 286,548.5z"/>
<path class="k19" d="M257,552.5 280.9,547.1 286,548.5 262.1,553.9z"/>
<path class="m" d="M257,552.5 280.9,547.1 286,548.5 262.1,553.9z"/>
<path class="k13" d="M177.7,591.9 177.9,592 183,593.4 182.6,593.2zM182.6,593.2 183,593.4 182.8,593.3z"/>
<path class="k14" d="M175.1,590 177.7,591.9 182.6,593.2zM175.1,590 182.6,593.2 182.8,593.3 180.2,591.4z"/>
<path class="m" d="M175.1,590 177.9,592 183,593.4 180.2,591.4z"/>
<path class="k14" d="M173.3,586.9 175.1,590 180.2,591.4 178.4,588.3z"/>
<path class="m" d="M173.3,586.9 175.1,590 180.2,591.4 178.4,588.3z"/>
<path class="k14" d="M173.3,586.9 173.3,586.9 178.4,588.3 178.4,588.3zM178.4,588.3 178.4,588.3 178.4,588.3z"/>
<path class="k15" d="M171.4,582.6 173.3,586.9 178.4,588.3zM171.4,582.6 178.4,588.3 178.4,588.3 176.5,584z"/>
<path class="m" d="M171.4,582.6 173.3,586.9 178.4,588.3 176.5,584z"/>
<path class="k15" d="M171.1,581.6 171.4,582.6 176.5,584 174.9,582.6zM174.9,582.6 176.5,584 176.2,583z"/>
<path class="k16" d="M170.1,578.4 171.1,581.6 174.9,582.6zM170.1,578.4 174.9,582.6 176.2,583 175.2,579.8z"/>
<path class="m" d="M170.1,578.4 171.4,582.6 176.5,584 175.2,579.8z"/>
<path class="k16" d="M169.5,576.2 170.1,578.4 175.2,579.8 172.6,577.1zM172.6,577.1 175.2,579.8 174.6,577.6z"/>
<path class="k17" d="M168.8,573 169.5,576.2 172.6,577.1zM168.8,573 172.6,577.1 174.6,577.6 173.9,574.4z"/>
<path class="m" d="M168.8,573 170.1,578.4 175.2,579.8 173.9,574.4z"/>
<path class="k17" d="M168.4,570.8 168.8,573 173.9,574.4 171.9,571.8zM171.9,571.8 173.9,574.4 173.5,572.2z"/>
<path class="k18" d="M167.5,566 168.4,570.8 171.9,571.8zM167.5,566 171.9,571.8 173.5,572.2 172.7,567.4z"/>
<path class="m" d="M167.5,566 168.8,573 173.9,574.4 172.7,567.4z"/>
<path class="k18" d="M167.5,565.4 167.5,566 172.7,567.4 172.3,566.7zM172.3,566.7 172.7,567.4 172.6,566.8z"/>
<path class="k19" d="M166.8,560 167.5,565.4 172.3,566.7 169.3,560.6zM169.3,560.6 172.3,566.7 172.6,566.8 172,561.4z"/>
<path class="k20" d="M166.2,554.5 166.8,560 169.3,560.6zM166.2,554.5 169.3,560.6 172,561.4 171.3,555.9z"/>
<path class="m" d="M166.2,554.5 167.5,566 172.7,567.4 171.3,555.9z"/>
<path class="k20" d="M166.2,554.5 166.2,554.5 171.3,555.9 171.3,555.9zM171.3,555.9 171.3,555.9 171.3,555.9z"/>
<path class="k21" d="M165.6,549 166.2,554.5 171.3,555.9 169.1,550zM169.1,550 171.3,555.9 171.3,555.9 170.7,550.4z"/>
<path class="k22" d="M165,543.6 165.6,549 169.1,550 166.9,544.1zM166.9,544.1 169.1,550 170.7,550.4 170.1,545z"/>
<path class="k23" d="M164.4,538.1 165,543.6 166.9,544.1 164.7,538.2zM164.7,538.2 166.9,544.1 170.1,545 169.5,539.5z"/>
<path class="k24" d="M164.3,537.1 164.4,538.1 164.7,538.2zM164.3,537.1 164.7,538.2 169.5,539.5 169.4,538.5z"/>
<path class="m" d="M164.3,537.1 166.2,554.5 171.3,555.9 169.4,538.5z"/>
<path class="k24" d="M163.8,532.7 164.3,537.1 169.4,538.5 168,533.8zM168,533.8 169.4,538.5 168.9,534.1z"/>
<path class="k25" d="M163.1,527.2 163.8,532.7 168,533.8 166.1,528zM166.1,528 168,533.8 168.9,534.1 168.2,528.6z"/>
<path class="k26" d="M162.5,521.8 163.1,527.2 166.1,528 164.3,522.3zM164.3,522.3 166.1,528 168.2,528.6 167.6,523.2z"/>
<path class="k27" d="M161.8,516.3 162.5,521.8 164.3,522.3 162.5,516.5zM162.5,516.5 164.3,522.3 167.6,523.2 167,517.7z"/>
<path class="k28" d="M161.5,513 161.8,516.3 162.5,516.5zM161.5,513 162.5,516.5 167,517.7 166.6,514.4z"/>
<path class="m" d="M161.5,513 164.3,537.1 169.4,538.5 166.6,514.4z"/>
<path class="e" d="M161.5,513 166.6,514.4"/>
<path class="k20" d="M333.8,540.2 357.7,538.7 362.8,538.4 338.9,541z"/>
<path class="m" d="M333.8,540.2 357.7,538.7 362.8,538.4 338.9,541z"/>
<path class="k20" d="M309.9,543.8 333.8,540.2 338.9,541 315,545z"/>
<path class="m" d="M309.9,543.8 333.8,540.2 338.9,541 315,545z"/>
<path class="k19" d="M286,548.5 289.7,547.8 290.1,548zM286,548.5 290.1,548 294.5,549.2 291.1,549.9z"/>
<path class="k20" d="M289.7,547.8 309.9,543.8 315,545 290.1,548zM290.1,548 315,545 294.5,549.2z"/>
<path class="m" d="M286,548.5 309.9,543.8 315,545 291.1,549.9z"/>
<path class="k19" d="M262.1,553.9 286,548.5 291.1,549.9 267.2,555.3z"/>
<path class="m" d="M262.1,553.9 286,548.5 291.1,549.9 267.2,555.3z"/>
<path class="k18" d="M238.2,560.7 246.7,558.3 248.5,558.7zM238.2,560.7 248.5,558.7 251.8,559.7 243.3,562.1z"/>
<path class="k19" d="M246.7,558.3 262.1,553.9 267.2,555.3 248.5,558.7zM248.5,558.7 267.2,555.3 251.8,559.7z"/>
<path class="m" d="M238.2,560.7 262.1,553.9 267.2,555.3 243.3,562.1z"/>
<path class="k13" d="M182.8,593.3 183,593.4 188.1,594.8 187.7,594.6zM187.7,594.6 188.1,594.8 188,594.7z"/>
<path class="k14" d="M180.2,591.4 182.8,593.3 187.7,594.6zM180.2,591.4 187.7,594.6 188,594.7 185.3,592.8z"/>
<path class="m" d="M180.2,591.4 183,593.4 188.1,594.8 185.3,592.8z"/>
<path class="k14" d="M178.4,588.3 180.2,591.4 185.3,592.8 183.5,589.7z"/>
<path class="m" d="M178.4,588.3 180.2,591.4 185.3,592.8 183.5,589.7z"/>
<path class="k14" d="M178.4,588.3 178.4,588.3 183.5,589.7 183.5,589.7zM183.5,589.7 183.5,589.7 183.5,589.7z"/>
<path class="k15" d="M176.5,584 178.4,588.3 183.5,589.7zM176.5,584 183.5,589.7 183.5,589.7 181.7,585.4z"/>
<path class="m" d="M176.5,584 178.4,588.3 183.5,589.7 181.7,585.4z"/>
<path class="k15" d="M176.2,583 176.5,584 181.7,585.4 180.1,584zM180.1,584 181.7,585.4 181.3,584.4z"/>
<path class="k16" d="M175.2,579.8 176.2,583 180.1,584zM175.2,579.8 180.1,584 181.3,584.4 180.3,581.2z"/>
<path class="m" d="M175.2,579.8 176.5,584 181.7,585.4 180.3,581.2z"/>
<path class="k16" d="M174.6,577.6 175.2,579.8 180.3,581.2 177.7,578.5zM177.7,578.5 180.3,581.2 179.8,579z"/>
<path class="k17" d="M173.9,574.4 174.6,577.6 177.7,578.5zM173.9,574.4 177.7,578.5 179.8,579 179,575.8z"/>
<path class="m" d="M173.9,574.4 175.2,579.8 180.3,581.2 179,575.8z"/>
<path class="k17" d="M173.5,572.2 173.9,574.4 179,575.8 177,573.2zM177,573.2 179,575.8 178.6,573.6z"/>
<path class="k18" d="M172.7,567.4 173.5,572.2 177,573.2zM172.7,567.4 177,573.2 178.6,573.6 177.8,568.8z"/>
<path class="m" d="M172.7,567.4 173.9,574.4 179,575.8 177.8,568.8z"/>
<path class="k18" d="M172.6,566.8 172.7,567.4 177.8,568.8 177.4,568.1zM177.4,568.1 177.8,568.8 177.7,568.2z"/>
<path class="k19" d="M172,561.4 172.6,566.8 177.4,568.1 174.4,562zM174.4,562 177.4,568.1 177.7,568.2 177.1,562.8z"/>
<path class="k20" d="M171.3,555.9 172,561.4 174.4,562zM171.3,555.9 174.4,562 177.1,562.8 176.4,557.3z"/>
<path class="m" d="M171.3,555.9 172.7,567.4 177.8,568.8 176.4,557.3z"/>
<path class="k20" d="M171.3,555.9 171.3,555.9 176.4,557.3 176.4,557.3zM176.4,557.3 176.4,557.3 176.4,557.3z"/>
<path class="k21" d="M170.7,550.4 171.3,555.9 176.4,557.3 174.2,551.4zM174.2,551.4 176.4,557.3 176.4,557.3 175.8,551.8z"/>
<path class="k22" d="M170.1,545 170.7,550.4 174.2,551.4 172,545.5zM172,545.5 174.2,551.4 175.8,551.8 175.2,546.4z"/>
<path class="k23" d="M169.5,539.5 170.1,545 172,545.5 169.8,539.6zM169.8,539.6 172,545.5 175.2,546.4 174.6,540.9z"/>
<path class="k24" d="M169.4,538.5 169.5,539.5 169.8,539.6zM169.4,538.5 169.8,539.6 174.6,540.9 174.5,539.9z"/>
<path class="m" d="M169.4,538.5 171.3,555.9 176.4,557.3 174.5,539.9z"/>
<path class="k24" d="M168.9,534.1 169.4,538.5 174.5,539.9 173.1,535.2zM173.1,535.2 174.5,539.9 174,535.5z"/>
<path class="k25" d="M168.2,528.6 168.9,534.1 173.1,535.2 171.3,529.4zM171.3,529.4 173.1,535.2 174,535.5 173.3,530z"/>
<path class="k26" d="M167.6,523.2 168.2,528.6 171.3,529.4 169.5,523.7zM169.5,523.7 171.3,529.4 173.3,530 172.7,524.6z"/>
<path class="k27" d="M167,517.7 167.6,523.2 169.5,523.7 167.6,517.9zM167.6,517.9 169.5,523.7 172.7,524.6 172.1,519.1z"/>
<path class="k28" d="M166.6,514.4 167,517.7 167.6,517.9zM166.6,514.4 167.6,517.9 172.1,519.1 171.7,515.8z"/>
<path class="m" d="M166.6,514.4 169.4,538.5 174.5,539.9 171.7,515.8z"/>
<path class="e" d="M166.6,514.4 171.7,515.8"/>
<path class="k19" d="M384.2,538.8 386.7,538.9 387.5,538.8z"/>
<path class="k20" d="M362.8,538.4 384.2,538.8 387.5,538.8 391.8,538.3zM362.8,538.4 391.8,538.3 367.9,538.8z"/>
<path class="m" d="M362.8,538.4 386.7,538.9 391.8,538.3 367.9,538.8z"/>
<path class="k20" d="M338.9,541 362.8,538.4 367.9,538.8 344,542.1z"/>
<path class="m" d="M338.9,541 362.8,538.4 367.9,538.8 344,542.1z"/>
<path class="k20" d="M315,545 338.9,541 344,542.1 320.1,546.4z"/>
<path class="m" d="M315,545 338.9,541 344,542.1 320.1,546.4z"/>
<path class="k19" d="M291.1,549.9 294.5,549.2 295.1,549.4zM291.1,549.9 295.1,549.4 299.5,550.6 296.2,551.3z"/>
<path class="k20" d="M294.5,549.2 315,545 320.1,546.4 295.1,549.4zM295.1,549.4 320.1,546.4 299.5,550.6z"/>
<path class="m" d="M291.1,549.9 315,545 320.1,546.4 296.2,551.3z"/>
<path class="k19" d="M267.2,555.3 291.1,549.9 296.2,551.3 272.3,556.7z"/>
<path class="m" d="M267.2,555.3 291.1,549.9 296.2,551.3 272.3,556.7z"/>
<path class="k18" d="M243.3,562.1 251.8,559.7 253.6,560.1zM243.3,562.1 253.6,560.1 256.9,561.1 248.4,563.5z"/>
<path class="k19" d="M251.8,559.7 267.2,555.3 272.3,556.7 253.6,560.1zM253.6,560.1 272.3,556.7 256.9,561.1z"/>
<path class="m" d="M243.3,562.1 267.2,555.3 272.3,556.7 248.4,563.5z"/>
<path class="k13" d="M188,594.7 188.1,594.8 193.2,596.2 192.8,596zM192.8,596 193.2,596.2 193.1,596.1z"/>
<path class="k14" d="M185.3,592.8 188,594.7 192.8,596zM185.3,592.8 192.8,596 193.1,596.1 190.4,594.2z"/>
<path class="m" d="M185.3,592.8 188.1,594.8 193.2,596.2 190.4,594.2z"/>
<path class="k14" d="M183.5,589.7 185.3,592.8 190.4,594.2 188.6,591.1z"/>
<path class="m" d="M183.5,589.7 185.3,592.8 190.4,594.2 188.6,591.1z"/>
<path class="k14" d="M183.5,589.7 183.5,589.7 188.6,591.1 188.6,591.1zM188.6,591.1 188.6,591.1 188.6,591.1z"/>
<path class="k15" d="M181.7,585.4 183.5,589.7 188.6,591.1zM181.7,585.4 188.6,591.1 188.6,591.1 186.8,586.8z"/>
<path class="m" d="M181.7,585.4 183.5,589.7 188.6,591.1 186.8,586.8z"/>
<path class="k15" d="M181.3,584.4 181.7,585.4 186.8,586.8 185.2,585.4zM185.2,585.4 186.8,586.8 186.4,585.8z"/>
<path class="k16" d="M180.3,581.2 181.3,584.4 185.2,585.4zM180.3,581.2 185.2,585.4 186.4,585.8 185.4,582.6z"/>
<path class="m" d="M180.3,581.2 181.7,585.4 186.8,586.8 185.4,582.6z"/>
<path class="k16" d="M179.8,579 180.3,581.2 185.4,582.6 182.8,579.9zM182.8,579.9 185.4,582.6 184.9,580.4z"/>
<path class="k17" d="M179,575.8 179.8,579 182.8,579.9zM179,575.8 182.8,579.9 184.9,580.4 184.1,577.2z"/>
<path class="m" d="M179,575.8 180.3,581.2 185.4,582.6 184.1,577.2z"/>
<path class="k17" d="M178.6,573.6 179,575.8 184.1,577.2 182.1,574.6zM182.1,574.6 184.1,577.2 183.7,575z"/>
<path class="k18" d="M177.8,568.8 178.6,573.6 182.1,574.6zM177.8,568.8 182.1,574.6 183.7,575 182.9,570.2z"/>
<path class="m" d="M177.8,568.8 179,575.8 184.1,577.2 182.9,570.2z"/>
<path class="k18" d="M177.7,568.2 177.8,568.8 182.9,570.2 182.5,569.5zM182.5,569.5 182.9,570.2 182.8,569.6z"/>
<path class="k19" d="M177.1,562.8 177.7,568.2 182.5,569.5 179.5,563.4zM179.5,563.4 182.5,569.5 182.8,569.6 182.2,564.2z"/>
<path class="k20" d="M176.4,557.3 177.1,562.8 179.5,563.4zM176.4,557.3 179.5,563.4 182.2,564.2 181.5,558.7z"/>
<path class="m" d="M176.4,557.3 177.8,568.8 182.9,570.2 181.5,558.7z"/>
<path class="k20" d="M176.4,557.3 176.4,557.3 181.5,558.7 181.5,558.7zM181.5,558.7 181.5,558.7 181.5,558.7z"/>
<path class="k21" d="M175.8,551.8 176.4,557.3 181.5,558.7 179.3,552.8zM179.3,552.8 181.5,558.7 181.5,558.7 180.9,553.2z"/>
<path class="k22" d="M175.2,546.4 175.8,551.8 179.3,552.8 177.1,546.9zM177.1,546.9 179.3,552.8 180.9,553.2 180.3,547.8z"/>
<path class="k23" d="M174.6,540.9 175.2,546.4 177.1,546.9 174.9,541zM174.9,541 177.1,546.9 180.3,547.8 179.7,542.3z"/>
<path class="k24" d="M174.5,539.9 174.6,540.9 174.9,541zM174.5,539.9 174.9,541 179.7,542.3 179.6,541.3z"/>
<path class="m" d="M174.5,539.9 176.4,557.3 181.5,558.7 179.6,541.3z"/>
<path class="k24" d="M174,535.5 174.5,539.9 179.6,541.3 178.2,536.6zM178.2,536.6 179.6,541.3 179.1,536.9z"/>
<path class="k25" d="M173.3,530 174,535.5 178.2,536.6 176.4,530.8zM176.4,530.8 178.2,536.6 179.1,536.9 178.5,531.4z"/>
<path class="k26" d="M172.7,524.6 173.3,530 176.4,530.8 174.6,525.1zM174.6,525.1 176.4,530.8 178.5,531.4 177.8,526z"/>
<path class="k27" d="M172.1,519.1 172.7,524.6 174.6,525.1 172.8,519.3zM172.8,519.3 174.6,525.1 177.8,526 177.2,520.5z"/>
<path class="k28" d="M171.7,515.8 172.1,519.1 172.8,519.3zM171.7,515.8 172.8,519.3 177.2,520.5 176.8,517.2z"/>
<path class="m" d="M171.7,515.8 174.5,539.9 179.6,541.3 176.8,517.2z"/>
<path class="e" d="M171.7,515.8 176.8,517.2"/>
<path class="k20" d="M367.9,538.8 391.8,538.3 396.9,538.1 373,539.5z"/>
<path class="m" d="M367.9,538.8 391.8,538.3 396.9,538.1 373,539.5z"/>
<path class="k20" d="M344,542.1 367.9,538.8 373,539.5 349.1,543.2z"/>
<path class="m" d="M344,542.1 367.9,538.8 373,539.5 349.1,543.2z"/>
<path class="k20" d="M320.1,546.4 344,542.1 349.1,543.2 325.2,547.8z"/>
<path class="m" d="M320.1,546.4 344,542.1 349.1,543.2 325.2,547.8z"/>
<path class="k19" d="M296.2,551.3 299.5,550.6 300.2,550.8zM296.2,551.3 300.2,550.8 304.6,552 301.3,552.7z"/>
<path class="k20" d="M299.5,550.6 320.1,546.4 325.2,547.8 300.2,550.8zM300.2,550.8 325.2,547.8 304.6,552z"/>
<path class="m" d="M296.2,551.3 320.1,546.4 325.2,547.8 301.3,552.7z"/>
<path class="k19" d="M272.3,556.7 296.2,551.3 301.3,552.7 277.4,558.1z"/>
<path class="m" d="M272.3,556.7 296.2,551.3 301.3,552.7 277.4,558.1z"/>
<path class="k18" d="M248.4,563.5 256.9,561.1 258.7,561.5zM248.4,563.5 258.7,561.5 262,562.5 253.6,564.9z"/>
<path class="k19" d="M256.9,561.1 272.3,556.7 277.4,558.1 258.7,561.5zM258.7,561.5 277.4,558.1 262,562.5z"/>
<path class="m" d="M248.4,563.5 272.3,556.7 277.4,558.1 253.6,564.9z"/>
<path class="k13" d="M193.1,596.1 193.2,596.2 198.3,597.6 197.9,597.4zM197.9,597.4 198.3,597.6 198.2,597.5z"/>
<path class="k14" d="M190.4,594.2 193.1,596.1 197.9,597.4zM190.4,594.2 197.9,597.4 198.2,597.5 195.5,595.6z"/>
<path class="m" d="M190.4,594.2 193.2,596.2 198.3,597.6 195.5,595.6z"/>
<path class="k14" d="M188.6,591.1 190.4,594.2 195.5,595.6 193.7,592.5z"/>
<path class="m" d="M188.6,591.1 190.4,594.2 195.5,595.6 193.7,592.5z"/>
<path class="k14" d="M188.6,591.1 188.6,591.1 193.7,592.5 193.7,592.5zM193.7,592.5 193.7,592.5 193.7,592.5z"/>
<path class="k15" d="M186.8,586.8 188.6,591.1 193.7,592.5zM186.8,586.8 193.7,592.5 193.7,592.5 191.9,588.2z"/>
<path class="m" d="M186.8,586.8 188.6,591.1 193.7,592.5 191.9,588.2z"/>
<path class="k15" d="M186.4,585.8 186.8,586.8 191.9,588.2 190.3,586.8zM190.3,586.8 191.9,588.2 191.5,587.2z"/>
<path class="k16" d="M185.4,582.6 186.4,585.8 190.3,586.8zM185.4,582.6 190.3,586.8 191.5,587.2 190.5,584z"/>
<path class="m" d="M185.4,582.6 186.8,586.8 191.9,588.2 190.5,584z"/>
<path class="k16" d="M184.9,580.4 185.4,582.6 190.5,584 187.9,581.3zM187.9,581.3 190.5,584 190,581.8z"/>
<path class="k17" d="M184.1,577.2 184.9,580.4 187.9,581.3zM184.1,577.2 187.9,581.3 190,581.8 189.2,578.6z"/>
<path class="m" d="M184.1,577.2 185.4,582.6 190.5,584 189.2,578.6z"/>
<path class="k17" d="M183.7,575 184.1,577.2 189.2,578.6 187.3,576zM187.3,576 189.2,578.6 188.8,576.4z"/>
<path class="k18" d="M182.9,570.2 183.7,575 187.3,576zM182.9,570.2 187.3,576 188.8,576.4 188,571.6z"/>
<path class="m" d="M182.9,570.2 184.1,577.2 189.2,578.6 188,571.6z"/>
<path class="k18" d="M182.8,569.6 182.9,570.2 188,571.6 187.7,570.9zM187.7,570.9 188,571.6 187.9,571z"/>
<path class="k19" d="M182.2,564.2 182.8,569.6 187.7,570.9 184.6,564.8zM184.6,564.8 187.7,570.9 187.9,571 187.3,565.6z"/>
<path class="k20" d="M181.5,558.7 182.2,564.2 184.6,564.8zM181.5,558.7 184.6,564.8 187.3,565.6 186.6,560.1z"/>
<path class="m" d="M181.5,558.7 182.9,570.2 188,571.6 186.6,560.1z"/>
<path class="k20" d="M181.5,558.7 181.5,558.7 186.6,560.1 186.6,560.1zM186.6,560.1 186.6,560.1 186.6,560.1z"/>
<path class="k21" d="M180.9,553.2 181.5,558.7 186.6,560.1 184.4,554.2zM184.4,554.2 186.6,560.1 186.6,560.1 186,554.6z"/>
<path class="k22" d="M180.3,547.8 180.9,553.2 184.4,554.2 182.2,548.3zM182.2,548.3 184.4,554.2 186,554.6 185.4,549.2z"/>
<path class="k23" d="M179.7,542.3 180.3,547.8 182.2,548.3 180,542.4zM180,542.4 182.2,548.3 185.4,549.2 184.8,543.7z"/>
<path class="k24" d="M179.6,541.3 179.7,542.3 180,542.4zM179.6,541.3 180,542.4 184.8,543.7 184.7,542.7z"/>
<path class="m" d="M179.6,541.3 181.5,558.7 186.6,560.1 184.7,542.7z"/>
<path class="k24" d="M179.1,536.9 179.6,541.3 184.7,542.7 183.3,538zM183.3,538 184.7,542.7 184.2,538.3z"/>
<path class="k25" d="M178.5,531.4 179.1,536.9 183.3,538 181.5,532.2zM181.5,532.2 183.3,538 184.2,538.3 183.6,532.8z"/>
<path class="k26" d="M177.8,526 178.5,531.4 181.5,532.2 179.7,526.5zM179.7,526.5 181.5,532.2 183.6,532.8 182.9,527.4z"/>
<path class="k27" d="M177.2,520.5 177.8,526 179.7,526.5 177.9,520.7zM177.9,520.7 179.7,526.5 182.9,527.4 182.3,521.9z"/>
<path class="k28" d="M176.8,517.2 177.2,520.5 177.9,520.7zM176.8,517.2 177.9,520.7 182.3,521.9 181.9,518.6z"/>
<path class="m" d="M176.8,517.2 179.6,541.3 184.7,542.7 181.9,518.6z"/>
<path class="e" d="M176.8,517.2 181.9,518.6"/>
<path class="k20" d="M373,539.5 396.9,538.1 402,538.4 378.1,540.4z"/>
<path class="m" d="M373,539.5 396.9,538.1 402,538.4 378.1,540.4z"/>
<path class="k20" d="M349.1,543.2 373,539.5 378.1,540.4 354.2,544.5z"/>
<path class="m" d="M349.1,543.2 373,539.5 378.1,540.4 354.2,544.5z"/>
<path class="k20" d="M325.2,547.8 349.1,543.2 354.2,544.5 330.3,549.2z"/>
<path class="m" d="M325.2,547.8 349.1,543.2 354.2,544.5 330.3,549.2z"/>
<path class="k19" d="M301.3,552.7 304.6,552 305.3,552.2zM301.3,552.7 305.3,552.2 309.7,553.4 306.4,554.1z"/>
<path class="k20" d="M304.6,552 325.2,547.8 330.3,549.2 305.3,552.2zM305.3,552.2 330.3,549.2 309.7,553.4z"/>
<path class="m" d="M301.3,552.7 325.2,547.8 330.3,549.2 306.4,554.1z"/>
<path class="k19" d="M277.4,558.1 301.3,552.7 306.4,554.1 282.6,559.5z"/>
<path class="m" d="M277.4,558.1 301.3,552.7 306.4,554.1 282.6,559.5z"/>
<path class="k18" d="M253.6,564.9 262,562.5 263.8,562.9zM253.6,564.9 263.8,562.9 267.1,563.9 258.7,566.3z"/>
<path class="k19" d="M262,562.5 277.4,558.1 282.6,559.5 263.8,562.9zM263.8,562.9 282.6,559.5 267.1,563.9z"/>
<path class="m" d="M253.6,564.9 277.4,558.1 282.6,559.5 258.7,566.3z"/>
<path class="k13" d="M198.2,597.5 198.3,597.6 203.4,599 203,598.8zM203,598.8 203.4,599 203.3,598.9z"/>
<path class="k14" d="M195.5,595.6 198.2,597.5 203,598.8zM195.5,595.6 203,598.8 203.3,598.9 200.6,597z"/>
<path class="m" d="M195.5,595.6 198.3,597.6 203.4,599 200.6,597z"/>
<path class="k14" d="M193.7,592.5 195.5,595.6 200.6,597 198.8,593.9z"/>
<path class="m" d="M193.7,592.5 195.5,595.6 200.6,597 198.8,593.9z"/>
<path class="k14" d="M193.7,592.5 193.7,592.5 198.8,593.9 198.8,593.9zM198.8,593.9 198.8,593.9 198.8,593.9z"/>
<path class="k15" d="M191.9,588.2 193.7,592.5 198.8,593.9zM191.9,588.2 198.8,593.9 198.8,593.9 197,589.6z"/>
<path class="m" d="M191.9,588.2 193.7,592.5 198.8,593.9 197,589.6z"/>
<path class="k15" d="M191.5,587.2 191.9,588.2 197,589.6 195.4,588.2zM195.4,588.2 197,589.6 196.6,588.6z"/>
<path class="k16" d="M190.5,584 191.5,587.2 195.4,588.2zM190.5,584 195.4,588.2 196.6,588.6 195.6,585.4z"/>
<path class="m" d="M190.5,584 191.9,588.2 197,589.6 195.6,585.4z"/>
<path class="k16" d="M190,581.8 190.5,584 195.6,585.4 193,582.7zM193,582.7 195.6,585.4 195.1,583.2z"/>
<path class="k17" d="M189.2,578.6 190,581.8 193,582.7zM189.2,578.6 193,582.7 195.1,583.2 194.3,580z"/>
<path class="m" d="M189.2,578.6 190.5,584 195.6,585.4 194.3,580z"/>
<path class="k17" d="M188.8,576.4 189.2,578.6 194.3,580 192.4,577.4zM192.4,577.4 194.3,580 193.9,577.8z"/>
<path class="k18" d="M188,571.6 188.8,576.4 192.4,577.4zM188,571.6 192.4,577.4 193.9,577.8 193.1,573z"/>
<path class="m" d="M188,571.6 189.2,578.6 194.3,580 193.1,573z"/>
<path class="k18" d="M187.9,571 188,571.6 193.1,573 192.8,572.3zM192.8,572.3 193.1,573 193,572.4z"/>
<path class="k19" d="M187.3,565.6 187.9,571 192.8,572.3 189.7,566.2zM189.7,566.2 192.8,572.3 193,572.4 192.4,567z"/>
<path class="k20" d="M186.6,560.1 187.3,565.6 189.7,566.2zM186.6,560.1 189.7,566.2 192.4,567 191.7,561.5z"/>
<path class="m" d="M186.6,560.1 188,571.6 193.1,573 191.7,561.5z"/>
<path class="k20" d="M186.6,560.1 186.6,560.1 191.7,561.5 191.7,561.5zM191.7,561.5 191.7,561.5 191.7,561.5z"/>
<path class="k21" d="M186,554.6 186.6,560.1 191.7,561.5 189.5,555.6zM189.5,555.6 191.7,561.5 191.7,561.5 191.1,556z"/>
<path class="k22" d="M185.4,549.2 186,554.6 189.5,555.6 187.4,549.7zM187.4,549.7 189.5,555.6 191.1,556 190.5,550.6z"/>
<path class="k23" d="M184.8,543.7 185.4,549.2 187.4,549.7 185.2,543.8zM185.2,543.8 187.4,549.7 190.5,550.6 189.9,545.1z"/>
<path class="k24" d="M184.7,542.7 184.8,543.7 185.2,543.8zM184.7,542.7 185.2,543.8 189.9,545.1 189.8,544.1z"/>
<path class="m" d="M184.7,542.7 186.6,560.1 191.7,561.5 189.8,544.1z"/>
<path class="k24" d="M184.2,538.3 184.7,542.7 189.8,544.1 188.4,539.4zM188.4,539.4 189.8,544.1 189.3,539.7z"/>
<path class="k25" d="M183.6,532.8 184.2,538.3 188.4,539.4 186.6,533.6zM186.6,533.6 188.4,539.4 189.3,539.7 188.7,534.2z"/>
<path class="k26" d="M182.9,527.4 183.6,532.8 186.6,533.6 184.8,527.9zM184.8,527.9 186.6,533.6 188.7,534.2 188,528.8z"/>
<path class="k27" d="M182.3,521.9 182.9,527.4 184.8,527.9 183,522.1zM183,522.1 184.8,527.9 188,528.8 187.4,523.3z"/>
<path class="k28" d="M181.9,518.6 182.3,521.9 183,522.1zM181.9,518.6 183,522.1 187.4,523.3 187,520z"/>
<path class="m" d="M181.9,518.6 184.7,542.7 189.8,544.1 187,520z"/>
<path class="e" d="M181.9,518.6 187,520"/>
<path class="k20" d="M378.1,540.4 402,538.4 407.1,539 383.2,541.5z"/>
<path class="m" d="M378.1,540.4 402,538.4 407.1,539 383.2,541.5z"/>
<path class="k20" d="M354.2,544.5 378.1,540.4 383.2,541.5 359.3,545.8z"/>
<path class="m" d="M354.2,544.5 378.1,540.4 383.2,541.5 359.3,545.8z"/>
<path class="k20" d="M330.3,549.2 354.2,544.5 359.3,545.8 335.4,550.6z"/>
<path class="m" d="M330.3,549.2 354.2,544.5 359.3,545.8 335.4,550.6z"/>
<path class="k19" d="M306.4,554.1 309.7,553.4 310.4,553.6zM306.4,554.1 310.4,553.6 314.8,554.8 311.5,555.5z"/>
<path class="k20" d="M309.7,553.4 330.3,549.2 335.4,550.6 310.4,553.6zM310.4,553.6 335.4,550.6 314.8,554.8z"/>
<path class="m" d="M306.4,554.1 330.3,549.2 335.4,550.6 311.5,555.5z"/>
<path class="k19" d="M282.6,559.5 306.4,554.1 311.5,555.5 287.7,560.9z"/>
<path class="m" d="M282.6,559.5 306.4,554.1 311.5,555.5 287.7,560.9z"/>
<path class="k18" d="M258.7,566.3 267.1,563.9 269,564.3zM258.7,566.3 269,564.3 272.2,565.3 263.8,567.7z"/>
<path class="k19" d="M267.1,563.9 282.6,559.5 287.7,560.9 269,564.3zM269,564.3 287.7,560.9 272.2,565.3z"/>
<path class="m" d="M258.7,566.3 282.6,559.5 287.7,560.9 263.8,567.7z"/>
<path class="k13" d="M203.3,598.9 203.4,599 208.5,600.4 208.1,600.2zM208.1,600.2 208.5,600.4 208.4,600.3z"/>
<path class="k14" d="M200.6,597 203.3,598.9 208.1,600.2zM200.6,597 208.1,600.2 208.4,600.3 205.7,598.4z"/>
<path class="m" d="M200.6,597 203.4,599 208.5,600.4 205.7,598.4z"/>
<path class="k14" d="M198.8,593.9 200.6,597 205.7,598.4 203.9,595.3z"/>
<path class="m" d="M198.8,593.9 200.6,597 205.7,598.4 203.9,595.3z"/>
<path class="k14" d="M198.8,593.9 198.8,593.9 203.9,595.3 203.9,595.3zM203.9,595.3 203.9,595.3 203.9,595.3z"/>
<path class="k15" d="M197,589.6 198.8,593.9 203.9,595.3zM197,589.6 203.9,595.3 203.9,595.3 202.1,591z"/>
<path class="m" d="M197,589.6 198.8,593.9 203.9,595.3 202.1,591z"/>
<path class="k15" d="M196.6,588.6 197,589.6 202.1,591 200.5,589.6zM200.5,589.6 202.1,591 201.7,590z"/>
<path class="k16" d="M195.6,585.4 196.6,588.6 200.5,589.6zM195.6,585.4 200.5,589.6 201.7,590 200.7,586.8z"/>
<path class="m" d="M195.6,585.4 197,589.6 202.1,591 200.7,586.8z"/>
<path class="k16" d="M195.1,583.2 195.6,585.4 200.7,586.8 198.1,584.1zM198.1,584.1 200.7,586.8 200.2,584.6z"/>
<path class="k17" d="M194.3,580 195.1,583.2 198.1,584.1zM194.3,580 198.1,584.1 200.2,584.6 199.4,581.4z"/>
<path class="m" d="M194.3,580 195.6,585.4 200.7,586.8 199.4,581.4z"/>
<path class="k17" d="M193.9,577.8 194.3,580 199.4,581.4 197.5,578.8zM197.5,578.8 199.4,581.4 199,579.2z"/>
<path class="k18" d="M193.1,573 193.9,577.8 197.5,578.8zM193.1,573 197.5,578.8 199,579.2 198.2,574.4z"/>
<path class="m" d="M193.1,573 194.3,580 199.4,581.4 198.2,574.4z"/>
<path class="k18" d="M193,572.4 193.1,573 198.2,574.4 197.9,573.7zM197.9,573.7 198.2,574.4 198.1,573.8z"/>
<path class="k19" d="M192.4,567 193,572.4 197.9,573.7 194.8,567.6zM194.8,567.6 197.9,573.7 198.1,573.8 197.5,568.4z"/>
<path class="k20" d="M191.7,561.5 192.4,567 194.8,567.6zM191.7,561.5 194.8,567.6 197.5,568.4 196.9,562.9z"/>
<path class="m" d="M191.7,561.5 193.1,573 198.2,574.4 196.9,562.9z"/>
<path class="k20" d="M191.7,561.5 191.7,561.5 196.9,562.9 196.8,562.9zM196.8,562.9 196.9,562.9 196.9,562.9z"/>
<path class="k21" d="M191.1,556 191.7,561.5 196.8,562.9 194.7,557zM194.7,557 196.8,562.9 196.9,562.9 196.3,557.4z"/>
<path class="k22" d="M190.5,550.6 191.1,556 194.7,557 192.5,551.1zM192.5,551.1 194.7,557 196.3,557.4 195.7,552z"/>
<path class="k23" d="M189.9,545.1 190.5,550.6 192.5,551.1 190.3,545.2zM190.3,545.2 192.5,551.1 195.7,552 195.1,546.5z"/>
<path class="k24" d="M189.8,544.1 189.9,545.1 190.3,545.2zM189.8,544.1 190.3,545.2 195.1,546.5 194.9,545.5z"/>
<path class="m" d="M189.8,544.1 191.7,561.5 196.9,562.9 194.9,545.5z"/>
<path class="k24" d="M189.3,539.7 189.8,544.1 194.9,545.5 193.5,540.8zM193.5,540.8 194.9,545.5 194.4,541.1z"/>
<path class="k25" d="M188.7,534.2 189.3,539.7 193.5,540.8 191.7,535zM191.7,535 193.5,540.8 194.4,541.1 193.8,535.6z"/>
<path class="k26" d="M188,528.8 188.7,534.2 191.7,535 189.9,529.3zM189.9,529.3 191.7,535 193.8,535.6 193.1,530.2z"/>
<path class="k27" d="M187.4,523.3 188,528.8 189.9,529.3 188.1,523.5zM188.1,523.5 189.9,529.3 193.1,530.2 192.5,524.7z"/>
<path class="k28" d="M187,520 187.4,523.3 188.1,523.5zM187,520 188.1,523.5 192.5,524.7 192.1,521.4z"/>
<path class="m" d="M187,520 189.8,544.1 194.9,545.5 192.1,521.4z"/>
<path class="e" d="M187,520 192.1,521.4"/>
<path class="k20" d="M383.2,541.5 407.1,539 411,539.7 398.6,540.6zM383.2,541.5 398.6,540.6 387,542.4z"/>
<path class="k21" d="M411,539.7 412.2,539.9 398.6,540.6zM398.6,540.6 412.2,539.9 388.3,542.7 387,542.4z"/>
<path class="m" d="M383.2,541.5 407.1,539 412.2,539.9 388.3,542.7z"/>
<path class="k20" d="M359.3,545.8 383.2,541.5 387,542.4 387.4,542.8zM359.3,545.8 387.4,542.8 387.6,542.9 364.4,547.2z"/>
<path class="k21" d="M387,542.4 388.3,542.7 387.4,542.8zM387.4,542.8 388.3,542.7 387.6,542.9z"/>
<path class="m" d="M359.3,545.8 383.2,541.5 388.3,542.7 364.4,547.2z"/>
<path class="k20" d="M335.4,550.6 359.3,545.8 364.4,547.2 340.5,552z"/>
<path class="m" d="M335.4,550.6 359.3,545.8 364.4,547.2 340.5,552z"/>
<path class="k19" d="M311.5,555.5 314.8,554.8 315.5,555zM311.5,555.5 315.5,555 319.9,556.2 316.7,556.9z"/>
<path class="k20" d="M314.8,554.8 335.4,550.6 340.5,552 315.5,555zM315.5,555 340.5,552 319.9,556.2z"/>
<path class="m" d="M311.5,555.5 335.4,550.6 340.5,552 316.7,556.9z"/>
<path class="k19" d="M287.7,560.9 311.5,555.5 316.7,556.9 292.8,562.3z"/>
<path class="m" d="M287.7,560.9 311.5,555.5 316.7,556.9 292.8,562.3z"/>
<path class="k18" d="M263.8,567.7 272.2,565.3 274.1,565.7zM263.8,567.7 274.1,565.7 277.4,566.7 268.9,569.1z"/>
<path class="k19" d="M272.2,565.3 287.7,560.9 292.8,562.3 274.1,565.7zM274.1,565.7 292.8,562.3 277.4,566.7z"/>
<path class="m" d="M263.8,567.7 287.7,560.9 292.8,562.3 268.9,569.1z"/>
<path class="k18" d="M251.8,571.8 263.8,567.7 268.9,569.1 256.9,573.2z"/>
<path class="m" d="M251.8,571.8 263.8,567.7 268.9,569.1 256.9,573.2z"/>
<path class="k13" d="M208.4,600.3 208.5,600.4 213.6,601.8 213.2,601.6zM213.2,601.6 213.6,601.8 213.5,601.7z"/>
<path class="k14" d="M205.7,598.4 208.4,600.3 213.2,601.6zM205.7,598.4 213.2,601.6 213.5,601.7 210.8,599.8z"/>
<path class="m" d="M205.7,598.4 208.5,600.4 213.6,601.8 210.8,599.8z"/>
<path class="k14" d="M203.9,595.3 205.7,598.4 210.8,599.8 209,596.7z"/>
<path class="m" d="M203.9,595.3 205.7,598.4 210.8,599.8 209,596.7z"/>
<path class="k14" d="M203.9,595.3 203.9,595.3 209,596.7 209,596.7zM209,596.7 209,596.7 209,596.7z"/>
<path class="k15" d="M202.1,591 203.9,595.3 209,596.7zM202.1,591 209,596.7 209,596.7 207.2,592.4z"/>
<path class="m" d="M202.1,591 203.9,595.3 209,596.7 207.2,592.4z"/>
<path class="k15" d="M201.7,590 202.1,591 207.2,592.4 205.6,591zM205.6,591 207.2,592.4 206.8,591.4z"/>
<path class="k16" d="M200.7,586.8 201.7,590 205.6,591zM200.7,586.8 205.6,591 206.8,591.4 205.8,588.2z"/>
<path class="m" d="M200.7,586.8 202.1,591 207.2,592.4 205.8,588.2z"/>
<path class="k16" d="M200.2,584.6 200.7,586.8 205.8,588.2 203.3,585.5zM203.3,585.5 205.8,588.2 205.3,586z"/>
<path class="k17" d="M199.4,581.4 200.2,584.6 203.3,585.5zM199.4,581.4 203.3,585.5 205.3,586 204.5,582.8z"/>
<path class="m" d="M199.4,581.4 200.7,586.8 205.8,588.2 204.5,582.8z"/>
<path class="k17" d="M199,579.2 199.4,581.4 204.5,582.8 202.6,580.2zM202.6,580.2 204.5,582.8 204.1,580.6z"/>
<path class="k18" d="M198.2,574.4 199,579.2 202.6,580.2zM198.2,574.4 202.6,580.2 204.1,580.6 203.3,575.8z"/>
<path class="m" d="M198.2,574.4 199.4,581.4 204.5,582.8 203.3,575.8z"/>
<path class="k18" d="M198.1,573.8 198.2,574.4 203.3,575.8 203,575.1zM203,575.1 203.3,575.8 203.2,575.2z"/>
<path class="k19" d="M197.5,568.4 198.1,573.8 203,575.1 199.9,569zM199.9,569 203,575.1 203.2,575.2 202.6,569.8z"/>
<path class="k20" d="M196.9,562.9 197.5,568.4 199.9,569zM196.9,562.9 199.9,569 202.6,569.8 202,564.3z"/>
<path class="m" d="M196.9,562.9 198.2,574.4 203.3,575.8 202,564.3z"/>
<path class="k20" d="M196.9,562.9 196.9,562.9 202,564.3 202,564.3zM202,564.3 202,564.3 202,564.3z"/>
<path class="k21" d="M196.3,557.4 196.9,562.9 202,564.3 199.8,558.4zM199.8,558.4 202,564.3 202,564.3 201.4,558.8z"/>
<path class="k22" d="M195.7,552 196.3,557.4 199.8,558.4 197.6,552.5zM197.6,552.5 199.8,558.4 201.4,558.8 200.8,553.4z"/>
<path class="k23" d="M195.1,546.5 195.7,552 197.6,552.5 195.4,546.6zM195.4,546.6 197.6,552.5 200.8,553.4 200.2,547.9z"/>
<path class="k24" d="M194.9,545.5 195.1,546.5 195.4,546.6zM194.9,545.5 195.4,546.6 200.2,547.9 200,546.9z"/>
<path class="m" d="M194.9,545.5 196.9,562.9 202,564.3 200,546.9z"/>
<path class="k24" d="M194.4,541.1 194.9,545.5 200,546.9 198.6,542.2zM198.6,542.2 200,546.9 199.5,542.5z"/>
<path class="k25" d="M193.8,535.6 194.4,541.1 198.6,542.2 196.8,536.4zM196.8,536.4 198.6,542.2 199.5,542.5 198.9,537z"/>
<path class="k26" d="M193.1,530.2 193.8,535.6 196.8,536.4 195,530.7zM195,530.7 196.8,536.4 198.9,537 198.2,531.6z"/>
<path class="k27" d="M192.5,524.7 193.1,530.2 195,530.7 193.2,524.9zM193.2,524.9 195,530.7 198.2,531.6 197.6,526.1z"/>
<path class="k28" d="M192.1,521.4 192.5,524.7 193.2,524.9zM192.1,521.4 193.2,524.9 197.6,526.1 197.2,522.8z"/>
<path class="m" d="M192.1,521.4 194.9,545.5 200,546.9 197.2,522.8z"/>
<path class="e" d="M192.1,521.4 197.2,522.8"/>
<path class="k21" d="M388.3,542.7 412.2,539.9 417.3,540.8 393.4,543.9z"/>
<path class="m" d="M388.3,542.7 412.2,539.9 417.3,540.8 393.4,543.9z"/>
<path class="k20" d="M364.4,547.2 387.6,542.9 390,544.3zM364.4,547.2 390,544.3 390.6,544.5 369.5,548.6z"/>
<path class="k21" d="M387.6,542.9 388.3,542.7 393.4,543.9 390,544.3zM390,544.3 393.4,543.9 390.6,544.5z"/>
<path class="m" d="M364.4,547.2 388.3,542.7 393.4,543.9 369.5,548.6z"/>
<path class="k20" d="M340.5,552 364.4,547.2 369.5,548.6 345.6,553.4z"/>
<path class="m" d="M340.5,552 364.4,547.2 369.5,548.6 345.6,553.4z"/>
<path class="k19" d="M316.7,556.9 319.9,556.2 320.6,556.4zM316.7,556.9 320.6,556.4 325,557.6 321.8,558.3z"/>
<path class="k20" d="M319.9,556.2 340.5,552 345.6,553.4 320.6,556.4zM320.6,556.4 345.6,553.4 325,557.6z"/>
<path class="m" d="M316.7,556.9 340.5,552 345.6,553.4 321.8,558.3z"/>
<path class="k19" d="M292.8,562.3 316.7,556.9 321.8,558.3 297.9,563.7z"/>
<path class="m" d="M292.8,562.3 316.7,556.9 321.8,558.3 297.9,563.7z"/>
<path class="k18" d="M268.9,569.1 277.4,566.7 279.2,567.1zM268.9,569.1 279.2,567.1 282.5,568.1 274,570.5z"/>
<path class="k19" d="M277.4,566.7 292.8,562.3 297.9,563.7 279.2,567.1zM279.2,567.1 297.9,563.7 282.5,568.1z"/>
<path class="m" d="M268.9,569.1 292.8,562.3 297.9,563.7 274,570.5z"/>
<path class="k18" d="M256.9,573.2 268.9,569.1 274,570.5 262,574.6z"/>
<path class="m" d="M256.9,573.2 268.9,569.1 274,570.5 262,574.6z"/>
<path class="k13" d="M213.5,601.7 213.6,601.8 218.7,603.2 218.3,603zM218.3,603 218.7,603.2 218.6,603.1z"/>
<path class="k14" d="M210.8,599.8 213.5,601.7 218.3,603zM210.8,599.8 218.3,603 218.6,603.1 215.9,601.2z"/>
<path class="m" d="M210.8,599.8 213.6,601.8 218.7,603.2 215.9,601.2z"/>
<path class="k14" d="M209,596.7 210.8,599.8 215.9,601.2 214.1,598.1z"/>
<path class="m" d="M209,596.7 210.8,599.8 215.9,601.2 214.1,598.1z"/>
<path class="k14" d="M209,596.7 209,596.7 214.1,598.1 214.1,598.1zM214.1,598.1 214.1,598.1 214.1,598.1z"/>
<path class="k15" d="M207.2,592.4 209,596.7 214.1,598.1zM207.2,592.4 214.1,598.1 214.1,598.1 212.3,593.8z"/>
<path class="m" d="M207.2,592.4 209,596.7 214.1,598.1 212.3,593.8z"/>
<path class="k15" d="M206.8,591.4 207.2,592.4 212.3,593.8 210.7,592.4zM210.7,592.4 212.3,593.8 212,592.8z"/>
<path class="k16" d="M205.8,588.2 206.8,591.4 210.7,592.4zM205.8,588.2 210.7,592.4 212,592.8 210.9,589.6z"/>
<path class="m" d="M205.8,588.2 207.2,592.4 212.3,593.8 210.9,589.6z"/>
<path class="k16" d="M205.3,586 205.8,588.2 210.9,589.6 208.4,586.9zM208.4,586.9 210.9,589.6 210.4,587.4z"/>
<path class="k17" d="M204.5,582.8 205.3,586 208.4,586.9zM204.5,582.8 208.4,586.9 210.4,587.4 209.6,584.2z"/>
<path class="m" d="M204.5,582.8 205.8,588.2 210.9,589.6 209.6,584.2z"/>
<path class="k17" d="M204.1,580.6 204.5,582.8 209.6,584.2 207.7,581.6zM207.7,581.6 209.6,584.2 209.2,582z"/>
<path class="k18" d="M203.3,575.8 204.1,580.6 207.7,581.6zM203.3,575.8 207.7,581.6 209.2,582 208.4,577.2z"/>
<path class="m" d="M203.3,575.8 204.5,582.8 209.6,584.2 208.4,577.2z"/>
<path class="k18" d="M203.2,575.2 203.3,575.8 208.4,577.2 208.1,576.5zM208.1,576.5 208.4,577.2 208.3,576.6z"/>
<path class="k19" d="M202.6,569.8 203.2,575.2 208.1,576.5 205,570.4zM205,570.4 208.1,576.5 208.3,576.6 207.7,571.2z"/>
<path class="k20" d="M202,564.3 202.6,569.8 205,570.4zM202,564.3 205,570.4 207.7,571.2 207.1,565.7z"/>
<path class="m" d="M202,564.3 203.3,575.8 208.4,577.2 207.1,565.7z"/>
<path class="k20" d="M202,564.3 202,564.3 207.1,565.7 207.1,565.7zM207.1,565.7 207.1,565.7 207.1,565.7z"/>
<path class="k21" d="M201.4,558.8 202,564.3 207.1,565.7 204.9,559.8zM204.9,559.8 207.1,565.7 207.1,565.7 206.5,560.2z"/>
<path class="k22" d="M200.8,553.4 201.4,558.8 204.9,559.8 202.7,553.9zM202.7,553.9 204.9,559.8 206.5,560.2 205.9,554.8z"/>
<path class="k23" d="M200.2,547.9 200.8,553.4 202.7,553.9 200.5,548zM200.5,548 202.7,553.9 205.9,554.8 205.3,549.3z"/>
<path class="k24" d="M200,546.9 200.2,547.9 200.5,548zM200,546.9 200.5,548 205.3,549.3 205.2,548.3z"/>
<path class="m" d="M200,546.9 202,564.3 207.1,565.7 205.2,548.3z"/>
<path class="k24" d="M199.5,542.5 200,546.9 205.2,548.3 203.7,543.6zM203.7,543.6 205.2,548.3 204.6,543.9z"/>
<path class="k25" d="M198.9,537 199.5,542.5 203.7,543.6 201.9,537.8zM201.9,537.8 203.7,543.6 204.6,543.9 204,538.4z"/>
<path class="k26" d="M198.2,531.6 198.9,537 201.9,537.8 200.1,532.1zM200.1,532.1 201.9,537.8 204,538.4 203.3,533z"/>
<path class="k27" d="M197.6,526.1 198.2,531.6 200.1,532.1 198.3,526.3zM198.3,526.3 200.1,532.1 203.3,533 202.7,527.5z"/>
<path class="k28" d="M197.2,522.8 197.6,526.1 198.3,526.3zM197.2,522.8 198.3,526.3 202.7,527.5 202.3,524.2z"/>
<path class="m" d="M197.2,522.8 200,546.9 205.2,548.3 202.3,524.2z"/>
<path class="e" d="M197.2,522.8 202.3,524.2"/>
<path class="k21" d="M393.4,543.9 417.3,540.8 422.4,541.9 398.5,545.2z"/>
<path class="m" d="M393.4,543.9 417.3,540.8 422.4,541.9 398.5,545.2z"/>
<path class="k20" d="M369.5,548.6 390.6,544.5 393.6,545.8zM369.5,548.6 393.6,545.8 394.5,546 374.6,550z"/>
<path class="k21" d="M390.6,544.5 393.4,543.9 398.5,545.2 393.6,545.8zM393.6,545.8 398.5,545.2 394.5,546z"/>
<path class="m" d="M369.5,548.6 393.4,543.9 398.5,545.2 374.6,550z"/>
<path class="k20" d="M345.6,553.4 369.5,548.6 374.6,550 350.8,554.8z"/>
<path class="m" d="M345.6,553.4 369.5,548.6 374.6,550 350.8,554.8z"/>
<path class="k19" d="M321.8,558.3 325,557.6 325.7,557.8zM321.8,558.3 325.7,557.8 330.1,559 326.9,559.7z"/>
<path class="k20" d="M325,557.6 345.6,553.4 350.8,554.8 325.7,557.8zM325.7,557.8 350.8,554.8 330.1,559z"/>
<path class="m" d="M321.8,558.3 345.6,553.4 350.8,554.8 326.9,559.7z"/>
<path class="k19" d="M297.9,563.7 321.8,558.3 326.9,559.7 303,565.1z"/>
<path class="m" d="M297.9,563.7 321.8,558.3 326.9,559.7 303,565.1z"/>
<path class="k18" d="M274,570.5 282.5,568.1 284.3,568.5zM274,570.5 284.3,568.5 287.6,569.5 279.1,571.9z"/>
<path class="k19" d="M282.5,568.1 297.9,563.7 303,565.1 284.3,568.5zM284.3,568.5 303,565.1 287.6,569.5z"/>
<path class="m" d="M274,570.5 297.9,563.7 303,565.1 279.1,571.9z"/>
<path class="k18" d="M262,574.6 274,570.5 279.1,571.9 267.1,576z"/>
<path class="m" d="M262,574.6 274,570.5 279.1,571.9 267.1,576z"/>
<path class="k13" d="M218.6,603.1 218.7,603.2 223.8,604.6 223.5,604.4zM223.5,604.4 223.8,604.6 223.7,604.5z"/>
<path class="k14" d="M215.9,601.2 218.6,603.1 223.5,604.4zM215.9,601.2 223.5,604.4 223.7,604.5 221,602.6z"/>
<path class="m" d="M215.9,601.2 218.7,603.2 223.8,604.6 221,602.6z"/>
<path class="k14" d="M214.1,598.1 215.9,601.2 221,602.6 219.2,599.5z"/>
<path class="m" d="M214.1,598.1 215.9,601.2 221,602.6 219.2,599.5z"/>
<path class="k14" d="M214.1,598.1 214.1,598.1 219.2,599.5 219.2,599.5zM219.2,599.5 219.2,599.5 219.2,599.5z"/>
<path class="k15" d="M212.3,593.8 214.1,598.1 219.2,599.5zM212.3,593.8 219.2,599.5 219.2,599.5 217.4,595.2z"/>
<path class="m" d="M212.3,593.8 214.1,598.1 219.2,599.5 217.4,595.2z"/>
<path class="k15" d="M212,592.8 212.3,593.8 217.4,595.2 215.8,593.8zM215.8,593.8 217.4,595.2 217.1,594.2z"/>
<path class="k16" d="M210.9,589.6 212,592.8 215.8,593.8zM210.9,589.6 215.8,593.8 217.1,594.2 216,591z"/>
<path class="m" d="M210.9,589.6 212.3,593.8 217.4,595.2 216,591z"/>
<path class="k16" d="M210.4,587.4 210.9,589.6 216,591 213.5,588.3zM213.5,588.3 216,591 215.5,588.8z"/>
<path class="k17" d="M209.6,584.2 210.4,587.4 213.5,588.3zM209.6,584.2 213.5,588.3 215.5,588.8 214.7,585.6z"/>
<path class="m" d="M209.6,584.2 210.9,589.6 216,591 214.7,585.6z"/>
<path class="k17" d="M209.2,582 209.6,584.2 214.7,585.6 212.8,583zM212.8,583 214.7,585.6 214.4,583.4z"/>
<path class="k18" d="M208.4,577.2 209.2,582 212.8,583zM208.4,577.2 212.8,583 214.4,583.4 213.5,578.6z"/>
<path class="m" d="M208.4,577.2 209.6,584.2 214.7,585.6 213.5,578.6z"/>
<path class="k18" d="M208.3,576.6 208.4,577.2 213.5,578.6 213.2,577.9zM213.2,577.9 213.5,578.6 213.4,578z"/>
<path class="k19" d="M207.7,571.2 208.3,576.6 213.2,577.9 210.1,571.8zM210.1,571.8 213.2,577.9 213.4,578 212.8,572.6z"/>
<path class="k20" d="M207.1,565.7 207.7,571.2 210.1,571.8zM207.1,565.7 210.1,571.8 212.8,572.6 212.2,567.1z"/>
<path class="m" d="M207.1,565.7 208.4,577.2 213.5,578.6 212.2,567.1z"/>
<path class="k20" d="M207.1,565.7 207.1,565.7 212.2,567.1 212.2,567.1zM212.2,567.1 212.2,567.1 212.2,567.1z"/>
<path class="k21" d="M206.5,560.2 207.1,565.7 212.2,567.1 210,561.2zM210,561.2 212.2,567.1 212.2,567.1 211.6,561.6z"/>
<path class="k22" d="M205.9,554.8 206.5,560.2 210,561.2 207.8,555.3zM207.8,555.3 210,561.2 211.6,561.6 211,556.2z"/>
<path class="k23" d="M205.3,549.3 205.9,554.8 207.8,555.3 205.6,549.4zM205.6,549.4 207.8,555.3 211,556.2 210.4,550.7z"/>
<path class="k24" d="M205.2,548.3 205.3,549.3 205.6,549.4zM205.2,548.3 205.6,549.4 210.4,550.7 210.3,549.7z"/>
<path class="m" d="M205.2,548.3 207.1,565.7 212.2,567.1 210.3,549.7z"/>
<path class="k24" d="M204.6,543.9 205.2,548.3 210.3,549.7 208.8,545zM208.8,545 210.3,549.7 209.7,545.3z"/>
<path class="k25" d="M204,538.4 204.6,543.9 208.8,545 207,539.2zM207,539.2 208.8,545 209.7,545.3 209.1,539.8z"/>
<path class="k26" d="M203.3,533 204,538.4 207,539.2 205.2,533.5zM205.2,533.5 207,539.2 209.1,539.8 208.4,534.4z"/>
<path class="k27" d="M202.7,527.5 203.3,533 205.2,533.5 203.4,527.7zM203.4,527.7 205.2,533.5 208.4,534.4 207.8,528.9z"/>
<path class="k28" d="M202.3,524.2 202.7,527.5 203.4,527.7zM202.3,524.2 203.4,527.7 207.8,528.9 207.4,525.6z"/>
<path class="m" d="M202.3,524.2 205.2,548.3 210.3,549.7 207.4,525.6z"/>
<path class="e" d="M202.3,524.2 207.4,525.6"/>
<path class="k21" d="M398.5,545.2 422.4,541.9 427.5,543.1 403.6,546.6z"/>
<path class="m" d="M398.5,545.2 422.4,541.9 427.5,543.1 403.6,546.6z"/>
<path class="k20" d="M374.6,550 394.5,546 398.1,547.2zM374.6,550 398.1,547.2 399.1,547.5 379.8,551.4z"/>
<path class="k21" d="M394.5,546 398.5,545.2 403.6,546.6 398.1,547.2zM398.1,547.2 403.6,546.6 399.1,547.5z"/>
<path class="m" d="M374.6,550 398.5,545.2 403.6,546.6 379.8,551.4z"/>
<path class="k20" d="M350.8,554.8 374.6,550 379.8,551.4 355.9,556.2z"/>
<path class="m" d="M350.8,554.8 374.6,550 379.8,551.4 355.9,556.2z"/>
<path class="k19" d="M326.9,559.7 330.1,559 330.8,559.2zM326.9,559.7 330.8,559.2 335.2,560.4 332,561.1z"/>
<path class="k20" d="M330.1,559 350.8,554.8 355.9,556.2 330.8,559.2zM330.8,559.2 355.9,556.2 335.2,560.4z"/>
<path class="m" d="M326.9,559.7 350.8,554.8 355.9,556.2 332,561.1z"/>
<path class="k19" d="M303,565.1 326.9,559.7 332,561.1 308.1,566.5z"/>
<path class="m" d="M303,565.1 326.9,559.7 332,561.1 308.1,566.5z"/>
<path class="k18" d="M279.1,571.9 287.6,569.5 289.4,569.9zM279.1,571.9 289.4,569.9 292.7,570.9 284.2,573.3z"/>
<path class="k19" d="M287.6,569.5 303,565.1 308.1,566.5 289.4,569.9zM289.4,569.9 308.1,566.5 292.7,570.9z"/>
<path class="m" d="M279.1,571.9 303,565.1 308.1,566.5 284.2,573.3z"/>
<path class="k18" d="M267.1,576 279.1,571.9 284.2,573.3 272.2,577.4z"/>
<path class="m" d="M267.1,576 279.1,571.9 284.2,573.3 272.2,577.4z"/>
<path class="k17" d="M255.2,581 262.7,577.8 266,578.7zM255.2,581 266,578.7 267.9,579.2 260.3,582.4z"/>
<path class="k18" d="M262.7,577.8 267.1,576 272.2,577.4 266,578.7zM266,578.7 272.2,577.4 267.9,579.2z"/>
<path class="m" d="M255.2,581 267.1,576 272.2,577.4 260.3,582.4z"/>
<path class="k13" d="M223.7,604.5 223.8,604.6 228.9,606 228.6,605.8zM228.6,605.8 228.9,606 228.8,605.9z"/>
<path class="k14" d="M221,602.6 223.7,604.5 228.6,605.8zM221,602.6 228.6,605.8 228.8,605.9 226.1,604z"/>
<path class="m" d="M221,602.6 223.8,604.6 228.9,606 226.1,604z"/>
<path class="k14" d="M219.2,599.5 221,602.6 226.1,604 224.3,600.9z"/>
<path class="m" d="M219.2,599.5 221,602.6 226.1,604 224.3,600.9z"/>
<path class="k14" d="M219.2,599.5 219.2,599.5 224.3,600.9 224.3,600.9zM224.3,600.9 224.3,600.9 224.3,600.9z"/>
<path class="k15" d="M217.4,595.2 219.2,599.5 224.3,600.9zM217.4,595.2 224.3,600.9 224.3,600.9 222.5,596.6z"/>
<path class="m" d="M217.4,595.2 219.2,599.5 224.3,600.9 222.5,596.6z"/>
<path class="k15" d="M217.1,594.2 217.4,595.2 222.5,596.6 220.9,595.2zM220.9,595.2 222.5,596.6 222.2,595.6z"/>
<path class="k16" d="M216,591 217.1,594.2 220.9,595.2zM216,591 220.9,595.2 222.2,595.6 221.1,592.4z"/>
<path class="m" d="M216,591 217.4,595.2 222.5,596.6 221.1,592.4z"/>
<path class="k16" d="M215.5,588.8 216,591 221.1,592.4 218.6,589.7zM218.6,589.7 221.1,592.4 220.6,590.2z"/>
<path class="k17" d="M214.7,585.6 215.5,588.8 218.6,589.7zM214.7,585.6 218.6,589.7 220.6,590.2 219.8,587z"/>
<path class="m" d="M214.7,585.6 216,591 221.1,592.4 219.8,587z"/>
<path class="k17" d="M214.4,583.4 214.7,585.6 219.8,587 217.9,584.4zM217.9,584.4 219.8,587 219.5,584.8z"/>
<path class="k18" d="M213.5,578.6 214.4,583.4 217.9,584.4zM213.5,578.6 217.9,584.4 219.5,584.8 218.6,580z"/>
<path class="m" d="M213.5,578.6 214.7,585.6 219.8,587 218.6,580z"/>
<path class="k18" d="M213.4,578 213.5,578.6 218.6,580 218.3,579.3zM218.3,579.3 218.6,580 218.5,579.4z"/>
<path class="k19" d="M212.8,572.6 213.4,578 218.3,579.3 215.2,573.2zM215.2,573.2 218.3,579.3 218.5,579.4 217.9,574z"/>
<path class="k20" d="M212.2,567.1 212.8,572.6 215.2,573.2zM212.2,567.1 215.2,573.2 217.9,574 217.3,568.5z"/>
<path class="m" d="M212.2,567.1 213.5,578.6 218.6,580 217.3,568.5z"/>
<path class="k20" d="M212.2,567.1 212.2,567.1 217.3,568.5 217.3,568.5zM217.3,568.5 217.3,568.5 217.3,568.5z"/>
<path class="k21" d="M211.6,561.6 212.2,567.1 217.3,568.5 215.1,562.6zM215.1,562.6 217.3,568.5 217.3,568.5 216.7,563z"/>
<path class="k22" d="M211,556.2 211.6,561.6 215.1,562.6 212.9,556.7zM212.9,556.7 215.1,562.6 216.7,563 216.1,557.6z"/>
<path class="k23" d="M210.4,550.7 211,556.2 212.9,556.7 210.7,550.8zM210.7,550.8 212.9,556.7 216.1,557.6 215.5,552.1z"/>
<path class="k24" d="M210.3,549.7 210.4,550.7 210.7,550.8zM210.3,549.7 210.7,550.8 215.5,552.1 215.4,551.1z"/>
<path class="m" d="M210.3,549.7 212.2,567.1 217.3,568.5 215.4,551.1z"/>
<path class="k24" d="M209.7,545.3 210.3,549.7 215.4,551.1 213.9,546.4zM213.9,546.4 215.4,551.1 214.8,546.7z"/>
<path class="k25" d="M209.1,539.8 209.7,545.3 213.9,546.4 212.1,540.6zM212.1,540.6 213.9,546.4 214.8,546.7 214.2,541.2z"/>
<path class="k26" d="M208.4,534.4 209.1,539.8 212.1,540.6 210.3,534.9zM210.3,534.9 212.1,540.6 214.2,541.2 213.6,535.8z"/>
<path class="k27" d="M207.8,528.9 208.4,534.4 210.3,534.9 208.5,529.1zM208.5,529.1 210.3,534.9 213.6,535.8 212.9,530.3z"/>
<path class="k28" d="M207.4,525.6 207.8,528.9 208.5,529.1zM207.4,525.6 208.5,529.1 212.9,530.3 212.5,527z"/>
<path class="m" d="M207.4,525.6 210.3,549.7 215.4,551.1 212.5,527z"/>
<path class="e" d="M207.4,525.6 212.5,527"/>
<path class="k21" d="M403.6,546.6 427.5,543.1 432.6,544.4 408.8,548z"/>
<path class="m" d="M403.6,546.6 427.5,543.1 432.6,544.4 408.8,548z"/>
<path class="k20" d="M379.8,551.4 399.1,547.5 403.2,548.6zM379.8,551.4 403.2,548.6 404.2,548.9 384.9,552.8z"/>
<path class="k21" d="M399.1,547.5 403.6,546.6 408.8,548 403.2,548.6zM403.2,548.6 408.8,548 404.2,548.9z"/>
<path class="m" d="M379.8,551.4 403.6,546.6 408.8,548 384.9,552.8z"/>
<path class="k20" d="M355.9,556.2 379.8,551.4 384.9,552.8 361,557.6z"/>
<path class="m" d="M355.9,556.2 379.8,551.4 384.9,552.8 361,557.6z"/>
<path class="k19" d="M332,561.1 335.2,560.4 335.9,560.6zM332,561.1 335.9,560.6 340.3,561.8 337.1,562.5z"/>
<path class="k20" d="M335.2,560.4 355.9,556.2 361,557.6 335.9,560.6zM335.9,560.6 361,557.6 340.3,561.8z"/>
<path class="m" d="M332,561.1 355.9,556.2 361,557.6 337.1,562.5z"/>
<path class="k19" d="M308.1,566.5 332,561.1 337.1,562.5 313.2,567.9z"/>
<path class="m" d="M308.1,566.5 332,561.1 337.1,562.5 313.2,567.9z"/>
<path class="k18" d="M284.2,573.3 292.7,570.9 294.5,571.3zM284.2,573.3 294.5,571.3 297.8,572.3 289.3,574.7z"/>
<path class="k19" d="M292.7,570.9 308.1,566.5 313.2,567.9 294.5,571.3zM294.5,571.3 313.2,567.9 297.8,572.3z"/>
<path class="m" d="M284.2,573.3 308.1,566.5 313.2,567.9 289.3,574.7z"/>
<path class="k18" d="M272.2,577.4 284.2,573.3 289.3,574.7 277.4,578.8z"/>
<path class="m" d="M272.2,577.4 284.2,573.3 289.3,574.7 277.4,578.8z"/>
<path class="k17" d="M260.3,582.4 267.9,579.2 271.1,580.1zM260.3,582.4 271.1,580.1 273,580.6 265.4,583.8z"/>
<path class="k18" d="M267.9,579.2 272.2,577.4 277.4,578.8 271.1,580.1zM271.1,580.1 277.4,578.8 273,580.6z"/>
<path class="m" d="M260.3,582.4 272.2,577.4 277.4,578.8 265.4,583.8z"/>
<path class="k13" d="M228.8,605.9 228.9,606 234,607.4 233.7,607.2zM233.7,607.2 234,607.4 233.9,607.3z"/>
<path class="k14" d="M226.1,604 228.8,605.9 233.7,607.2zM226.1,604 233.7,607.2 233.9,607.3 231.2,605.4z"/>
<path class="m" d="M226.1,604 228.9,606 234,607.4 231.2,605.4z"/>
<path class="k14" d="M224.3,600.9 226.1,604 231.2,605.4 229.5,602.3z"/>
<path class="m" d="M224.3,600.9 226.1,604 231.2,605.4 229.5,602.3z"/>
<path class="k14" d="M224.3,600.9 224.3,600.9 229.5,602.3 229.4,602.3zM229.4,602.3 229.5,602.3 229.5,602.3z"/>
<path class="k15" d="M222.5,596.6 224.3,600.9 229.4,602.3zM222.5,596.6 229.4,602.3 229.5,602.3 227.6,598z"/>
<path class="m" d="M222.5,596.6 224.3,600.9 229.5,602.3 227.6,598z"/>
<path class="k15" d="M222.2,595.6 222.5,596.6 227.6,598 226,596.6zM226,596.6 227.6,598 227.3,597z"/>
<path class="k16" d="M221.1,592.4 222.2,595.6 226,596.6zM221.1,592.4 226,596.6 227.3,597 226.2,593.8z"/>
<path class="m" d="M221.1,592.4 222.5,596.6 227.6,598 226.2,593.8z"/>
<path class="k16" d="M220.6,590.2 221.1,592.4 226.2,593.8 223.7,591.1zM223.7,591.1 226.2,593.8 225.7,591.6z"/>
<path class="k17" d="M219.8,587 220.6,590.2 223.7,591.1zM219.8,587 223.7,591.1 225.7,591.6 224.9,588.4z"/>
<path class="m" d="M219.8,587 221.1,592.4 226.2,593.8 224.9,588.4z"/>
<path class="k17" d="M219.5,584.8 219.8,587 224.9,588.4 223,585.8zM223,585.8 224.9,588.4 224.6,586.2z"/>
<path class="k18" d="M218.6,580 219.5,584.8 223,585.8zM218.6,580 223,585.8 224.6,586.2 223.7,581.4z"/>
<path class="m" d="M218.6,580 219.8,587 224.9,588.4 223.7,581.4z"/>
<path class="k18" d="M218.5,579.4 218.6,580 223.7,581.4 223.4,580.7zM223.4,580.7 223.7,581.4 223.7,580.8z"/>
<path class="k19" d="M217.9,574 218.5,579.4 223.4,580.7 220.3,574.6zM220.3,574.6 223.4,580.7 223.7,580.8 223,575.4z"/>
<path class="k20" d="M217.3,568.5 217.9,574 220.3,574.6zM217.3,568.5 220.3,574.6 223,575.4 222.4,569.9z"/>
<path class="m" d="M217.3,568.5 218.6,580 223.7,581.4 222.4,569.9z"/>
<path class="k20" d="M217.3,568.5 217.3,568.5 222.4,569.9 222.4,569.9zM222.4,569.9 222.4,569.9 222.4,569.9z"/>
<path class="k21" d="M216.7,563 217.3,568.5 222.4,569.9 220.2,564zM220.2,564 222.4,569.9 222.4,569.9 221.8,564.4z"/>
<path class="k22" d="M216.1,557.6 216.7,563 220.2,564 218,558.1zM218,558.1 220.2,564 221.8,564.4 221.2,559z"/>
<path class="k23" d="M215.5,552.1 216.1,557.6 218,558.1 215.8,552.2zM215.8,552.2 218,558.1 221.2,559 220.6,553.5z"/>
<path class="k24" d="M215.4,551.1 215.5,552.1 215.8,552.2zM215.4,551.1 215.8,552.2 220.6,553.5 220.5,552.5z"/>
<path class="m" d="M215.4,551.1 217.3,568.5 222.4,569.9 220.5,552.5z"/>
<path class="k24" d="M214.8,546.7 215.4,551.1 220.5,552.5 219,547.8zM219,547.8 220.5,552.5 220,548.1z"/>
<path class="k25" d="M214.2,541.2 214.8,546.7 219,547.8 217.2,542zM217.2,542 219,547.8 220,548.1 219.3,542.6z"/>
<path class="k26" d="M213.6,535.8 214.2,541.2 217.2,542 215.4,536.3zM215.4,536.3 217.2,542 219.3,542.6 218.7,537.2z"/>
<path class="k27" d="M212.9,530.3 213.6,535.8 215.4,536.3 213.6,530.5zM213.6,530.5 215.4,536.3 218.7,537.2 218,531.7z"/>
<path class="k28" d="M212.5,527 212.9,530.3 213.6,530.5zM212.5,527 213.6,530.5 218,531.7 217.6,528.4z"/>
<path class="m" d="M212.5,527 215.4,551.1 220.5,552.5 217.6,528.4z"/>
<path class="e" d="M212.5,527 217.6,528.4"/>
<path class="k21" d="M408.8,548 432.6,544.4 437.7,545.6 413.9,549.4z"/>
<path class="m" d="M408.8,548 432.6,544.4 437.7,545.6 413.9,549.4z"/>
<path class="k20" d="M384.9,552.8 404.2,548.9 408.3,550zM384.9,552.8 408.3,550 409.3,550.3 390,554.2z"/>
<path class="k21" d="M404.2,548.9 408.8,548 413.9,549.4 408.3,550zM408.3,550 413.9,549.4 409.3,550.3z"/>
<path class="m" d="M384.9,552.8 408.8,548 413.9,549.4 390,554.2z"/>
<path class="k20" d="M361,557.6 384.9,552.8 390,554.2 366.1,559z"/>
<path class="m" d="M361,557.6 384.9,552.8 390,554.2 366.1,559z"/>
<path class="k19" d="M337.1,562.5 340.3,561.8 341,562zM337.1,562.5 341,562 345.4,563.2 342.2,563.9z"/>
<path class="k20" d="M340.3,561.8 361,557.6 366.1,559 341,562zM341,562 366.1,559 345.4,563.2z"/>
<path class="m" d="M337.1,562.5 361,557.6 366.1,559 342.2,563.9z"/>
<path class="k19" d="M313.2,567.9 337.1,562.5 342.2,563.9 318.3,569.3z"/>
<path class="m" d="M313.2,567.9 337.1,562.5 342.2,563.9 318.3,569.3z"/>
<path class="k18" d="M289.3,574.7 297.8,572.3 299.6,572.7zM289.3,574.7 299.6,572.7 302.9,573.7 294.4,576.1z"/>
<path class="k19" d="M297.8,572.3 313.2,567.9 318.3,569.3 299.6,572.7zM299.6,572.7 318.3,569.3 302.9,573.7z"/>
<path class="m" d="M289.3,574.7 313.2,567.9 318.3,569.3 294.4,576.1z"/>
<path class="k18" d="M277.4,578.8 289.3,574.7 294.4,576.1 282.5,580.2z"/>
<path class="m" d="M277.4,578.8 289.3,574.7 294.4,576.1 282.5,580.2z"/>
<path class="k17" d="M265.4,583.8 273,580.6 276.2,581.5zM265.4,583.8 276.2,581.5 278.1,582 270.5,585.2z"/>
<path class="k18" d="M273,580.6 277.4,578.8 282.5,580.2 276.2,581.5zM276.2,581.5 282.5,580.2 278.1,582z"/>
<path class="m" d="M265.4,583.8 277.4,578.8 282.5,580.2 270.5,585.2z"/>
<path class="k17" d="M255.9,587.9 265.4,583.8 270.5,585.2 261,589.3z"/>
<path class="m" d="M255.9,587.9 265.4,583.8 270.5,585.2 261,589.3z"/>
<path class="k13" d="M233.9,607.3 234,607.4 239.1,608.8 238.8,608.6zM238.8,608.6 239.1,608.8 239,608.7z"/>
<path class="k14" d="M231.2,605.4 233.9,607.3 238.8,608.6zM231.2,605.4 238.8,608.6 239,608.7 236.4,606.8z"/>
<path class="m" d="M231.2,605.4 234,607.4 239.1,608.8 236.4,606.8z"/>
<path class="k14" d="M229.5,602.3 231.2,605.4 236.4,606.8 234.6,603.7z"/>
<path class="m" d="M229.5,602.3 231.2,605.4 236.4,606.8 234.6,603.7z"/>
<path class="k14" d="M229.5,602.3 229.5,602.3 234.6,603.7 234.5,603.7zM234.5,603.7 234.6,603.7 234.6,603.7z"/>
<path class="k15" d="M227.6,598 229.5,602.3 234.5,603.7zM227.6,598 234.5,603.7 234.6,603.7 232.7,599.4z"/>
<path class="m" d="M227.6,598 229.5,602.3 234.6,603.7 232.7,599.4z"/>
<path class="k15" d="M227.3,597 227.6,598 232.7,599.4 231.1,598zM231.1,598 232.7,599.4 232.4,598.4z"/>
<path class="k16" d="M226.2,593.8 227.3,597 231.1,598zM226.2,593.8 231.1,598 232.4,598.4 231.3,595.2z"/>
<path class="m" d="M226.2,593.8 227.6,598 232.7,599.4 231.3,595.2z"/>
<path class="k16" d="M225.7,591.6 226.2,593.8 231.3,595.2 228.8,592.5zM228.8,592.5 231.3,595.2 230.8,593z"/>
<path class="k17" d="M224.9,588.4 225.7,591.6 228.8,592.5zM224.9,588.4 228.8,592.5 230.8,593 230,589.8z"/>
<path class="m" d="M224.9,588.4 226.2,593.8 231.3,595.2 230,589.8z"/>
<path class="k17" d="M224.6,586.2 224.9,588.4 230,589.8 228.1,587.2zM228.1,587.2 230,589.8 229.7,587.6z"/>
<path class="k18" d="M223.7,581.4 224.6,586.2 228.1,587.2zM223.7,581.4 228.1,587.2 229.7,587.6 228.8,582.8z"/>
<path class="m" d="M223.7,581.4 224.9,588.4 230,589.8 228.8,582.8z"/>
<path class="k18" d="M223.7,580.8 223.7,581.4 228.8,582.8 228.5,582.1zM228.5,582.1 228.8,582.8 228.8,582.2z"/>
<path class="k19" d="M223,575.4 223.7,580.8 228.5,582.1 225.4,576zM225.4,576 228.5,582.1 228.8,582.2 228.1,576.8z"/>
<path class="k20" d="M222.4,569.9 223,575.4 225.4,576zM222.4,569.9 225.4,576 228.1,576.8 227.5,571.3z"/>
<path class="m" d="M222.4,569.9 223.7,581.4 228.8,582.8 227.5,571.3z"/>
<path class="k20" d="M222.4,569.9 222.4,569.9 227.5,571.3 227.5,571.3zM227.5,571.3 227.5,571.3 227.5,571.3z"/>
<path class="k21" d="M221.8,564.4 222.4,569.9 227.5,571.3 225.3,565.4zM225.3,565.4 227.5,571.3 227.5,571.3 226.9,565.8z"/>
<path class="k22" d="M221.2,559 221.8,564.4 225.3,565.4 223.1,559.5zM223.1,559.5 225.3,565.4 226.9,565.8 226.3,560.4z"/>
<path class="k23" d="M220.6,553.5 221.2,559 223.1,559.5 220.9,553.6zM220.9,553.6 223.1,559.5 226.3,560.4 225.7,554.9z"/>
<path class="k24" d="M220.5,552.5 220.6,553.5 220.9,553.6zM220.5,552.5 220.9,553.6 225.7,554.9 225.6,553.9z"/>
<path class="m" d="M220.5,552.5 222.4,569.9 227.5,571.3 225.6,553.9z"/>
<path class="k24" d="M220,548.1 220.5,552.5 225.6,553.9 224.1,549.2zM224.1,549.2 225.6,553.9 225.1,549.5z"/>
<path class="k25" d="M219.3,542.6 220,548.1 224.1,549.2 222.3,543.4zM222.3,543.4 224.1,549.2 225.1,549.5 224.4,544z"/>
<path class="k26" d="M218.7,537.2 219.3,542.6 222.3,543.4 220.5,537.7zM220.5,537.7 222.3,543.4 224.4,544 223.8,538.6z"/>
<path class="k27" d="M218,531.7 218.7,537.2 220.5,537.7 218.7,531.9zM218.7,531.9 220.5,537.7 223.8,538.6 223.1,533.1z"/>
<path class="k28" d="M217.6,528.4 218,531.7 218.7,531.9zM217.6,528.4 218.7,531.9 223.1,533.1 222.7,529.8z"/>
<path class="m" d="M217.6,528.4 220.5,552.5 225.6,553.9 222.7,529.8z"/>
<path class="e" d="M217.6,528.4 222.7,529.8"/>
<path class="k21" d="M413.9,549.4 437.7,545.6 442.9,546.9 419,550.8z"/>
<path class="m" d="M413.9,549.4 437.7,545.6 442.9,546.9 419,550.8z"/>
<path class="k20" d="M390,554.2 409.3,550.3 413.4,551.4zM390,554.2 413.4,551.4 414.4,551.7 395.1,555.6z"/>
<path class="k21" d="M409.3,550.3 413.9,549.4 419,550.8 413.4,551.4zM413.4,551.4 419,550.8 414.4,551.7z"/>
<path class="m" d="M390,554.2 413.9,549.4 419,550.8 395.1,555.6z"/>
<path class="k20" d="M366.1,559 390,554.2 395.1,555.6 371.2,560.4z"/>
<path class="m" d="M366.1,559 390,554.2 395.1,555.6 371.2,560.4z"/>
<path class="k19" d="M342.2,563.9 345.4,563.2 346.1,563.4zM342.2,563.9 346.1,563.4 350.5,564.6 347.3,565.3z"/>
<path class="k20" d="M345.4,563.2 366.1,559 371.2,560.4 346.1,563.4zM346.1,563.4 371.2,560.4 350.5,564.6z"/>
<path class="m" d="M342.2,563.9 366.1,559 371.2,560.4 347.3,565.3z"/>
<path class="k19" d="M318.3,569.3 342.2,563.9 347.3,565.3 323.4,570.7z"/>
<path class="m" d="M318.3,569.3 342.2,563.9 347.3,565.3 323.4,570.7z"/>
<path class="k18" d="M294.4,576.1 302.9,573.7 304.7,574.1zM294.4,576.1 304.7,574.1 308,575.1 299.5,577.5z"/>
<path class="k19" d="M302.9,573.7 318.3,569.3 323.4,570.7 304.7,574.1zM304.7,574.1 323.4,570.7 308,575.1z"/>
<path class="m" d="M294.4,576.1 318.3,569.3 323.4,570.7 299.5,577.5z"/>
<path class="k18" d="M282.5,580.2 294.4,576.1 299.5,577.5 287.6,581.6z"/>
<path class="m" d="M282.5,580.2 294.4,576.1 299.5,577.5 287.6,581.6z"/>
<path class="k17" d="M270.5,585.2 278.1,582 281.3,582.9zM270.5,585.2 281.3,582.9 283.2,583.4 275.6,586.6z"/>
<path class="k18" d="M278.1,582 282.5,580.2 287.6,581.6 281.3,582.9zM281.3,582.9 287.6,581.6 283.2,583.4z"/>
<path class="m" d="M270.5,585.2 282.5,580.2 287.6,581.6 275.6,586.6z"/>
<path class="k17" d="M261,589.3 270.5,585.2 275.6,586.6 266.1,590.7z"/>
<path class="m" d="M261,589.3 270.5,585.2 275.6,586.6 266.1,590.7z"/>
<path class="k13" d="M239,608.7 239.1,608.8 244.3,610.2 243.9,610zM243.9,610 244.3,610.2 244.1,610.1z"/>
<path class="k14" d="M236.4,606.8 239,608.7 243.9,610zM236.4,606.8 243.9,610 244.1,610.1 241.5,608.2z"/>
<path class="m" d="M236.4,606.8 239.1,608.8 244.3,610.2 241.5,608.2z"/>
<path class="k14" d="M234.6,603.7 236.4,606.8 241.5,608.2 239.7,605.1z"/>
<path class="m" d="M234.6,603.7 236.4,606.8 241.5,608.2 239.7,605.1z"/>
<path class="k14" d="M234.6,603.7 234.6,603.7 239.7,605.1 239.7,605.1zM239.7,605.1 239.7,605.1 239.7,605.1z"/>
<path class="k15" d="M232.7,599.4 234.6,603.7 239.7,605.1zM232.7,599.4 239.7,605.1 239.7,605.1 237.8,600.8z"/>
<path class="m" d="M232.7,599.4 234.6,603.7 239.7,605.1 237.8,600.8z"/>
<path class="k15" d="M232.4,598.4 232.7,599.4 237.8,600.8 236.2,599.4zM236.2,599.4 237.8,600.8 237.5,599.8z"/>
<path class="k16" d="M231.3,595.2 232.4,598.4 236.2,599.4zM231.3,595.2 236.2,599.4 237.5,599.8 236.4,596.6z"/>
<path class="m" d="M231.3,595.2 232.7,599.4 237.8,600.8 236.4,596.6z"/>
<path class="k16" d="M230.8,593 231.3,595.2 236.4,596.6 233.9,593.9zM233.9,593.9 236.4,596.6 235.9,594.4z"/>
<path class="k17" d="M230,589.8 230.8,593 233.9,593.9zM230,589.8 233.9,593.9 235.9,594.4 235.2,591.2z"/>
<path class="m" d="M230,589.8 231.3,595.2 236.4,596.6 235.2,591.2z"/>
<path class="k17" d="M229.7,587.6 230,589.8 235.2,591.2 233.2,588.6zM233.2,588.6 235.2,591.2 234.8,589z"/>
<path class="k18" d="M228.8,582.8 229.7,587.6 233.2,588.6zM228.8,582.8 233.2,588.6 234.8,589 233.9,584.2z"/>
<path class="m" d="M228.8,582.8 230,589.8 235.2,591.2 233.9,584.2z"/>
<path class="k18" d="M228.8,582.2 228.8,582.8 233.9,584.2 233.6,583.5zM233.6,583.5 233.9,584.2 233.9,583.6z"/>
<path class="k19" d="M228.1,576.8 228.8,582.2 233.6,583.5 230.6,577.4zM230.6,577.4 233.6,583.5 233.9,583.6 233.2,578.2z"/>
<path class="k20" d="M227.5,571.3 228.1,576.8 230.6,577.4zM227.5,571.3 230.6,577.4 233.2,578.2 232.6,572.7z"/>
<path class="m" d="M227.5,571.3 228.8,582.8 233.9,584.2 232.6,572.7z"/>
<path class="k20" d="M227.5,571.3 227.5,571.3 232.6,572.7 232.6,572.7zM232.6,572.7 232.6,572.7 232.6,572.7z"/>
<path class="k21" d="M226.9,565.8 227.5,571.3 232.6,572.7 230.4,566.8zM230.4,566.8 232.6,572.7 232.6,572.7 232,567.2z"/>
<path class="k22" d="M226.3,560.4 226.9,565.8 230.4,566.8 228.2,560.9zM228.2,560.9 230.4,566.8 232,567.2 231.4,561.8z"/>
<path class="k23" d="M225.7,554.9 226.3,560.4 228.2,560.9 226,555zM226,555 228.2,560.9 231.4,561.8 230.8,556.3z"/>
<path class="k24" d="M225.6,553.9 225.7,554.9 226,555zM225.6,553.9 226,555 230.8,556.3 230.7,555.3z"/>
<path class="m" d="M225.6,553.9 227.5,571.3 232.6,572.7 230.7,555.3z"/>
<path class="k24" d="M225.1,549.5 225.6,553.9 230.7,555.3 229.2,550.6zM229.2,550.6 230.7,555.3 230.2,550.9z"/>
<path class="k25" d="M224.4,544 225.1,549.5 229.2,550.6 227.4,544.8zM227.4,544.8 229.2,550.6 230.2,550.9 229.5,545.4z"/>
<path class="k26" d="M223.8,538.6 224.4,544 227.4,544.8 225.6,539.1zM225.6,539.1 227.4,544.8 229.5,545.4 228.9,540z"/>
<path class="k27" d="M223.1,533.1 223.8,538.6 225.6,539.1 223.8,533.3zM223.8,533.3 225.6,539.1 228.9,540 228.2,534.5z"/>
<path class="k28" d="M222.7,529.8 223.1,533.1 223.8,533.3zM222.7,529.8 223.8,533.3 228.2,534.5 227.8,531.2z"/>
<path class="m" d="M222.7,529.8 225.6,553.9 230.7,555.3 227.8,531.2z"/>
<path class="e" d="M222.7,529.8 227.8,531.2"/>
<path class="k21" d="M419,550.8 442.9,546.9 448,548.3 424.1,552.2z"/>
<path class="m" d="M419,550.8 442.9,546.9 448,548.3 424.1,552.2z"/>
<path class="k20" d="M395.1,555.6 414.4,551.7 418.5,552.8zM395.1,555.6 418.5,552.8 419.5,553.1 400.2,557z"/>
<path class="k21" d="M414.4,551.7 419,550.8 424.1,552.2 418.5,552.8zM418.5,552.8 424.1,552.2 419.5,553.1z"/>
<path class="m" d="M395.1,555.6 419,550.8 424.1,552.2 400.2,557z"/>
<path class="k20" d="M371.2,560.4 395.1,555.6 400.2,557 376.3,561.8z"/>
<path class="m" d="M371.2,560.4 395.1,555.6 400.2,557 376.3,561.8z"/>
<path class="k19" d="M347.3,565.3 350.5,564.6 351.2,564.8zM347.3,565.3 351.2,564.8 355.7,566 352.4,566.7z"/>
<path class="k20" d="M350.5,564.6 371.2,560.4 376.3,561.8 351.2,564.8zM351.2,564.8 376.3,561.8 355.7,566z"/>
<path class="m" d="M347.3,565.3 371.2,560.4 376.3,561.8 352.4,566.7z"/>
<path class="k19" d="M323.4,570.7 347.3,565.3 352.4,566.7 328.5,572.1z"/>
<path class="m" d="M323.4,570.7 347.3,565.3 352.4,566.7 328.5,572.1z"/>
<path class="k18" d="M299.5,577.5 308,575.1 309.8,575.5zM299.5,577.5 309.8,575.5 313.1,576.5 304.6,578.9z"/>
<path class="k19" d="M308,575.1 323.4,570.7 328.5,572.1 309.8,575.5zM309.8,575.5 328.5,572.1 313.1,576.5z"/>
<path class="m" d="M299.5,577.5 323.4,570.7 328.5,572.1 304.6,578.9z"/>
<path class="k18" d="M287.6,581.6 299.5,577.5 304.6,578.9 292.7,583z"/>
<path class="m" d="M287.6,581.6 299.5,577.5 304.6,578.9 292.7,583z"/>
<path class="k17" d="M275.6,586.6 283.2,583.4 286.4,584.3zM275.6,586.6 286.4,584.3 288.3,584.8 280.7,588z"/>
<path class="k18" d="M283.2,583.4 287.6,581.6 292.7,583 286.4,584.3zM286.4,584.3 292.7,583 288.3,584.8z"/>
<path class="m" d="M275.6,586.6 287.6,581.6 292.7,583 280.7,588z"/>
<path class="k17" d="M266.1,590.7 275.6,586.6 280.7,588 271.2,592.1z"/>
<path class="m" d="M266.1,590.7 275.6,586.6 280.7,588 271.2,592.1z"/>
<path class="k16" d="M256.5,595.6 265.5,591 270.4,592.3zM256.5,595.6 270.4,592.3 270.6,592.4 261.6,597z"/>
<path class="k17" d="M265.5,591 266.1,590.7 271.2,592.1 270.4,592.3zM270.4,592.3 271.2,592.1 270.6,592.4z"/>
<path class="m" d="M256.5,595.6 266.1,590.7 271.2,592.1 261.6,597z"/>
<path class="k13" d="M244.1,610.1 244.3,610.2 249.4,611.6 249,611.4zM249,611.4 249.4,611.6 249.2,611.5z"/>
<path class="k14" d="M241.5,608.2 244.1,610.1 249,611.4zM241.5,608.2 249,611.4 249.2,611.5 246.6,609.6z"/>
<path class="m" d="M241.5,608.2 244.3,610.2 249.4,611.6 246.6,609.6z"/>
<path class="k14" d="M239.7,605.1 241.5,608.2 246.6,609.6 244.8,606.5z"/>
<path class="m" d="M239.7,605.1 241.5,608.2 246.6,609.6 244.8,606.5z"/>
<path class="k14" d="M239.7,605.1 239.7,605.1 244.8,606.5 244.8,606.5zM244.8,606.5 244.8,606.5 244.8,606.5z"/>
<path class="k15" d="M237.8,600.8 239.7,605.1 244.8,606.5zM237.8,600.8 244.8,606.5 244.8,606.5 242.9,602.2z"/>
<path class="m" d="M237.8,600.8 239.7,605.1 244.8,606.5 242.9,602.2z"/>
<path class="k15" d="M237.5,599.8 237.8,600.8 242.9,602.2 241.3,600.8zM241.3,600.8 242.9,602.2 242.6,601.2z"/>
<path class="k16" d="M236.4,596.6 237.5,599.8 241.3,600.8zM236.4,596.6 241.3,600.8 242.6,601.2 241.6,598z"/>
<path class="m" d="M236.4,596.6 237.8,600.8 242.9,602.2 241.6,598z"/>
<path class="k16" d="M235.9,594.4 236.4,596.6 241.6,598 239,595.3zM239,595.3 241.6,598 241,595.8z"/>
<path class="k17" d="M235.2,591.2 235.9,594.4 239,595.3zM235.2,591.2 239,595.3 241,595.8 240.3,592.6z"/>
<path class="m" d="M235.2,591.2 236.4,596.6 241.6,598 240.3,592.6z"/>
<path class="k17" d="M234.8,589 235.2,591.2 240.3,592.6 238.3,590zM238.3,590 240.3,592.6 239.9,590.4z"/>
<path class="k18" d="M233.9,584.2 234.8,589 238.3,590zM233.9,584.2 238.3,590 239.9,590.4 239,585.6z"/>
<path class="m" d="M233.9,584.2 235.2,591.2 240.3,592.6 239,585.6z"/>
<path class="k18" d="M233.9,583.6 233.9,584.2 239,585.6 238.7,584.9zM238.7,584.9 239,585.6 239,585z"/>
<path class="k19" d="M233.2,578.2 233.9,583.6 238.7,584.9 235.7,578.8zM235.7,578.8 238.7,584.9 239,585 238.3,579.6z"/>
<path class="k20" d="M232.6,572.7 233.2,578.2 235.7,578.8zM232.6,572.7 235.7,578.8 238.3,579.6 237.7,574.1z"/>
<path class="m" d="M232.6,572.7 233.9,584.2 239,585.6 237.7,574.1z"/>
<path class="k20" d="M232.6,572.7 232.6,572.7 237.7,574.1 237.7,574.1zM237.7,574.1 237.7,574.1 237.7,574.1z"/>
<path class="k21" d="M232,567.2 232.6,572.7 237.7,574.1 235.5,568.2zM235.5,568.2 237.7,574.1 237.7,574.1 237.1,568.6z"/>
<path class="k22" d="M231.4,561.8 232,567.2 235.5,568.2 233.3,562.3zM233.3,562.3 235.5,568.2 237.1,568.6 236.5,563.2z"/>
<path class="k23" d="M230.8,556.3 231.4,561.8 233.3,562.3 231.1,556.4zM231.1,556.4 233.3,562.3 236.5,563.2 235.9,557.7z"/>
<path class="k24" d="M230.7,555.3 230.8,556.3 231.1,556.4zM230.7,555.3 231.1,556.4 235.9,557.7 235.8,556.7z"/>
<path class="m" d="M230.7,555.3 232.6,572.7 237.7,574.1 235.8,556.7z"/>
<path class="k24" d="M230.2,550.9 230.7,555.3 235.8,556.7 234.3,552zM234.3,552 235.8,556.7 235.3,552.3z"/>
<path class="k25" d="M229.5,545.4 230.2,550.9 234.3,552 232.5,546.2zM232.5,546.2 234.3,552 235.3,552.3 234.6,546.8z"/>
<path class="k26" d="M228.9,540 229.5,545.4 232.5,546.2 230.7,540.5zM230.7,540.5 232.5,546.2 234.6,546.8 234,541.4z"/>
<path class="k27" d="M228.2,534.5 228.9,540 230.7,540.5 228.9,534.7zM228.9,534.7 230.7,540.5 234,541.4 233.3,535.9z"/>
<path class="k28" d="M227.8,531.2 228.2,534.5 228.9,534.7zM227.8,531.2 228.9,534.7 233.3,535.9 232.9,532.6z"/>
<path class="m" d="M227.8,531.2 230.7,555.3 235.8,556.7 232.9,532.6z"/>
<path class="e" d="M227.8,531.2 232.9,532.6"/>
<path class="k21" d="M424.1,552.2 448,548.3 453.1,549.7 429.2,553.6z"/>
<path class="m" d="M424.1,552.2 448,548.3 453.1,549.7 429.2,553.6z"/>
<path class="k20" d="M400.2,557 419.5,553.1 423.6,554.2zM400.2,557 423.6,554.2 424.6,554.5 405.3,558.4z"/>
<path class="k21" d="M419.5,553.1 424.1,552.2 429.2,553.6 423.6,554.2zM423.6,554.2 429.2,553.6 424.6,554.5z"/>
<path class="m" d="M400.2,557 424.1,552.2 429.2,553.6 405.3,558.4z"/>
<path class="k20" d="M376.3,561.8 400.2,557 405.3,558.4 381.4,563.2z"/>
<path class="m" d="M376.3,561.8 400.2,557 405.3,558.4 381.4,563.2z"/>
<path class="k19" d="M352.4,566.7 355.7,566 356.4,566.2zM352.4,566.7 356.4,566.2 360.8,567.4 357.5,568.1z"/>
<path class="k20" d="M355.7,566 376.3,561.8 381.4,563.2 356.4,566.2zM356.4,566.2 381.4,563.2 360.8,567.4z"/>
<path class="m" d="M352.4,566.7 376.3,561.8 381.4,563.2 357.5,568.1z"/>
<path class="k19" d="M328.5,572.1 352.4,566.7 357.5,568.1 333.6,573.5z"/>
<path class="m" d="M328.5,572.1 352.4,566.7 357.5,568.1 333.6,573.5z"/>
<path class="k18" d="M304.6,578.9 313.1,576.5 314.9,576.9zM304.6,578.9 314.9,576.9 318.2,577.9 309.7,580.3z"/>
<path class="k19" d="M313.1,576.5 328.5,572.1 333.6,573.5 314.9,576.9zM314.9,576.9 333.6,573.5 318.2,577.9z"/>
<path class="m" d="M304.6,578.9 328.5,572.1 333.6,573.5 309.7,580.3z"/>
<path class="k18" d="M292.7,583 304.6,578.9 309.7,580.3 297.8,584.4z"/>
<path class="m" d="M292.7,583 304.6,578.9 309.7,580.3 297.8,584.4z"/>
<path class="k17" d="M280.7,588 288.3,584.8 291.5,585.7zM280.7,588 291.5,585.7 293.4,586.2 285.8,589.4z"/>
<path class="k18" d="M288.3,584.8 292.7,583 297.8,584.4 291.5,585.7zM291.5,585.7 297.8,584.4 293.4,586.2z"/>
<path class="m" d="M280.7,588 292.7,583 297.8,584.4 285.8,589.4z"/>
<path class="k17" d="M271.2,592.1 280.7,588 285.8,589.4 276.3,593.5z"/>
<path class="m" d="M271.2,592.1 280.7,588 285.8,589.4 276.3,593.5z"/>
<path class="k16" d="M261.6,597 270.6,592.4 275.5,593.7zM261.6,597 275.5,593.7 275.7,593.8 266.7,598.4z"/>
<path class="k17" d="M270.6,592.4 271.2,592.1 276.3,593.5 275.5,593.7zM275.5,593.7 276.3,593.5 275.7,593.8z"/>
<path class="m" d="M261.6,597 271.2,592.1 276.3,593.5 266.7,598.4z"/>
<path class="k13" d="M249.2,611.5 249.4,611.6 254.5,613 254.1,612.8zM254.1,612.8 254.5,613 254.3,612.9z"/>
<path class="k14" d="M246.6,609.6 249.2,611.5 254.1,612.8zM246.6,609.6 254.1,612.8 254.3,612.9 251.7,611z"/>
<path class="m" d="M246.6,609.6 249.4,611.6 254.5,613 251.7,611z"/>
<path class="k14" d="M244.8,606.5 246.6,609.6 251.7,611 249.9,607.9z"/>
<path class="m" d="M244.8,606.5 246.6,609.6 251.7,611 249.9,607.9z"/>
<path class="k14" d="M244.8,606.5 244.8,606.5 249.9,607.9 249.9,607.9zM249.9,607.9 249.9,607.9 249.9,607.9z"/>
<path class="k15" d="M242.9,602.2 244.8,606.5 249.9,607.9zM242.9,602.2 249.9,607.9 249.9,607.9 248,603.6z"/>
<path class="m" d="M242.9,602.2 244.8,606.5 249.9,607.9 248,603.6z"/>
<path class="k15" d="M242.6,601.2 242.9,602.2 248,603.6 246.4,602.2zM246.4,602.2 248,603.6 247.7,602.6z"/>
<path class="k16" d="M241.6,598 242.6,601.2 246.4,602.2zM241.6,598 246.4,602.2 247.7,602.6 246.7,599.4z"/>
<path class="m" d="M241.6,598 242.9,602.2 248,603.6 246.7,599.4z"/>
<path class="k16" d="M241,595.8 241.6,598 246.7,599.4 244.1,596.7zM244.1,596.7 246.7,599.4 246.1,597.2z"/>
<path class="k17" d="M240.3,592.6 241,595.8 244.1,596.7zM240.3,592.6 244.1,596.7 246.1,597.2 245.4,594z"/>
<path class="m" d="M240.3,592.6 241.6,598 246.7,599.4 245.4,594z"/>
<path class="k17" d="M239.9,590.4 240.3,592.6 245.4,594 243.4,591.4zM243.4,591.4 245.4,594 245,591.8z"/>
<path class="k18" d="M239,585.6 239.9,590.4 243.4,591.4zM239,585.6 243.4,591.4 245,591.8 244.1,587z"/>
<path class="m" d="M239,585.6 240.3,592.6 245.4,594 244.1,587z"/>
<path class="k18" d="M239,585 239,585.6 244.1,587 243.8,586.3zM243.8,586.3 244.1,587 244.1,586.4z"/>
<path class="k19" d="M238.3,579.6 239,585 243.8,586.3 240.8,580.2zM240.8,580.2 243.8,586.3 244.1,586.4 243.4,581z"/>
<path class="k20" d="M237.7,574.1 238.3,579.6 240.8,580.2zM237.7,574.1 240.8,580.2 243.4,581 242.8,575.5z"/>
<path class="m" d="M237.7,574.1 239,585.6 244.1,587 242.8,575.5z"/>
<path class="k20" d="M237.7,574.1 237.7,574.1 242.8,575.5 242.8,575.5zM242.8,575.5 242.8,575.5 242.8,575.5z"/>
<path class="k21" d="M237.1,568.6 237.7,574.1 242.8,575.5 240.6,569.6zM240.6,569.6 242.8,575.5 242.8,575.5 242.2,570z"/>
<path class="k22" d="M236.5,563.2 237.1,568.6 240.6,569.6 238.4,563.7zM238.4,563.7 240.6,569.6 242.2,570 241.6,564.6z"/>
<path class="k23" d="M235.9,557.7 236.5,563.2 238.4,563.7 236.2,557.8zM236.2,557.8 238.4,563.7 241.6,564.6 241,559.1z"/>
<path class="k24" d="M235.8,556.7 235.9,557.7 236.2,557.8zM235.8,556.7 236.2,557.8 241,559.1 240.9,558.1z"/>
<path class="m" d="M235.8,556.7 237.7,574.1 242.8,575.5 240.9,558.1z"/>
<path class="k24" d="M235.3,552.3 235.8,556.7 240.9,558.1 239.4,553.4zM239.4,553.4 240.9,558.1 240.4,553.7z"/>
<path class="k25" d="M234.6,546.8 235.3,552.3 239.4,553.4 237.6,547.6zM237.6,547.6 239.4,553.4 240.4,553.7 239.7,548.2z"/>
<path class="k26" d="M234,541.4 234.6,546.8 237.6,547.6 235.8,541.9zM235.8,541.9 237.6,547.6 239.7,548.2 239.1,542.8z"/>
<path class="k27" d="M233.3,535.9 234,541.4 235.8,541.9 234,536.1zM234,536.1 235.8,541.9 239.1,542.8 238.4,537.3z"/>
<path class="k28" d="M232.9,532.6 233.3,535.9 234,536.1zM232.9,532.6 234,536.1 238.4,537.3 238.1,534z"/>
<path class="m" d="M232.9,532.6 235.8,556.7 240.9,558.1 238.1,534z"/>
<path class="e" d="M232.9,532.6 238.1,534"/>
<path class="k21" d="M429.2,553.6 453.1,549.7 458.2,551.1 434.3,555z"/>
<path class="m" d="M429.2,553.6 453.1,549.7 458.2,551.1 434.3,555z"/>
<path class="k20" d="M405.3,558.4 424.6,554.5 428.8,555.6zM405.3,558.4 428.8,555.6 429.7,555.9 410.4,559.8z"/>
<path class="k21" d="M424.6,554.5 429.2,553.6 434.3,555 428.8,555.6zM428.8,555.6 434.3,555 429.7,555.9z"/>
<path class="m" d="M405.3,558.4 429.2,553.6 434.3,555 410.4,559.8z"/>
<path class="k20" d="M381.4,563.2 405.3,558.4 410.4,559.8 386.5,564.6z"/>
<path class="m" d="M381.4,563.2 405.3,558.4 410.4,559.8 386.5,564.6z"/>
<path class="k19" d="M357.5,568.1 360.8,567.4 361.5,567.6zM357.5,568.1 361.5,567.6 365.9,568.8 362.6,569.5z"/>
<path class="k20" d="M360.8,567.4 381.4,563.2 386.5,564.6 361.5,567.6zM361.5,567.6 386.5,564.6 365.9,568.8z"/>
<path class="m" d="M357.5,568.1 381.4,563.2 386.5,564.6 362.6,569.5z"/>
<path class="k19" d="M333.6,573.5 357.5,568.1 362.6,569.5 338.7,574.9z"/>
<path class="m" d="M333.6,573.5 357.5,568.1 362.6,569.5 338.7,574.9z"/>
<path class="k18" d="M309.7,580.3 318.2,577.9 320,578.3zM309.7,580.3 320,578.3 323.3,579.3 314.8,581.7z"/>
<path class="k19" d="M318.2,577.9 333.6,573.5 338.7,574.9 320,578.3zM320,578.3 338.7,574.9 323.3,579.3z"/>
<path class="m" d="M309.7,580.3 333.6,573.5 338.7,574.9 314.8,581.7z"/>
<path class="k18" d="M297.8,584.4 309.7,580.3 314.8,581.7 302.9,585.8z"/>
<path class="m" d="M297.8,584.4 309.7,580.3 314.8,581.7 302.9,585.8z"/>
<path class="k17" d="M285.8,589.4 293.4,586.2 296.6,587.1zM285.8,589.4 296.6,587.1 298.5,587.6 290.9,590.8z"/>
<path class="k18" d="M293.4,586.2 297.8,584.4 302.9,585.8 296.6,587.1zM296.6,587.1 302.9,585.8 298.5,587.6z"/>
<path class="m" d="M285.8,589.4 297.8,584.4 302.9,585.8 290.9,590.8z"/>
<path class="k17" d="M276.3,593.5 285.8,589.4 290.9,590.8 281.4,594.9z"/>
<path class="m" d="M276.3,593.5 285.8,589.4 290.9,590.8 281.4,594.9z"/>
<path class="k16" d="M266.7,598.4 275.7,593.8 280.6,595.1zM266.7,598.4 280.6,595.1 280.9,595.2 271.8,599.8z"/>
<path class="k17" d="M275.7,593.8 276.3,593.5 281.4,594.9 280.6,595.1zM280.6,595.1 281.4,594.9 280.9,595.2z"/>
<path class="m" d="M266.7,598.4 276.3,593.5 281.4,594.9 271.8,599.8z"/>
<path class="k15" d="M261.9,602.6 264.1,600.7 266.4,601.3zM261.9,602.6 266.4,601.3 269.2,602.1 267.1,604z"/>
<path class="k16" d="M264.1,600.7 266.7,598.4 271.8,599.8 266.4,601.3zM266.4,601.3 271.8,599.8 269.2,602.1z"/>
<path class="m" d="M261.9,602.6 266.7,598.4 271.8,599.8 267.1,604z"/>
<path class="k13" d="M254.3,612.9 254.5,613 259.6,614.4 259.2,614.2zM259.2,614.2 259.6,614.4 259.4,614.3z"/>
<path class="k14" d="M251.7,611 254.3,612.9 259.2,614.2zM251.7,611 259.2,614.2 259.4,614.3 256.8,612.4z"/>
<path class="m" d="M251.7,611 254.5,613 259.6,614.4 256.8,612.4z"/>
<path class="k14" d="M249.9,607.9 251.7,611 256.8,612.4 255,609.3z"/>
<path class="m" d="M249.9,607.9 251.7,611 256.8,612.4 255,609.3z"/>
<path class="k14" d="M249.9,607.9 249.9,607.9 255,609.3 255,609.3zM255,609.3 255,609.3 255,609.3z"/>
<path class="k15" d="M248,603.6 249.9,607.9 255,609.3zM248,603.6 255,609.3 255,609.3 253.1,605z"/>
<path class="m" d="M248,603.6 249.9,607.9 255,609.3 253.1,605z"/>
<path class="k15" d="M247.7,602.6 248,603.6 253.1,605 251.5,603.6zM251.5,603.6 253.1,605 252.8,604z"/>
<path class="k16" d="M246.7,599.4 247.7,602.6 251.5,603.6zM246.7,599.4 251.5,603.6 252.8,604 251.8,600.8z"/>
<path class="m" d="M246.7,599.4 248,603.6 253.1,605 251.8,600.8z"/>
<path class="k16" d="M246.1,597.2 246.7,599.4 251.8,600.8 249.2,598.1zM249.2,598.1 251.8,600.8 251.2,598.6z"/>
<path class="k17" d="M245.4,594 246.1,597.2 249.2,598.1zM245.4,594 249.2,598.1 251.2,598.6 250.5,595.4z"/>
<path class="m" d="M245.4,594 246.7,599.4 251.8,600.8 250.5,595.4z"/>
<path class="k17" d="M245,591.8 245.4,594 250.5,595.4 248.5,592.8zM248.5,592.8 250.5,595.4 250.1,593.2z"/>
<path class="k18" d="M244.1,587 245,591.8 248.5,592.8zM244.1,587 248.5,592.8 250.1,593.2 249.3,588.4z"/>
<path class="m" d="M244.1,587 245.4,594 250.5,595.4 249.3,588.4z"/>
<path class="k18" d="M244.1,586.4 244.1,587 249.3,588.4 248.9,587.7zM248.9,587.7 249.3,588.4 249.2,587.8z"/>
<path class="k19" d="M243.4,581 244.1,586.4 248.9,587.7 245.9,581.6zM245.9,581.6 248.9,587.7 249.2,587.8 248.6,582.4z"/>
<path class="k20" d="M242.8,575.5 243.4,581 245.9,581.6zM242.8,575.5 245.9,581.6 248.6,582.4 247.9,576.9z"/>
<path class="m" d="M242.8,575.5 244.1,587 249.3,588.4 247.9,576.9z"/>
<path class="k20" d="M242.8,575.5 242.8,575.5 247.9,576.9 247.9,576.9zM247.9,576.9 247.9,576.9 247.9,576.9z"/>
<path class="k21" d="M242.2,570 242.8,575.5 247.9,576.9 245.7,571zM245.7,571 247.9,576.9 247.9,576.9 247.3,571.4z"/>
<path class="k22" d="M241.6,564.6 242.2,570 245.7,571 243.5,565.1zM243.5,565.1 245.7,571 247.3,571.4 246.7,566z"/>
<path class="k23" d="M241,559.1 241.6,564.6 243.5,565.1 241.3,559.2zM241.3,559.2 243.5,565.1 246.7,566 246.1,560.5z"/>
<path class="k24" d="M240.9,558.1 241,559.1 241.3,559.2zM240.9,558.1 241.3,559.2 246.1,560.5 246,559.5z"/>
<path class="m" d="M240.9,558.1 242.8,575.5 247.9,576.9 246,559.5z"/>
<path class="k24" d="M240.4,553.7 240.9,558.1 246,559.5 244.6,554.8zM244.6,554.8 246,559.5 245.5,555.1z"/>
<path class="k25" d="M239.7,548.2 240.4,553.7 244.6,554.8 242.7,549zM242.7,549 244.6,554.8 245.5,555.1 244.8,549.6z"/>
<path class="k26" d="M239.1,542.8 239.7,548.2 242.7,549 240.9,543.3zM240.9,543.3 242.7,549 244.8,549.6 244.2,544.2z"/>
<path class="k27" d="M238.4,537.3 239.1,542.8 240.9,543.3 239.1,537.5zM239.1,537.5 240.9,543.3 244.2,544.2 243.6,538.7z"/>
<path class="k28" d="M238.1,534 238.4,537.3 239.1,537.5zM238.1,534 239.1,537.5 243.6,538.7 243.2,535.4z"/>
<path class="m" d="M238.1,534 240.9,558.1 246,559.5 243.2,535.4z"/>
<path class="e" d="M238.1,534 243.2,535.4"/>
<path class="k21" d="M434.3,555 458.2,551.1 463.3,552.5 439.4,556.4z"/>
<path class="m" d="M434.3,555 458.2,551.1 463.3,552.5 439.4,556.4z"/>
<path class="k20" d="M410.4,559.8 429.7,555.9 433.9,557zM410.4,559.8 433.9,557 434.8,557.3 415.5,561.2z"/>
<path class="k21" d="M429.7,555.9 434.3,555 439.4,556.4 433.9,557zM433.9,557 439.4,556.4 434.8,557.3z"/>
<path class="m" d="M410.4,559.8 434.3,555 439.4,556.4 415.5,561.2z"/>
<path class="k20" d="M386.5,564.6 410.4,559.8 415.5,561.2 391.6,566z"/>
<path class="m" d="M386.5,564.6 410.4,559.8 415.5,561.2 391.6,566z"/>
<path class="k19" d="M362.6,569.5 365.9,568.8 366.6,569zM362.6,569.5 366.6,569 371,570.2 367.7,570.9z"/>
<path class="k20" d="M365.9,568.8 386.5,564.6 391.6,566 366.6,569zM366.6,569 391.6,566 371,570.2z"/>
<path class="m" d="M362.6,569.5 386.5,564.6 391.6,566 367.7,570.9z"/>
<path class="k19" d="M338.7,574.9 362.6,569.5 367.7,570.9 343.8,576.3z"/>
<path class="m" d="M338.7,574.9 362.6,569.5 367.7,570.9 343.8,576.3z"/>
<path class="k18" d="M314.8,581.7 323.3,579.3 325.1,579.7zM314.8,581.7 325.1,579.7 328.4,580.7 319.9,583.1z"/>
<path class="k19" d="M323.3,579.3 338.7,574.9 343.8,576.3 325.1,579.7zM325.1,579.7 343.8,576.3 328.4,580.7z"/>
<path class="m" d="M314.8,581.7 338.7,574.9 343.8,576.3 319.9,583.1z"/>
<path class="k18" d="M302.9,585.8 314.8,581.7 319.9,583.1 308,587.2z"/>
<path class="m" d="M302.9,585.8 314.8,581.7 319.9,583.1 308,587.2z"/>
<path class="k17" d="M290.9,590.8 298.5,587.6 301.7,588.5zM290.9,590.8 301.7,588.5 303.6,589 296.1,592.2z"/>
<path class="k18" d="M298.5,587.6 302.9,585.8 308,587.2 301.7,588.5zM301.7,588.5 308,587.2 303.6,589z"/>
<path class="m" d="M290.9,590.8 302.9,585.8 308,587.2 296.1,592.2z"/>
<path class="k17" d="M281.4,594.9 290.9,590.8 296.1,592.2 286.5,596.3z"/>
<path class="m" d="M281.4,594.9 290.9,590.8 296.1,592.2 286.5,596.3z"/>
<path class="k16" d="M271.8,599.8 280.9,595.2 285.7,596.5zM271.8,599.8 285.7,596.5 286,596.6 276.9,601.2z"/>
<path class="k17" d="M280.9,595.2 281.4,594.9 286.5,596.3 285.7,596.5zM285.7,596.5 286.5,596.3 286,596.6z"/>
<path class="m" d="M271.8,599.8 281.4,594.9 286.5,596.3 276.9,601.2z"/>
<path class="k15" d="M267.1,604 269.2,602.1 271.5,602.7zM267.1,604 271.5,602.7 274.3,603.5 272.2,605.4z"/>
<path class="k16" d="M269.2,602.1 271.8,599.8 276.9,601.2 271.5,602.7zM271.5,602.7 276.9,601.2 274.3,603.5z"/>
<path class="m" d="M267.1,604 271.8,599.8 276.9,601.2 272.2,605.4z"/>
<path class="k13" d="M259.4,614.3 259.6,614.4 264.7,615.8 264.3,615.6zM264.3,615.6 264.7,615.8 264.6,615.7z"/>
<path class="k14" d="M256.8,612.4 259.4,614.3 264.3,615.6zM256.8,612.4 264.3,615.6 264.6,615.7 261.9,613.8z"/>
<path class="m" d="M256.8,612.4 259.6,614.4 264.7,615.8 261.9,613.8z"/>
<path class="k14" d="M255,609.3 256.8,612.4 261.9,613.8 260.1,610.7z"/>
<path class="m" d="M255,609.3 256.8,612.4 261.9,613.8 260.1,610.7z"/>
<path class="k14" d="M255,609.3 255,609.3 260.1,610.7 260.1,610.7zM260.1,610.7 260.1,610.7 260.1,610.7z"/>
<path class="k15" d="M253.1,605 255,609.3 260.1,610.7zM253.1,605 260.1,610.7 260.1,610.7 258.3,606.4z"/>
<path class="m" d="M253.1,605 255,609.3 260.1,610.7 258.3,606.4z"/>
<path class="k15" d="M252.8,604 253.1,605 258.3,606.4 256.7,605zM256.7,605 258.3,606.4 257.9,605.4z"/>
<path class="k16" d="M251.8,600.8 252.8,604 256.7,605zM251.8,600.8 256.7,605 257.9,605.4 256.9,602.2z"/>
<path class="m" d="M251.8,600.8 253.1,605 258.3,606.4 256.9,602.2z"/>
<path class="k16" d="M251.2,598.6 251.8,600.8 256.9,602.2 254.3,599.5zM254.3,599.5 256.9,602.2 256.4,600z"/>
<path class="k17" d="M250.5,595.4 251.2,598.6 254.3,599.5zM250.5,595.4 254.3,599.5 256.4,600 255.6,596.8z"/>
<path class="m" d="M250.5,595.4 251.8,600.8 256.9,602.2 255.6,596.8z"/>
<path class="k17" d="M250.1,593.2 250.5,595.4 255.6,596.8 253.6,594.2zM253.6,594.2 255.6,596.8 255.2,594.6z"/>
<path class="k18" d="M249.3,588.4 250.1,593.2 253.6,594.2zM249.3,588.4 253.6,594.2 255.2,594.6 254.4,589.8z"/>
<path class="m" d="M249.3,588.4 250.5,595.4 255.6,596.8 254.4,589.8z"/>
<path class="k18" d="M249.2,587.8 249.3,588.4 254.4,589.8 254,589.1zM254,589.1 254.4,589.8 254.3,589.2z"/>
<path class="k19" d="M248.6,582.4 249.2,587.8 254,589.1 251,583zM251,583 254,589.1 254.3,589.2 253.7,583.8z"/>
<path class="k20" d="M247.9,576.9 248.6,582.4 251,583zM247.9,576.9 251,583 253.7,583.8 253,578.3z"/>
<path class="m" d="M247.9,576.9 249.3,588.4 254.4,589.8 253,578.3z"/>
<path class="k20" d="M247.9,576.9 247.9,576.9 253,578.3 253,578.3zM253,578.3 253,578.3 253,578.3z"/>
<path class="k21" d="M247.3,571.4 247.9,576.9 253,578.3 250.8,572.4zM250.8,572.4 253,578.3 253,578.3 252.4,572.8z"/>
<path class="k22" d="M246.7,566 247.3,571.4 250.8,572.4 248.6,566.5zM248.6,566.5 250.8,572.4 252.4,572.8 251.8,567.4z"/>
<path class="k23" d="M246.1,560.5 246.7,566 248.6,566.5 246.4,560.6zM246.4,560.6 248.6,566.5 251.8,567.4 251.2,561.9z"/>
<path class="k24" d="M246,559.5 246.1,560.5 246.4,560.6zM246,559.5 246.4,560.6 251.2,561.9 251.1,560.9z"/>
<path class="m" d="M246,559.5 247.9,576.9 253,578.3 251.1,560.9z"/>
<path class="k24" d="M245.5,555.1 246,559.5 251.1,560.9 249.7,556.2zM249.7,556.2 251.1,560.9 250.6,556.5z"/>
<path class="k25" d="M244.8,549.6 245.5,555.1 249.7,556.2 247.9,550.4zM247.9,550.4 249.7,556.2 250.6,556.5 249.9,551z"/>
<path class="k26" d="M244.2,544.2 244.8,549.6 247.9,550.4 246.1,544.7zM246.1,544.7 247.9,550.4 249.9,551 249.3,545.6z"/>
<path class="k27" d="M243.6,538.7 244.2,544.2 246.1,544.7 244.2,538.9zM244.2,538.9 246.1,544.7 249.3,545.6 248.7,540.1z"/>
<path class="k28" d="M243.2,535.4 243.6,538.7 244.2,538.9zM243.2,535.4 244.2,538.9 248.7,540.1 248.3,536.8z"/>
<path class="m" d="M243.2,535.4 246,559.5 251.1,560.9 248.3,536.8z"/>
<path class="e" d="M243.2,535.4 248.3,536.8"/>
<path class="k21" d="M439.4,556.4 463.3,552.5 468.4,553.9 444.5,557.8z"/>
<path class="m" d="M439.4,556.4 463.3,552.5 468.4,553.9 444.5,557.8z"/>
<path class="k20" d="M415.5,561.2 434.8,557.3 439,558.4zM415.5,561.2 439,558.4 439.9,558.7 420.6,562.6z"/>
<path class="k21" d="M434.8,557.3 439.4,556.4 444.5,557.8 439,558.4zM439,558.4 444.5,557.8 439.9,558.7z"/>
<path class="m" d="M415.5,561.2 439.4,556.4 444.5,557.8 420.6,562.6z"/>
<path class="k20" d="M391.6,566 415.5,561.2 420.6,562.6 396.7,567.4z"/>
<path class="m" d="M391.6,566 415.5,561.2 420.6,562.6 396.7,567.4z"/>
<path class="k19" d="M367.7,570.9 371,570.2 371.7,570.4zM367.7,570.9 371.7,570.4 376.1,571.6 372.8,572.3z"/>
<path class="k20" d="M371,570.2 391.6,566 396.7,567.4 371.7,570.4zM371.7,570.4 396.7,567.4 376.1,571.6z"/>
<path class="m" d="M367.7,570.9 391.6,566 396.7,567.4 372.8,572.3z"/>
<path class="k19" d="M343.8,576.3 367.7,570.9 372.8,572.3 348.9,577.7z"/>
<path class="m" d="M343.8,576.3 367.7,570.9 372.8,572.3 348.9,577.7z"/>
<path class="k18" d="M319.9,583.1 328.4,580.7 330.2,581.1zM319.9,583.1 330.2,581.1 333.5,582.1 325,584.5z"/>
<path class="k19" d="M328.4,580.7 343.8,576.3 348.9,577.7 330.2,581.1zM330.2,581.1 348.9,577.7 333.5,582.1z"/>
<path class="m" d="M319.9,583.1 343.8,576.3 348.9,577.7 325,584.5z"/>
<path class="k18" d="M308,587.2 319.9,583.1 325,584.5 313.1,588.6z"/>
<path class="m" d="M308,587.2 319.9,583.1 325,584.5 313.1,588.6z"/>
<path class="k17" d="M296.1,592.2 303.6,589 306.8,589.9zM296.1,592.2 306.8,589.9 308.7,590.4 301.2,593.6z"/>
<path class="k18" d="M303.6,589 308,587.2 313.1,588.6 306.8,589.9zM306.8,589.9 313.1,588.6 308.7,590.4z"/>
<path class="m" d="M296.1,592.2 308,587.2 313.1,588.6 301.2,593.6z"/>
<path class="k17" d="M286.5,596.3 296.1,592.2 301.2,593.6 291.6,597.7z"/>
<path class="m" d="M286.5,596.3 296.1,592.2 301.2,593.6 291.6,597.7z"/>
<path class="k16" d="M276.9,601.2 286,596.6 290.8,597.9zM276.9,601.2 290.8,597.9 291.1,598 282,602.6z"/>
<path class="k17" d="M286,596.6 286.5,596.3 291.6,597.7 290.8,597.9zM290.8,597.9 291.6,597.7 291.1,598z"/>
<path class="m" d="M276.9,601.2 286.5,596.3 291.6,597.7 282,602.6z"/>
<path class="k15" d="M272.2,605.4 274.3,603.5 276.7,604.1zM272.2,605.4 276.7,604.1 279.4,604.9 277.3,606.8z"/>
<path class="k16" d="M274.3,603.5 276.9,601.2 282,602.6 276.7,604.1zM276.7,604.1 282,602.6 279.4,604.9z"/>
<path class="m" d="M272.2,605.4 276.9,601.2 282,602.6 277.3,606.8z"/>
<path class="k14" d="M269.1,609.8 269.2,609.6 269.4,609.7zM269.1,609.8 269.4,609.7 274.3,611 274.2,611.2z"/>
<path class="k15" d="M269.2,609.6 272.2,605.4 277.3,606.8 269.4,609.7zM269.4,609.7 277.3,606.8 274.3,611z"/>
<path class="m" d="M269.1,609.8 272.2,605.4 277.3,606.8 274.2,611.2z"/>
<path class="k13" d="M264.6,615.7 264.7,615.8 269.8,617.2 269.4,617zM269.4,617 269.8,617.2 269.7,617.1z"/>
<path class="k14" d="M261.9,613.8 264.6,615.7 269.4,617zM261.9,613.8 269.4,617 269.7,617.1 267,615.2z"/>
<path class="m" d="M261.9,613.8 264.7,615.8 269.8,617.2 267,615.2z"/>
<path class="k14" d="M260.1,610.7 261.9,613.8 267,615.2 265.2,612.1z"/>
<path class="m" d="M260.1,610.7 261.9,613.8 267,615.2 265.2,612.1z"/>
<path class="k14" d="M260.1,610.7 260.1,610.7 265.2,612.1 265.2,612.1zM265.2,612.1 265.2,612.1 265.2,612.1z"/>
<path class="k15" d="M258.3,606.4 260.1,610.7 265.2,612.1zM258.3,606.4 265.2,612.1 265.2,612.1 263.4,607.8z"/>
<path class="m" d="M258.3,606.4 260.1,610.7 265.2,612.1 263.4,607.8z"/>
<path class="k15" d="M257.9,605.4 258.3,606.4 263.4,607.8 261.8,606.4zM261.8,606.4 263.4,607.8 263,606.8z"/>
<path class="k16" d="M256.9,602.2 257.9,605.4 261.8,606.4zM256.9,602.2 261.8,606.4 263,606.8 262,603.6z"/>
<path class="m" d="M256.9,602.2 258.3,606.4 263.4,607.8 262,603.6z"/>
<path class="k16" d="M256.4,600 256.9,602.2 262,603.6 259.4,600.9zM259.4,600.9 262,603.6 261.5,601.4z"/>
<path class="k17" d="M255.6,596.8 256.4,600 259.4,600.9zM255.6,596.8 259.4,600.9 261.5,601.4 260.7,598.2z"/>
<path class="m" d="M255.6,596.8 256.9,602.2 262,603.6 260.7,598.2z"/>
<path class="k17" d="M255.2,594.6 255.6,596.8 260.7,598.2 258.7,595.6zM258.7,595.6 260.7,598.2 260.3,596z"/>
<path class="k18" d="M254.4,589.8 255.2,594.6 258.7,595.6zM254.4,589.8 258.7,595.6 260.3,596 259.5,591.2z"/>
<path class="m" d="M254.4,589.8 255.6,596.8 260.7,598.2 259.5,591.2z"/>
<path class="k18" d="M254.3,589.2 254.4,589.8 259.5,591.2 259.1,590.5zM259.1,590.5 259.5,591.2 259.4,590.6z"/>
<path class="k19" d="M253.7,583.8 254.3,589.2 259.1,590.5 256.1,584.4zM256.1,584.4 259.1,590.5 259.4,590.6 258.8,585.2z"/>
<path class="k20" d="M253,578.3 253.7,583.8 256.1,584.4zM253,578.3 256.1,584.4 258.8,585.2 258.1,579.7z"/>
<path class="m" d="M253,578.3 254.4,589.8 259.5,591.2 258.1,579.7z"/>
<path class="k20" d="M253,578.3 253,578.3 258.1,579.7 258.1,579.7zM258.1,579.7 258.1,579.7 258.1,579.7z"/>
<path class="k21" d="M252.4,572.8 253,578.3 258.1,579.7 255.9,573.8zM255.9,573.8 258.1,579.7 258.1,579.7 257.5,574.2z"/>
<path class="k22" d="M251.8,567.4 252.4,572.8 255.9,573.8 253.7,567.9zM253.7,567.9 255.9,573.8 257.5,574.2 256.9,568.8z"/>
<path class="k23" d="M251.2,561.9 251.8,567.4 253.7,567.9 251.5,562zM251.5,562 253.7,567.9 256.9,568.8 256.3,563.3z"/>
<path class="k24" d="M251.1,560.9 251.2,561.9 251.5,562zM251.1,560.9 251.5,562 256.3,563.3 256.2,562.3z"/>
<path class="m" d="M251.1,560.9 253,578.3 258.1,579.7 256.2,562.3z"/>
<path class="k24" d="M250.6,556.5 251.1,560.9 256.2,562.3 254.8,557.6zM254.8,557.6 256.2,562.3 255.7,557.9z"/>
<path class="k25" d="M249.9,551 250.6,556.5 254.8,557.6 253,551.8zM253,551.8 254.8,557.6 255.7,557.9 255.1,552.4z"/>
<path class="k26" d="M249.3,545.6 249.9,551 253,551.8 251.2,546.1zM251.2,546.1 253,551.8 255.1,552.4 254.4,547z"/>
<path class="k27" d="M248.7,540.1 249.3,545.6 251.2,546.1 249.4,540.3zM249.4,540.3 251.2,546.1 254.4,547 253.8,541.5z"/>
<path class="k28" d="M248.3,536.8 248.7,540.1 249.4,540.3zM248.3,536.8 249.4,540.3 253.8,541.5 253.4,538.2z"/>
<path class="m" d="M248.3,536.8 251.1,560.9 256.2,562.3 253.4,538.2z"/>
<path class="e" d="M248.3,536.8 253.4,538.2"/>
<path class="k21" d="M444.5,557.8 468.4,553.9 473.5,555.3 449.6,559.2z"/>
<path class="m" d="M444.5,557.8 468.4,553.9 473.5,555.3 449.6,559.2z"/>
<path class="k20" d="M420.6,562.6 439.9,558.7 444.1,559.8zM420.6,562.6 444.1,559.8 445,560.1 425.7,564z"/>
<path class="k21" d="M439.9,558.7 444.5,557.8 449.6,559.2 444.1,559.8zM444.1,559.8 449.6,559.2 445,560.1z"/>
<path class="m" d="M420.6,562.6 444.5,557.8 449.6,559.2 425.7,564z"/>
<path class="k20" d="M396.7,567.4 420.6,562.6 425.7,564 401.8,568.8z"/>
<path class="m" d="M396.7,567.4 420.6,562.6 425.7,564 401.8,568.8z"/>
<path class="k19" d="M372.8,572.3 376.1,571.6 376.8,571.8zM372.8,572.3 376.8,571.8 381.2,573 377.9,573.7z"/>
<path class="k20" d="M376.1,571.6 396.7,567.4 401.8,568.8 376.8,571.8zM376.8,571.8 401.8,568.8 381.2,573z"/>
<path class="m" d="M372.8,572.3 396.7,567.4 401.8,568.8 377.9,573.7z"/>
<path class="k19" d="M348.9,577.7 372.8,572.3 377.9,573.7 354,579.1z"/>
<path class="m" d="M348.9,577.7 372.8,572.3 377.9,573.7 354,579.1z"/>
<path class="k18" d="M325,584.5 333.5,582.1 335.3,582.5zM325,584.5 335.3,582.5 338.6,583.5 330.2,585.9z"/>
<path class="k19" d="M333.5,582.1 348.9,577.7 354,579.1 335.3,582.5zM335.3,582.5 354,579.1 338.6,583.5z"/>
<path class="m" d="M325,584.5 348.9,577.7 354,579.1 330.2,585.9z"/>
<path class="k18" d="M313.1,588.6 325,584.5 330.2,585.9 318.2,590z"/>
<path class="m" d="M313.1,588.6 325,584.5 330.2,585.9 318.2,590z"/>
<path class="k17" d="M301.2,593.6 308.7,590.4 311.9,591.3zM301.2,593.6 311.9,591.3 313.8,591.8 306.3,595z"/>
<path class="k18" d="M308.7,590.4 313.1,588.6 318.2,590 311.9,591.3zM311.9,591.3 318.2,590 313.8,591.8z"/>
<path class="m" d="M301.2,593.6 313.1,588.6 318.2,590 306.3,595z"/>
<path class="k17" d="M291.6,597.7 301.2,593.6 306.3,595 296.7,599.1z"/>
<path class="m" d="M291.6,597.7 301.2,593.6 306.3,595 296.7,599.1z"/>
<path class="k16" d="M282,602.6 291.1,598 295.9,599.3zM282,602.6 295.9,599.3 296.2,599.4 287.2,604z"/>
<path class="k17" d="M291.1,598 291.6,597.7 296.7,599.1 295.9,599.3zM295.9,599.3 296.7,599.1 296.2,599.4z"/>
<path class="m" d="M282,602.6 291.6,597.7 296.7,599.1 287.2,604z"/>
<path class="k15" d="M277.3,606.8 279.4,604.9 281.8,605.5zM277.3,606.8 281.8,605.5 284.5,606.3 282.4,608.2z"/>
<path class="k16" d="M279.4,604.9 282,602.6 287.2,604 281.8,605.5zM281.8,605.5 287.2,604 284.5,606.3z"/>
<path class="m" d="M277.3,606.8 282,602.6 287.2,604 282.4,608.2z"/>
<path class="k14" d="M274.2,611.2 274.3,611 274.5,611.1zM274.2,611.2 274.5,611.1 279.4,612.4 279.3,612.6z"/>
<path class="k15" d="M274.3,611 277.3,606.8 282.4,608.2 274.5,611.1zM274.5,611.1 282.4,608.2 279.4,612.4z"/>
<path class="m" d="M274.2,611.2 277.3,606.8 282.4,608.2 279.3,612.6z"/>
<path class="k14" d="M271.8,615.2 274.2,611.2 279.3,612.6 276.9,616.6z"/>
<path class="m" d="M271.8,615.2 274.2,611.2 279.3,612.6 276.9,616.6z"/>
<path class="k13" d="M269.7,617.1 269.8,617.2 274.9,618.6 274.5,618.4zM274.5,618.4 274.9,618.6 274.8,618.5z"/>
<path class="k14" d="M267,615.2 269.7,617.1 274.5,618.4zM267,615.2 274.5,618.4 274.8,618.5 272.1,616.6z"/>
<path class="m" d="M267,615.2 269.8,617.2 274.9,618.6 272.1,616.6z"/>
<path class="k14" d="M265.2,612.1 267,615.2 272.1,616.6 270.3,613.5z"/>
<path class="m" d="M265.2,612.1 267,615.2 272.1,616.6 270.3,613.5z"/>
<path class="k14" d="M265.2,612.1 265.2,612.1 270.3,613.5 270.3,613.5zM270.3,613.5 270.3,613.5 270.3,613.5z"/>
<path class="k15" d="M263.4,607.8 265.2,612.1 270.3,613.5zM263.4,607.8 270.3,613.5 270.3,613.5 268.5,609.2z"/>
<path class="m" d="M263.4,607.8 265.2,612.1 270.3,613.5 268.5,609.2z"/>
<path class="k15" d="M263,606.8 263.4,607.8 268.5,609.2 266.9,607.8zM266.9,607.8 268.5,609.2 268.1,608.2z"/>
<path class="k16" d="M262,603.6 263,606.8 266.9,607.8zM262,603.6 266.9,607.8 268.1,608.2 267.1,605z"/>
<path class="m" d="M262,603.6 263.4,607.8 268.5,609.2 267.1,605z"/>
<path class="k16" d="M261.5,601.4 262,603.6 267.1,605 264.5,602.3zM264.5,602.3 267.1,605 266.6,602.8z"/>
<path class="k17" d="M260.7,598.2 261.5,601.4 264.5,602.3zM260.7,598.2 264.5,602.3 266.6,602.8 265.8,599.6z"/>
<path class="m" d="M260.7,598.2 262,603.6 267.1,605 265.8,599.6z"/>
<path class="k17" d="M260.3,596 260.7,598.2 265.8,599.6 263.9,597zM263.9,597 265.8,599.6 265.4,597.4z"/>
<path class="k18" d="M259.5,591.2 260.3,596 263.9,597zM259.5,591.2 263.9,597 265.4,597.4 264.6,592.6z"/>
<path class="m" d="M259.5,591.2 260.7,598.2 265.8,599.6 264.6,592.6z"/>
<path class="k18" d="M259.4,590.6 259.5,591.2 264.6,592.6 264.3,591.9zM264.3,591.9 264.6,592.6 264.5,592z"/>
<path class="k19" d="M258.8,585.2 259.4,590.6 264.3,591.9 261.2,585.8zM261.2,585.8 264.3,591.9 264.5,592 263.9,586.6z"/>
<path class="k20" d="M258.1,579.7 258.8,585.2 261.2,585.8zM258.1,579.7 261.2,585.8 263.9,586.6 263.2,581.1z"/>
<path class="m" d="M258.1,579.7 259.5,591.2 264.6,592.6 263.2,581.1z"/>
<path class="k20" d="M258.1,579.7 258.1,579.7 263.2,581.1 263.2,581.1zM263.2,581.1 263.2,581.1 263.2,581.1z"/>
<path class="k21" d="M257.5,574.2 258.1,579.7 263.2,581.1 261,575.2zM261,575.2 263.2,581.1 263.2,581.1 262.6,575.6z"/>
<path class="k22" d="M256.9,568.8 257.5,574.2 261,575.2 258.8,569.3zM258.8,569.3 261,575.2 262.6,575.6 262,570.2z"/>
<path class="k23" d="M256.3,563.3 256.9,568.8 258.8,569.3 256.6,563.4zM256.6,563.4 258.8,569.3 262,570.2 261.4,564.7z"/>
<path class="k24" d="M256.2,562.3 256.3,563.3 256.6,563.4zM256.2,562.3 256.6,563.4 261.4,564.7 261.3,563.7z"/>
<path class="m" d="M256.2,562.3 258.1,579.7 263.2,581.1 261.3,563.7z"/>
<path class="k24" d="M255.7,557.9 256.2,562.3 261.3,563.7 259.9,559zM259.9,559 261.3,563.7 260.8,559.3z"/>
<path class="k25" d="M255.1,552.4 255.7,557.9 259.9,559 258.1,553.2zM258.1,553.2 259.9,559 260.8,559.3 260.2,553.8z"/>
<path class="k26" d="M254.4,547 255.1,552.4 258.1,553.2 256.3,547.5zM256.3,547.5 258.1,553.2 260.2,553.8 259.5,548.4z"/>
<path class="k27" d="M253.8,541.5 254.4,547 256.3,547.5 254.5,541.7zM254.5,541.7 256.3,547.5 259.5,548.4 258.9,542.9z"/>
<path class="k28" d="M253.4,538.2 253.8,541.5 254.5,541.7zM253.4,538.2 254.5,541.7 258.9,542.9 258.5,539.6z"/>
<path class="m" d="M253.4,538.2 256.2,562.3 261.3,563.7 258.5,539.6z"/>
<path class="e" d="M253.4,538.2 258.5,539.6"/>
<path class="k21" d="M449.6,559.2 473.5,555.3 478.6,556.7 454.7,560.6z"/>
<path class="m" d="M449.6,559.2 473.5,555.3 478.6,556.7 454.7,560.6z"/>
<path class="e" d="M454.7,560.6 478.6,556.7"/>
<path class="k20" d="M425.7,564 445,560.1 449.2,561.2zM425.7,564 449.2,561.2 450.2,561.5 430.8,565.4z"/>
<path class="k21" d="M445,560.1 449.6,559.2 454.7,560.6 449.2,561.2zM449.2,561.2 454.7,560.6 450.2,561.5z"/>
<path class="m" d="M425.7,564 449.6,559.2 454.7,560.6 430.8,565.4z"/>
<path class="e" d="M430.8,565.4 454.7,560.6"/>
<path class="k20" d="M401.8,568.8 425.7,564 430.8,565.4 406.9,570.2z"/>
<path class="m" d="M401.8,568.8 425.7,564 430.8,565.4 406.9,570.2z"/>
<path class="e" d="M406.9,570.2 430.8,565.4"/>
<path class="k19" d="M377.9,573.7 381.2,573 381.9,573.2zM377.9,573.7 381.9,573.2 386.3,574.4 383,575.1z"/>
<path class="k20" d="M381.2,573 401.8,568.8 406.9,570.2 381.9,573.2zM381.9,573.2 406.9,570.2 386.3,574.4z"/>
<path class="m" d="M377.9,573.7 401.8,568.8 406.9,570.2 383,575.1z"/>
<path class="e" d="M383,575.1 406.9,570.2"/>
<path class="k19" d="M354,579.1 377.9,573.7 383,575.1 359.1,580.5z"/>
<path class="m" d="M354,579.1 377.9,573.7 383,575.1 359.1,580.5z"/>
<path class="e" d="M359.1,580.5 383,575.1"/>
<path class="k18" d="M330.2,585.9 338.6,583.5 340.4,583.9zM330.2,585.9 340.4,583.9 343.7,584.9 335.3,587.3z"/>
<path class="k19" d="M338.6,583.5 354,579.1 359.1,580.5 340.4,583.9zM340.4,583.9 359.1,580.5 343.7,584.9z"/>
<path class="m" d="M330.2,585.9 354,579.1 359.1,580.5 335.3,587.3z"/>
<path class="e" d="M335.3,587.3 359.1,580.5"/>
<path class="k18" d="M318.2,590 330.2,585.9 335.3,587.3 323.3,591.4z"/>
<path class="m" d="M318.2,590 330.2,585.9 335.3,587.3 323.3,591.4z"/>
<path class="e" d="M323.3,591.4 335.3,587.3"/>
<path class="k17" d="M306.3,595 313.8,591.8 317,592.7zM306.3,595 317,592.7 318.9,593.2 311.4,596.4z"/>
<path class="k18" d="M313.8,591.8 318.2,590 323.3,591.4 317,592.7zM317,592.7 323.3,591.4 318.9,593.2z"/>
<path class="m" d="M306.3,595 318.2,590 323.3,591.4 311.4,596.4z"/>
<path class="e" d="M311.4,596.4 323.3,591.4"/>
<path class="k17" d="M296.7,599.1 306.3,595 311.4,596.4 301.8,600.5z"/>
<path class="m" d="M296.7,599.1 306.3,595 311.4,596.4 301.8,600.5z"/>
<path class="e" d="M301.8,600.5 311.4,596.4"/>
<path class="k16" d="M287.2,604 296.2,599.4 301,600.7zM287.2,604 301,600.7 301.3,600.8 292.3,605.4z"/>
<path class="k17" d="M296.2,599.4 296.7,599.1 301.8,600.5 301,600.7zM301,600.7 301.8,600.5 301.3,600.8z"/>
<path class="m" d="M287.2,604 296.7,599.1 301.8,600.5 292.3,605.4z"/>
<path class="e" d="M292.3,605.4 301.8,600.5"/>
<path class="k15" d="M282.4,608.2 284.5,606.3 286.9,606.9zM282.4,608.2 286.9,606.9 289.7,607.7 287.5,609.6z"/>
<path class="k16" d="M284.5,606.3 287.2,604 292.3,605.4 286.9,606.9zM286.9,606.9 292.3,605.4 289.7,607.7z"/>
<path class="m" d="M282.4,608.2 287.2,604 292.3,605.4 287.5,609.6z"/>
<path class="e" d="M287.5,609.6 292.3,605.4"/>
<path class="k14" d="M279.3,612.6 279.4,612.4 279.6,612.5zM279.3,612.6 279.6,612.5 284.5,613.8 284.4,614z"/>
<path class="k15" d="M279.4,612.4 282.4,608.2 287.5,609.6 279.6,612.5zM279.6,612.5 287.5,609.6 284.5,613.8z"/>
<path class="m" d="M279.3,612.6 282.4,608.2 287.5,609.6 284.4,614z"/>
<path class="e" d="M284.4,614 287.5,609.6"/>
<path class="k14" d="M276.9,616.6 279.3,612.6 284.4,614 282,618z"/>
<path class="m" d="M276.9,616.6 279.3,612.6 284.4,614 282,618z"/>
<path class="e" d="M282,618 284.4,614"/>
<path class="k13" d="M274.9,618.6 275,618.4 275.4,618.5zM274.9,618.6 275.4,618.5 280.1,619.8 280,620z"/>
<path class="k14" d="M275,618.4 276.9,616.6 282,618 275.4,618.5zM275.4,618.5 282,618 280.1,619.8z"/>
<path class="m" d="M274.9,618.6 276.9,616.6 282,618 280,620z"/>
<path class="e" d="M280,620 282,618"/>
<path class="k13" d="M274.8,618.5 274.9,618.6 280,620 279.6,619.8zM279.6,619.8 280,620 279.9,619.9z"/>
<path class="k14" d="M272.1,616.6 274.8,618.5 279.6,619.8zM272.1,616.6 279.6,619.8 279.9,619.9 277.2,618z"/>
<path class="m" d="M272.1,616.6 274.9,618.6 280,620 277.2,618z"/>
<path class="e" d="M277.2,618 280,620"/>
<path class="k14" d="M270.3,613.5 272.1,616.6 277.2,618 275.4,614.9z"/>
<path class="m" d="M270.3,613.5 272.1,616.6 277.2,618 275.4,614.9z"/>
<path class="e" d="M275.4,614.9 277.2,618"/>
<path class="k14" d="M270.3,613.5 270.3,613.5 275.4,614.9 275.4,614.9zM275.4,614.9 275.4,614.9 275.4,614.9z"/>
<path class="k15" d="M268.5,609.2 270.3,613.5 275.4,614.9zM268.5,609.2 275.4,614.9 275.4,614.9 273.6,610.6z"/>
<path class="m" d="M268.5,609.2 270.3,613.5 275.4,614.9 273.6,610.6z"/>
<path class="e" d="M273.6,610.6 275.4,614.9"/>
<path class="k15" d="M268.1,608.2 268.5,609.2 273.6,610.6 272,609.2zM272,609.2 273.6,610.6 273.2,609.6z"/>
<path class="k16" d="M267.1,605 268.1,608.2 272,609.2zM267.1,605 272,609.2 273.2,609.6 272.2,606.4z"/>
<path class="m" d="M267.1,605 268.5,609.2 273.6,610.6 272.2,606.4z"/>
<path class="e" d="M272.2,606.4 273.6,610.6"/>
<path class="k16" d="M266.6,602.8 267.1,605 272.2,606.4 269.6,603.7zM269.6,603.7 272.2,606.4 271.7,604.2z"/>
<path class="k17" d="M265.8,599.6 266.6,602.8 269.6,603.7zM265.8,599.6 269.6,603.7 271.7,604.2 270.9,601z"/>
<path class="m" d="M265.8,599.6 267.1,605 272.2,606.4 270.9,601z"/>
<path class="e" d="M270.9,601 272.2,606.4"/>
<path class="k17" d="M265.4,597.4 265.8,599.6 270.9,601 269,598.4zM269,598.4 270.9,601 270.5,598.8z"/>
<path class="k18" d="M264.6,592.6 265.4,597.4 269,598.4zM264.6,592.6 269,598.4 270.5,598.8 269.7,594z"/>
<path class="m" d="M264.6,592.6 265.8,599.6 270.9,601 269.7,594z"/>
<path class="e" d="M269.7,594 270.9,601"/>
<path class="k18" d="M264.5,592 264.6,592.6 269.7,594 269.4,593.3zM269.4,593.3 269.7,594 269.6,593.4z"/>
<path class="k19" d="M263.9,586.6 264.5,592 269.4,593.3 266.3,587.2zM266.3,587.2 269.4,593.3 269.6,593.4 269,588z"/>
<path class="k20" d="M263.2,581.1 263.9,586.6 266.3,587.2zM263.2,581.1 266.3,587.2 269,588 268.3,582.5z"/>
<path class="m" d="M263.2,581.1 264.6,592.6 269.7,594 268.3,582.5z"/>
<path class="e" d="M268.3,582.5 269.7,594"/>
<path class="k20" d="M263.2,581.1 263.2,581.1 268.3,582.5 268.3,582.5zM268.3,582.5 268.3,582.5 268.3,582.5z"/>
<path class="k21" d="M262.6,575.6 263.2,581.1 268.3,582.5 266.1,576.6zM266.1,576.6 268.3,582.5 268.3,582.5 267.7,577z"/>
<path class="k22" d="M262,570.2 262.6,575.6 266.1,576.6 264,570.7zM264,570.7 266.1,576.6 267.7,577 267.1,571.6z"/>
<path class="k23" d="M261.4,564.7 262,570.2 264,570.7 261.8,564.8zM261.8,564.8 264,570.7 267.1,571.6 266.5,566.1z"/>
<path class="k24" d="M261.3,563.7 261.4,564.7 261.8,564.8zM261.3,563.7 261.8,564.8 266.5,566.1 266.4,565.1z"/>
<path class="m" d="M261.3,563.7 263.2,581.1 268.3,582.5 266.4,565.1z"/>
<path class="e" d="M266.4,565.1 268.3,582.5"/>
<path class="k24" d="M260.8,559.3 261.3,563.7 266.4,565.1 265,560.4zM265,560.4 266.4,565.1 265.9,560.7z"/>
<path class="k25" d="M260.2,553.8 260.8,559.3 265,560.4 263.2,554.6zM263.2,554.6 265,560.4 265.9,560.7 265.3,555.2z"/>
<path class="k26" d="M259.5,548.4 260.2,553.8 263.2,554.6 261.4,548.9zM261.4,548.9 263.2,554.6 265.3,555.2 264.6,549.8z"/>
<path class="k27" d="M258.9,542.9 259.5,548.4 261.4,548.9 259.6,543.1zM259.6,543.1 261.4,548.9 264.6,549.8 264,544.3z"/>
<path class="k28" d="M258.5,539.6 258.9,542.9 259.6,543.1zM258.5,539.6 259.6,543.1 264,544.3 263.6,541z"/>
<path class="m" d="M258.5,539.6 261.3,563.7 266.4,565.1 263.6,541z"/>
<path class="e" d="M263.6,541 266.4,565.1"/>
<path class="e" d="M258.5,539.6 263.6,541"/></g>
<text x="78" y="679.3" font-size="19" text-anchor="end" font-family='"Liberation Sans", sans-serif'>0</text>
<text x="78" y="624" font-size="19" text-anchor="end" font-family='"Liberation Sans", sans-serif'>1</text>
<text x="78" y="568.7" font-size="19" text-anchor="end" font-family='"Liberation Sans", sans-serif'>2</text>
<text x="78" y="513.4" font-size="19" text-anchor="end" font-family='"Liberation Sans", sans-serif'>3</text>
<text x="41" y="452.6" font-size="18.5" text-anchor="start" font-family='"Liberation Sans", sans-serif'>4x10<tspan dy="-7.5" font-size="12.5">-3</tspan></text>
<text x="114" y="702" font-size="19" text-anchor="middle" font-family='"Liberation Sans", sans-serif'>100</text>
<text x="165.7" y="716" font-size="19" text-anchor="middle" font-family='"Liberation Sans", sans-serif'>200</text>
<text x="216.8" y="728.3" font-size="19" text-anchor="middle" font-family='"Liberation Sans", sans-serif'>300</text>
<text x="290.2" y="725.8" font-size="19" text-anchor="middle" font-family='"Liberation Sans", sans-serif'>20</text>
<text x="337.4" y="720.8" font-size="19" text-anchor="middle" font-family='"Liberation Sans", sans-serif'>40</text>
<text x="385.5" y="715.2" font-size="19" text-anchor="middle" font-family='"Liberation Sans", sans-serif'>60</text>
<text x="432.6" y="710.2" font-size="19" text-anchor="middle" font-family='"Liberation Sans", sans-serif'>80</text>
<text x="488" y="705" font-size="19" text-anchor="middle" font-family='"Liberation Sans", sans-serif'>100</text>
<text x="28.6" y="755" font-size="22.85" text-anchor="start" font-family='"Liberation Sans", sans-serif'># of Subbands</text>
<text x="28.2" y="784" font-size="22.85" text-anchor="start" font-family='"Liberation Sans", sans-serif'>Considered</text>
<text x="348" y="755" font-size="22.85" text-anchor="start" font-family='"Liberation Sans", sans-serif'>Nanowire</text>
<text x="348" y="784" font-size="22.85" text-anchor="start" font-family='"Liberation Sans", sans-serif'>Radius (nm)</text>
<text transform="translate(30.5 580.5) rotate(-90)" font-size="22.85" text-anchor="middle" font-family='"Liberation Sans", sans-serif'>Power Factor (W/m-K<tspan dy="-7.5" font-size="14">2</tspan><tspan dy="7.5">)</tspan></text>
<text x="433.2" y="436.4" font-size="28" text-anchor="start" font-family='"Liberation Serif", serif'>(b)</text>
<polygon fill="#9a9a9a" points="91.6,822.2 91.6,825.6 94.4,826.1 97.2,826.3 100,826.6 102.9,826.9 105.7,827.3 108.5,827.9 111.3,828.6 114.1,829.2 116.9,829.8 119.7,830.3 122.6,830.8 125.4,831.3 128.2,831.8 131,832.4 133.8,833.1 136.6,833.7 139.4,834.4 142.3,835.1 145.1,835.8 147.9,836.6 150.7,837.5 153.5,838.4 156.3,839.4 159.1,840.3 162,841.3 164.8,842.3 167.6,843.3 170.4,844.3 173.2,845.3 176,846.4 178.8,847.5 181.7,848.5 184.5,849.6 187.3,850.8 190.1,851.9 192.9,853.1 195.7,854.3 198.5,855.6 201.4,856.8 204.2,858.1 207,859.5 209.8,860.8 212.6,862.1 215.4,863.5 218.2,864.9 221.1,866.2 223.9,867.6 226.7,869 229.5,870.5 232.3,871.9 235.1,873.4 237.9,874.8 240.8,876.3 243.6,877.8 246.4,879.3 249.2,880.9 252,882.4 254.8,884 257.6,885.5 260.5,887 263.3,888.6 266.1,890.1 268.9,891.6 271.7,893.2 274.5,894.8 277.3,896.4 280.2,898.1 283,899.8 285.8,901.6 288.6,903.4 291.4,905.3 294.2,907.2 297.1,909.1 299.9,911 302.7,912.9 305.5,914.9 308.3,916.8 311.1,918.8 313.9,920.7 316.8,922.7 319.6,924.7 322.4,926.7 325.2,928.7 328,930.8 330.8,932.9 333.6,935.1 336.5,937.3 339.3,939.5 342.1,941.8 344.9,944.1 347.7,946.4 350.5,948.7 353.3,950.9 356.2,953.1 359,955.3 361.8,957.3 364.6,959.4 367.4,961.4 370.2,963.5 373,965.5 375.9,967.6 378.7,969.8 381.5,972 384.3,974.2 387.1,976.4 389.9,978.6 392.7,980.9 395.6,983.2 398.4,985.6 401.2,988 404,990.5 406.8,993.1 409.6,995.7 412.4,998.5 415.3,1001.3 418.1,1004.1 420.9,1006.9 423.7,1009.7 426.5,1012.6 429.3,1015.5 432.1,1018.4 435,1021.3 437.8,1024.2 440.6,1027.1 443.4,1030 446.2,1032.9 449,1035.9 451.8,1038.8 454.7,1041.7 457.5,1044.7 460.3,1047.6 463.1,1050.6 465.9,1053.6 468.7,1056.5 471.5,1059.5 474.4,1062.5 477.2,1065.5 480,1068.5 482.8,1071.5 482.8,822.2"/>
<clipPath id="cc"><rect x="91.6" y="822.2" width="391.2" height="302.8"/></clipPath>
<g fill="none" stroke-width="1.5" stroke-opacity=".82" stroke-linejoin="round" clip-path="url(#cc)"><polyline stroke="#bc3418" points="485.1,824.9 397.9,824 302.3,823.2 197.6,822.6 92.3,822.2"/><polyline stroke="#c03818" points="485.1,827.8 398.8,825.9 314.2,824.5 202.8,823.1 157.7,822.7 92.3,822.3"/><polyline stroke="#c83c18" points="485.1,831.1 400.5,828.2 314.2,825.9 271.9,825 195.9,823.6 146.7,822.9 121.7,822.7 92.3,822.3"/><polyline stroke="#d44418" points="485.1,834.8 399.6,830.6 335.8,828.1 314.2,827.4 271,826.1 192.5,824.1 147.6,823.2 122.5,822.9 104.4,822.5 92.3,822.3"/><polyline stroke="#e4541c" points="485.1,838.5 399.6,833.1 335.8,829.9 314.2,828.9 271.9,827.2 232.2,825.9 195,824.7 147.6,823.4 121.7,823.1 104.4,822.6 92.3,822.4"/><polyline stroke="#f06420" points="485.1,842.2 399.6,835.6 335.8,831.6 314.2,830.4 271.9,828.4 233.8,826.7 195,825.2 148.2,823.7 122.5,823.3 104.4,822.6 92.3,822.4"/><polyline stroke="#f47c20" points="485.1,846 399.6,838.1 379.8,836.6 335.8,833.4 313.3,831.9 271,829.5 232.2,827.5 193.6,825.7 147.6,824 138.1,823.7 122.5,823.5 104.1,822.7 92.3,822.5"/><polyline stroke="#f49420" points="485.1,849.8 439.4,845 411.8,841.9 399.6,840.6 379.6,838.9 335.8,835.2 314.2,833.5 272.8,830.8 230.1,828.3 193.3,826.3 147.6,824.3 138.1,824 121.7,823.6 103.5,822.8 92.3,822.5"/><polyline stroke="#f7d020" points="485.1,853.7 458.8,850.5 439.4,848.2 411.7,844.7 399.6,843.2 379.8,841.2 356.5,839.1 335.8,837 314.2,835.2 271,831.9 233.9,829.4 195,827 147.6,824.6 137.2,824.2 122.5,823.9 113,823.4 104.4,822.9 92.3,822.5"/><polyline stroke="#f0eb20" points="485.1,857.7 457.5,853.9 439.4,851.5 411.7,847.5 399.6,845.9 379.8,843.7 356.5,841.2 335.8,838.9 314.2,836.8 271.9,833.2 233,830.2 195,827.6 147.6,824.9 138.1,824.5 121.7,824.1 112.2,823.6 104.4,823 92.3,822.6"/><polyline stroke="#bcda2c" points="485.1,861.8 457.5,857.5 439.4,854.8 411.7,850.4 399.6,848.6 379.8,846.1 356.5,843.4 335.8,840.8 314.2,838.5 283.1,835.4 270.6,834.3 235,831.3 195.8,828.3 148.3,825.2 136.4,824.7 122.5,824.4 114.8,823.9 105.3,823.1 92.3,822.6"/><polyline stroke="#81c630" points="485.1,865.8 457,861.1 439.4,858.2 411.7,853.3 399.6,851.4 378.9,848.4 356.5,845.6 335.8,842.7 314.2,840.2 273.2,835.8 229.9,831.8 193.7,828.8 150.3,825.7 138.9,825.1 122.5,824.8 113.9,824.1 105.2,823.2 92.3,822.6"/><polyline stroke="#56b538" points="485.1,870 458.6,865.1 439.4,861.7 410.9,856.2 398.8,854 378.7,851 356.5,847.8 336.6,844.9 313.8,841.9 283.6,838.3 269.5,836.8 234.9,833.3 196.6,829.8 177.6,828.3 145.8,825.9 137.2,825.5 126.8,825.3 121.7,825.1 114.8,824.5 103.9,823.2 92.3,822.7"/><polyline stroke="#43ac3e" points="485.1,874.5 458.5,869.1 439.4,865.5 411.5,859.5 398.4,857 380.4,854 356.5,850.3 335.7,846.9 315,844 273.6,838.9 232.7,834.3 197.9,830.8 181.2,829.3 151.3,826.7 144.3,826.2 135.5,825.8 131.2,825.8 126.8,825.8 121.7,825.6 116.5,825 107.4,823.7 104.4,823.4 101.8,823.2 92.3,822.7"/><polyline stroke="#46b166" points="485.1,879.6 458.1,873.7 439.4,869.8 410.4,863.1 398.4,860.6 379.3,857 356.5,853.2 336.6,849.6 316.2,846.4 283.1,841.9 271.4,840.4 234.4,835.8 198.4,831.8 177.8,829.8 150.6,827.2 144.1,826.7 138.1,826.4 132.9,826.4 124.3,826.7 122.5,826.7 120.8,826.5 109.3,824.2 106.2,823.7 101.1,823.2 92.3,822.8"/><polyline stroke="#5ac0aa" points="118,1125 118,829.8 117.4,828.3 117,827.8 115.8,826.7 113.4,825.7 110.1,824.7 108,824.2 104.4,823.6 99.8,823.2 92.3,822.8"/><polyline stroke="#5ac0aa" points="485.1,885.3 457.7,878.7 439.4,874.6 410.2,867.1 398.8,864.5 379.5,860.6 356.5,856.3 337.1,852.5 328.7,851 316.8,849 279.7,843.4 242.6,838.3 222.9,835.8 193.3,832.3 153.4,828.3 148,827.8 140.9,827.2 136.3,827.1 132.5,827.2 129.7,827.8 128.5,828.3 127.4,829.3 127.1,829.8 126.7,830.8 126.6,831.8 126.6,1125"/><polyline stroke="#62bce4" points="112.6,1125 112.6,828.8 112.2,827.2 111.5,826.2 109.9,825.2 108.6,824.7 106.7,824.2 103.9,823.7 98.6,823.2 92.3,822.9"/><polyline stroke="#62bce4" points="485.1,891.3 458.1,884.3 439.4,879.6 410.9,871.7 399,868.6 378.6,864.1 357.3,859.8 337.4,855.5 329.8,854 318.5,851.9 281.8,845.9 271.9,844.4 233.9,838.9 199.2,834.3 186,832.8 148.2,828.8 142.4,828.4 138.9,828.4 135.5,828.7 134.1,829.3 132.9,830.3 132.3,831.8 132.2,832.8 132.2,1125"/><polyline stroke="#4b9cd8" points="485.1,897.9 456.7,889.8 439.4,885.2 410,876.2 398.8,873.1 378.4,868.1 356.5,863.3 338.5,859 329.1,857 318.5,854.9 278.5,847.9 246.7,842.9 226.5,839.9 197,835.8 188.9,834.8 179.6,833.8 151.9,831.3 148.4,831.1 145.8,831.2 143.2,831.8 142.2,832.3 141,833.8 140.8,834.8 140.8,1125"/><polyline stroke="#4b73c4" points="485.1,905.3 456,896.4 445.6,893.4 439.4,891.7 410,881.7 398.3,878.2 379.5,873.2 357.3,867.8 339,863.1 330.4,861.1 321,859 313.4,857.5 297.8,854.8 277.1,851 244.6,845.4 229,842.9 211.2,840.4 202.7,839.4 193.3,838.4 186.4,837.9 182.1,837.7 178.6,837.7 176,837.9 172.6,838.5 171.5,838.9 170.4,839.4 169.2,840.4 168.4,841.4 167.9,842.4 167.7,843.4 167.7,1125"/><polyline stroke="#4b5fba" points="485.1,914.5 471.7,910 456.1,905 446.3,901.9 439.4,900 409.7,888.8 404,886.8 396.2,884.3 378.1,878.9 357.3,873.4 340.6,868.6 333,866.6 324.6,864.6 313.3,862.1 297.8,859.3 275.7,855 252,851 242.1,849.5 233.9,848.3 226.5,847.4 220.9,846.9 215.8,846.5 211.4,846.4 208,846.8 204.5,847.4 202.7,847.9 201.5,848.4 200.7,848.9 199.4,850.4 198.3,852 197.6,853.5 197.4,855 197.4,1125"/><polyline stroke="#4242a6" points="485.1,926.2 471.3,921.1 455.8,915.6 446.3,912.4 439.4,910.4 408.6,897.4 402.1,894.9 395,892.3 384.5,888.8 375,885.8 357.3,880.5 340.4,875.2 335.2,873.7 329.4,872.2 318.7,869.6 313.3,868.6 309.9,868.1 297.8,866.8 276.2,863.6 268.4,862.6 263.2,862.1 258.9,861.8 256.3,861.8 252.9,861.9 249.4,862.1 246.3,862.6 244.1,863.1 242.5,863.6 240.8,864.6 238.9,866.6 237.2,869.1 236.3,871.2 235.9,873.7 235.9,1125"/><polyline stroke="#322d90" points="485.1,943 470.4,937.8 455.8,932.9 450.6,931.3 446.3,930.1 443.7,929.5 440.2,929 439.4,928.7 430.7,924.6 407.8,913 402.3,910.5 396.3,908 386.1,904 375.3,899.9 347.6,890.3 339.7,887.8 333.2,886.1 326.3,884.6 321.9,883.8 318.5,883.4 316.8,883.2 315,883.2 313.3,883.4 311.6,883.8 308.1,885.1 304.9,886.8 303.5,887.8 302.1,889 300.8,890.3 299.8,891.8 297.3,897.4 295.6,902.4 295.2,904.5 295,907 295,1125"/><polyline stroke="#312388" points="485.1,981.2 481.7,980.6 477.3,980.1 473,979.8 468.7,979.7 465.3,979.7 461.8,980 458.3,980.6 455.8,981.4 453.2,982.5 451.4,983.6 449.7,985 448.1,986.7 447.1,988.2 446.3,989.8 443.7,996.6 442.8,999.7 441.4,1006.9 439.7,1017.5 438.9,1024.6 438.9,1125"/></g>
<polygon fill="#9a9a9a" fill-opacity=".36" points="91.6,822.2 91.6,825.6 94.4,826.1 97.2,826.3 100,826.6 102.9,826.9 105.7,827.3 108.5,827.9 111.3,828.6 114.1,829.2 116.9,829.8 119.7,830.3 122.6,830.8 125.4,831.3 128.2,831.8 131,832.4 133.8,833.1 136.6,833.7 139.4,834.4 142.3,835.1 145.1,835.8 147.9,836.6 150.7,837.5 153.5,838.4 156.3,839.4 159.1,840.3 162,841.3 164.8,842.3 167.6,843.3 170.4,844.3 173.2,845.3 176,846.4 178.8,847.5 181.7,848.5 184.5,849.6 187.3,850.8 190.1,851.9 192.9,853.1 195.7,854.3 198.5,855.6 201.4,856.8 204.2,858.1 207,859.5 209.8,860.8 212.6,862.1 215.4,863.5 218.2,864.9 221.1,866.2 223.9,867.6 226.7,869 229.5,870.5 232.3,871.9 235.1,873.4 237.9,874.8 240.8,876.3 243.6,877.8 246.4,879.3 249.2,880.9 252,882.4 254.8,884 257.6,885.5 260.5,887 263.3,888.6 266.1,890.1 268.9,891.6 271.7,893.2 274.5,894.8 277.3,896.4 280.2,898.1 283,899.8 285.8,901.6 288.6,903.4 291.4,905.3 294.2,907.2 297.1,909.1 299.9,911 302.7,912.9 305.5,914.9 308.3,916.8 311.1,918.8 313.9,920.7 316.8,922.7 319.6,924.7 322.4,926.7 325.2,928.7 328,930.8 330.8,932.9 333.6,935.1 336.5,937.3 339.3,939.5 342.1,941.8 344.9,944.1 347.7,946.4 350.5,948.7 353.3,950.9 356.2,953.1 359,955.3 361.8,957.3 364.6,959.4 367.4,961.4 370.2,963.5 373,965.5 375.9,967.6 378.7,969.8 381.5,972 384.3,974.2 387.1,976.4 389.9,978.6 392.7,980.9 395.6,983.2 398.4,985.6 401.2,988 404,990.5 406.8,993.1 409.6,995.7 412.4,998.5 415.3,1001.3 418.1,1004.1 420.9,1006.9 423.7,1009.7 426.5,1012.6 429.3,1015.5 432.1,1018.4 435,1021.3 437.8,1024.2 440.6,1027.1 443.4,1030 446.2,1032.9 449,1035.9 451.8,1038.8 454.7,1041.7 457.5,1044.7 460.3,1047.6 463.1,1050.6 465.9,1053.6 468.7,1056.5 471.5,1059.5 474.4,1062.5 477.2,1065.5 480,1068.5 482.8,1071.5 482.8,822.2"/>
<defs><linearGradient id="sg" x1="0" x2="1" y1="0" y2="0"><stop offset="0" stop-color="#a070c0"/><stop offset=".06" stop-color="#6b2f8f"/><stop offset=".3" stop-color="#6b3091"/><stop offset=".4" stop-color="#5a3f98"/><stop offset=".5" stop-color="#4a489c"/><stop offset=".68" stop-color="#4a4fa0"/><stop offset=".78" stop-color="#4a6ab8"/><stop offset=".86" stop-color="#6a9ad8"/><stop offset=".92" stop-color="#86bce6"/><stop offset="1" stop-color="#8ec4ea"/></linearGradient></defs>
<polygon fill="url(#sg)" points="92.6,825.8 96.2,826.2 99.7,826.6 103.3,826.9 106.8,827.5 110.4,828.4 110.4,1125 92.6,1125"/>
<rect x="126.4" y="869.7" width="28" height="25" fill="#fff"/>
<text x="140.4" y="889.4" font-size="20" text-anchor="middle" font-family='"Liberation Sans", sans-serif'>1.8</text>
<rect x="152" y="910.7" width="28" height="25" fill="#fff"/>
<text x="166" y="930.4" font-size="20" text-anchor="middle" font-family='"Liberation Sans", sans-serif'>1.9</text>
<rect x="181.9" y="954.5" width="29" height="25" fill="#fff"/>
<text x="196.4" y="974.2" font-size="20" text-anchor="middle" font-family='"Liberation Sans", sans-serif'>2.0</text>
<rect x="220.8" y="997.1" width="28" height="25" fill="#fff"/>
<text x="234.8" y="1016.8" font-size="20" text-anchor="middle" font-family='"Liberation Sans", sans-serif'>2.1</text>
<rect x="280" y="1048.3" width="28" height="25" fill="#fff"/>
<text x="294" y="1068" font-size="20" text-anchor="middle" font-family='"Liberation Sans", sans-serif'>2.2</text>
<rect x="401" y="1077.5" width="76" height="26" fill="#fff"/>
<text x="402.8" y="1097.4" font-size="20" text-anchor="start" font-family='"Liberation Sans", sans-serif'>2.3x10<tspan dy="-7.8" font-size="13">-3</tspan></text>
<rect x="427.3" y="831.8" width="37.9" height="37.9" fill="#fff"/>
<text x="429.6" y="858.2" font-size="28" text-anchor="start" font-family='"Liberation Serif", serif'>(c)</text>
<path fill="none" stroke="#000" stroke-width="3" d="M92.6,825.8 97.7,826.4 102.8,826.8 107.9,827.8 113,829M127,831.6 131.5,832.5 136,833.6 140.5,834.6 145,835.8M157,839.6 161.5,841.1 166,842.7 170.5,844.3 175,846M185.2,849.9 190.4,852 195.6,854.3 200.8,856.6 206,859M218.8,865.1 223.2,867.3 227.6,869.5 232,871.7 236.4,874M249.2,880.9 253.6,883.3 258,885.7 262.4,888.1 266.8,890.5M274.8,894.9 278.6,897.2 282.5,899.5 286.4,902 290.2,904.5M299.8,910.9 303.8,913.7 307.8,916.5 311.8,919.2 315.8,922M326,929.3 329.9,932.2 333.7,935.1 337.5,938.1 341.4,941.2M352.6,950.3 356.6,953.5 360.6,956.5 364.6,959.4 368.6,962.3M378.2,969.4 382.2,972.5 386.2,975.7 390.2,978.9 394.2,982.1M403,989.6 407,993.2 411,997.1 415,1001 419,1005M428,1014.1 431.8,1018 435.5,1021.8 439.2,1025.7 443,1029.6M453,1040 456.8,1043.9 460.5,1047.9 464.2,1051.8 468,1055.8M477,1065.3 478.4,1066.9 479.9,1068.4 481.4,1069.9 482.8,1071.5"/>
<rect x="91.6" y="822.2" width="391.2" height="302.8" fill="none" stroke="#000" stroke-width="2.1"/>
<line x1="137.2" y1="1125" x2="137.2" y2="1114" stroke="#000" stroke-width="1.8"/>
<line x1="180.4" y1="1125" x2="180.4" y2="1119.5" stroke="#000" stroke-width="1.8"/>
<line x1="223.5" y1="1125" x2="223.5" y2="1114" stroke="#000" stroke-width="1.8"/>
<line x1="266.7" y1="1125" x2="266.7" y2="1119.5" stroke="#000" stroke-width="1.8"/>
<line x1="309.9" y1="1125" x2="309.9" y2="1114" stroke="#000" stroke-width="1.8"/>
<line x1="353" y1="1125" x2="353" y2="1119.5" stroke="#000" stroke-width="1.8"/>
<line x1="396.2" y1="1125" x2="396.2" y2="1114" stroke="#000" stroke-width="1.8"/>
<line x1="439.4" y1="1125" x2="439.4" y2="1119.5" stroke="#000" stroke-width="1.8"/>
<text x="136.6" y="1153.5" font-size="21.6" text-anchor="middle" font-family='"Liberation Sans", sans-serif'>20</text>
<text x="222.9" y="1153.5" font-size="21.6" text-anchor="middle" font-family='"Liberation Sans", sans-serif'>40</text>
<text x="309.3" y="1153.5" font-size="21.6" text-anchor="middle" font-family='"Liberation Sans", sans-serif'>60</text>
<text x="395.6" y="1153.5" font-size="21.6" text-anchor="middle" font-family='"Liberation Sans", sans-serif'>80</text>
<text x="482.3" y="1153.5" font-size="21.6" text-anchor="middle" font-family='"Liberation Sans", sans-serif'>100</text>
<text x="81" y="830.8" font-size="21.6" text-anchor="end" font-family='"Liberation Sans", sans-serif'>0</text>
<text x="81" y="881.3" font-size="21.6" text-anchor="end" font-family='"Liberation Sans", sans-serif'>50</text>
<text x="81" y="931.7" font-size="21.6" text-anchor="end" font-family='"Liberation Sans", sans-serif'>100</text>
<text x="81" y="982.2" font-size="21.6" text-anchor="end" font-family='"Liberation Sans", sans-serif'>150</text>
<text x="81" y="1032.7" font-size="21.6" text-anchor="end" font-family='"Liberation Sans", sans-serif'>200</text>
<text x="81" y="1083.1" font-size="21.6" text-anchor="end" font-family='"Liberation Sans", sans-serif'>250</text>
<text x="81" y="1132.8" font-size="21.6" text-anchor="end" font-family='"Liberation Sans", sans-serif'>300</text>
<text x="287.5" y="1184.2" font-size="24.2" text-anchor="middle" font-family='"Liberation Sans", sans-serif'>Nanowire Radius (nm)</text>
<text transform="translate(22.3 975) rotate(-90)" font-size="24" text-anchor="middle" font-family='"Liberation Sans", sans-serif'># of Subbands Considered</text>
</svg>
</body></html>
